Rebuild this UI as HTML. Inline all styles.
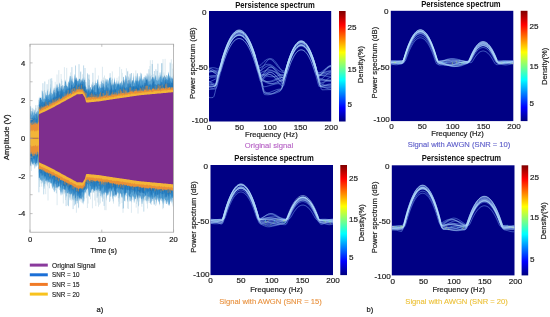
<!DOCTYPE html>
<html><head><meta charset="utf-8"><style>
html,body{margin:0;padding:0;background:#fff;width:550px;height:317px;overflow:hidden;}
svg{display:block;will-change:transform;}
</style></head><body><svg width="550" height="317" viewBox="0 0 550 317"><defs><clipPath id="lc"><rect x="30.0" y="44.2" width="143.6" height="188.0"/></clipPath><filter id="sb" x="-2%" y="-2%" width="104%" height="104%"><feGaussianBlur stdDeviation="0.4"/></filter></defs><g clip-path="url(#lc)"><g filter="url(#sb)"><path d="M30.1 118.2V114.4M29.9 158.2V165.1M30.3 118.2V111.7M30.3 158.2V161.6M30.8 118.2V106.5M31.2 158.2V166.2M31.7 118.2V112.7M31.4 158.2V171M31.9 118.2V114.6M32 158.2V162.2M32.5 118.2V112.9M32.4 158.2V161.6M32.9 118.2V112.5M32.9 158.2V164.3M33.4 118.2V109.2M33.7 158.2V165M34.2 118.2V113.6M34.1 158.2V164M34.3 118.2V111.9M34.5 158.2V168.5M35.1 118.2V113.4M35 158.2V165.6M35.5 118.2V105.2M35.6 158.2V161.6M36.1 118.2V105.2M36.1 158.2V163.7M36.4 118.2V112.2M36.6 158.2V161.6M37 118.2V113.8M37 158.2V161.7M37.6 118.2V105.2M37.5 158.2V162.9M38.2 118.2V105.2M37.9 158.2V162.2M38.5 118.2V111.9M38.5 158.2V161.3M39.2 106.2V97.7M39 170.3V178M39.7 105.9V102.6M39.6 170.6V187M39.8 105.7V99.4M39.8 170.8V174.2M40.4 105.5V101.3M40.4 171V174M40.8 105.3V99.3M40.9 171.2V180.4M41.4 105V99.3M41.7 171.5V186.7M41.8 104.8V97.5M41.9 171.7V177.4M42.3 104.6V100.5M43 104.4V100.3M43.2 172.1V180M43.4 104.1V93.4M43.6 172.4V176.5M43.9 103.9V91.1M44.2 172.6V186.4M44.6 103.7V90M44.5 172.8V177.5M44.8 103.5V100.3M45.1 173V178M45.7 173.2V194.2M45.9 173.5V178.1M46.5 102.7V98.3M47.1 102.5V95.2M47.1 174V177.6M47.5 174.3V186.3M47.9 102V88.9M48 174.5V200.5M48.6 101.7V79.6M48.4 174.8V178.7M49.1 175V179.1M49.5 175.3V181.1M50.2 101V97.9M50.2 175.5V183.4M50.6 100.7V84.3M50.4 175.8V180.7M50.9 100.4V91.7M51.2 176.1V180M51.5 100.2V93.2M52 99.9V80.7M51.8 176.6V184.4M52.3 99.7V95.4M52.5 176.8V181.1M52.9 99.4V91.1M53.1 177.1V185.3M53.4 99.2V90.8M53.5 177.3V190M54.2 98.9V86.6M54 177.6V186.8M54.5 98.7V88M54.7 177.8V185.1M55.2 98.4V81.8M55.2 178.1V186.4M55.3 98.1V94.2M55.4 178.4V181.9M56.1 97.8V87.7M56.1 178.7V182.7M56.7 97.6V93.6M57 97.3V74.5M57.1 179.2V205.2M57.5 97V90.4M57.4 179.5V183.9M58 96.8V93.6M57.9 179.7V182.9M58.3 96.5V88.8M58.8 96.2V70.2M59.1 180.3V183.6M59.5 95.9V92M59.9 95.7V90.7M60.3 95.4V84.5M60.5 181.1V191.7M61.1 95.1V74M61.1 181.4V185M61.5 94.8V78.9M61.7 181.7V189.9M62 94.6V90.7M61.9 181.9V185.7M62.4 94.3V89.8M62.4 182.2V194.5M62.9 94V89.7M62.8 182.5V187.4M63.4 93.7V85.5M63.3 182.8V203.5M64 93.5V86.8M64 183V189.3M64.4 93.2V67.2M64.6 183.3V194.3M64.8 92.9V87.1M65.1 183.6V187.1M65.3 92.7V88.5M65.6 183.8V200.1M65.9 92.4V87.6M66 184.1V188.2M66.7 92.1V67.9M66.7 184.4V189.2M66.8 91.8V86M67 184.7V191.8M67.3 91.6V84M67.5 184.9V188.5M67.9 91.3V88.1M68 185.2V193.9M68.6 91V81.1M68.4 185.5V191.7M69.1 185.7V197.1M69.7 90.5V75.8M69.6 186V197.6M70 90.2V82.4M70.1 186.3V199.9M70.6 89.9V72.4M70.3 186.6V191.3M70.8 89.7V83.8M71.1 186.8V195.1M71.5 89.4V79M71.6 187.1V200.5M72.1 89.1V81.1M71.9 187.4V199M72.6 88.9V83.8M72.7 187.6V199.4M73 88.6V82.4M73 187.9V200.4M73.4 88.3V84.8M73.4 188.2V200M73.8 88V85M74.1 188.5V198.7M74.5 87.8V82.5M74.3 188.7V195.8M75.2 87.5V83M75.6 87.2V80.2M75.9 86.9V81.9M76.4 86.6V78M76.4 189.9V212.7M77.2 86.3V78.7M77.2 190.2V194.9M77.3 86.3V83.2M77.4 190.2V197.1M77.9 86.3V80.6M78.1 190.2V193.2M78.7 86.3V82.4M78.4 190.2V208.3M79.2 86.2V80M79 190.3V196.2M79.3 86.2V82.9M79.7 190.3V195.5M80 86.2V81.2M80.2 190.3V196.3M80.6 86.2V72.3M80.8 190.4V201.6M81.6 86.1V79.2M81.3 190.4V195.6M81.9 190.4V197.6M82.7 86.1V74.3M82.4 190.4V200.4M82.9 86.6V80.3M83.2 189.9V194.5M83.7 87.4V82.8M83.9 88.3V84.3M83.8 188.2V194M84.5 89.1V84.2M84.5 187.4V199.4M85 90V82.1M84.9 186.6V190M85.6 184.6V192.1M85.9 93.9V89.3M86 182.6V189M86.3 181.9V198.3M87.2 94.6V83.5M86.8 181.9V190.7M87.6 94.5V74.5M87.4 182V208M88 94.5V90.4M88.1 182V203.5M88.5 94.4V82M88.6 182.1V185.3M89.1 94.4V75M88.9 182.1V186M89.3 94.3V83.5M89.5 182.2V190M90 94.3V89.6M90 182.2V187.6M90.5 182.3V199.3M91.2 94.2V89.3M90.8 182.3V187.7M91.5 94.1V83.8M91.7 182.4V192.5M91.9 94.1V90.8M91.9 182.4V192.9M92.5 94V82.3M92.4 182.5V208.3M92.9 94V89.3M93.2 182.5V187.8M93.4 93.9V89.6M93.7 182.6V192.7M93.9 93.9V87.6M94.3 93.8V90.5M94.7 182.7V200.5M95.2 93.8V67.8M95.2 182.7V187.1M95.6 93.7V90.5M95.4 182.8V188.8M95.9 93.7V90.6M95.8 182.8V206.1M96.6 182.9V188.8M96.8 93.6V86.9M97.2 182.9V189M97.7 93.5V87.6M97.6 183V189.4M97.8 93.5V90.2M97.9 183V202.5M98.4 93.4V75.5M98.5 183.1V206.7M98.9 93.4V82.2M99.1 183.1V186.2M99.3 183.2V204.8M100.2 93.2V86.1M100.5 93.2V88.3M100.4 183.3V203.4M101.1 93.1V81.4M100.9 183.4V192.5M101.6 93V87.1M101.6 183.5V187.9M101.8 92.9V89.5M102.2 183.6V189.1M102.4 92.8V66.8M102.5 183.7V187.3M102.9 92.8V85.9M103.1 183.7V193M103.6 92.7V77.5M103.4 183.8V198.8M104.1 92.6V86.6M103.9 183.9V188.7M104.5 92.5V75.5M104.7 184V190.2M105.1 92.5V87.7M104.8 184.1V210.1M105.6 92.4V78.3M105.8 92.3V87M106 184.2V210.2M106.5 184.3V200.4M107.2 92.1V79.4M107 184.4V193.3M107.4 92V86.1M107.5 184.4V189.4M107.8 92V87.5M107.9 184.5V194.9M108.6 91.9V87.4M108.3 184.6V188M109.1 91.8V83.6M109.1 184.7V188.9M109.4 91.7V86.6M109.9 91.7V83.2M110.2 184.8V200.8M110.6 91.6V87.1M110.7 184.9V188M111 91.5V77.3M110.9 185V192M111.6 91.4V83.2M111.9 91.4V82M111.9 185.1V189.2M112.3 91.3V71.4M112.7 185.2V198.8M113.2 91.2V87.3M113.7 91.1V87.8M113.5 185.4V203.6M114.1 91.1V86.9M114.1 185.4V191.8M114.4 91V86.7M114.5 185.5V193.3M115.1 90.9V86.1M115 185.6V188.9M115.6 90.8V87.6M115.5 185.7V194.6M116 90.8V85.4M116.1 185.7V192.3M116.3 90.7V83.9M116.4 185.8V193.2M117 90.6V77.8M116.8 185.9V193M117.3 90.5V83.9M117.3 185.9V193.6M118.1 90.5V86.9M117.8 186V193.7M118.7 90.4V84.3M118.7 186.1V201.7M118.9 90.3V76.4M119.7 90.3V66.9M119.7 186.2V199.3M120.1 90.2V84.4M119.9 186.3V204.1M120.5 90.1V86.1M121 90V85.1M120.9 186.5V189.7M121.6 90V69.1M121.6 186.5V190.7M122.1 89.9V82M122 186.6V203M122.3 89.8V72.9M123.1 89.7V83.5M123 186.8V212.8M123.5 89.7V77.3M123.3 186.8V198.7M124.1 89.6V84.7M124.4 89.5V79.4M124.4 187V190.2M125 89.5V82.8M124.9 187.1V191M125.3 89.4V86.2M125.4 187.1V190.9M126 89.3V80.6M126 187.2V196.6M126.4 89.2V68.3M126.6 187.3V190.9M127 89.2V76.3M127.1 187.3V190.4M127.6 89.1V83.3M127.6 187.4V208.4M127.8 89V70.8M127.9 187.5V193.9M128.3 88.9V76.1M128.4 187.6V209M129 88.9V79.8M128.9 187.6V201.5M129.3 88.8V83.5M129.6 187.7V200.6M130.1 88.7V73.6M130 187.8V199.6M130.4 88.6V84.9M130.6 187.9V193.5M131.1 88.6V73.4M131 187.9V196.2M131.4 88.5V80.7M131.4 188V212.8M131.9 88.4V85.3M132.2 188.1V199.9M132.7 88.3V82.8M132.7 188.2V192.9M133.1 88.3V77.6M133.6 88.2V73.3M133.6 188.3V195M133.9 88.1V82.7M134.2 188.4V191.9M134.3 88.1V84.9M134.8 88V84M135.1 188.5V199.2M135.3 87.9V76.2M135.6 188.6V194.5M135.8 87.8V70.4M136.2 188.7V207.6M136.3 87.8V83.3M136.6 188.7V204M137.1 87.7V73.4M136.8 188.8V192.5M137.4 87.6V83.1M137.4 188.9V192M137.9 87.5V76.4M138 189V213.6M138.3 87.5V78.2M138.6 189V195.8M139 87.4V76.5M138.8 189.1V205M139.3 87.3V83.1M139.7 189.2V201.5M140 87.2V79.9M140 189.2V193.6M140.4 87.2V72.6M141.1 87.2V82.6M141.1 189.3V193.1M141.6 87.1V74M141.4 189.4V198.8M142.2 87.1V80.8M141.8 189.4V206.7M142.7 87V82M142.7 189.5V195.6M143 87V80M143.1 189.5V201.6M143.4 86.9V81.4M143.6 189.6V199.6M144.1 86.9V80.1M144 189.6V193.5M144.4 86.8V82.1M144.6 189.7V200.6M144.9 86.8V82.7M144.9 189.7V197.5M145.7 86.7V82.4M145.7 189.8V193.5M146.2 86.7V80.5M146 189.8V201.4M146.3 86.7V77M146.3 189.8V196M147.1 86.6V73.4M147 189.9V199.4M147.5 86.6V77.5M147.5 189.9V208.5M148 86.5V74.5M148.2 190V201.3M148.6 86.5V75.6M148.5 190V199.7M148.8 86.4V77M149.1 190.1V203M149.5 86.4V81.5M149.5 190.1V199.4M149.9 86.3V66M150 190.2V203M150.3 86.3V60.3M150.6 190.2V194.4M151 190.3V194M151.5 86.2V75M151.5 190.3V204.8M151.9 86.1V63.9M152.1 190.4V196.6M152.4 86.1V60.1M152.5 190.4V195.5M153 86.1V79.5M152.9 190.4V196.3M153.7 86V74.2M153.6 190.5V195.1M153.9 86V81.4M154.1 190.5V204.3M154.4 85.9V77.5M155.1 85.9V76.2M154.9 190.6V197.7M155.6 85.8V82M155.4 190.7V206M156 85.8V80.9M156.1 190.7V193.7M156.4 85.7V80.9M156.6 190.8V197.4M157.2 85.7V79.8M157.1 190.8V194.2M157.6 190.9V194.8M157.8 85.6V82.5M158.3 85.5V80.7M158.6 191V195.7M159.2 85.5V81.4M159.2 191V195.2M159.6 85.5V72.6M159.6 191V204.1M160 85.4V74.7M160.2 191.1V197.8M160.4 85.4V80.4M160.3 191.1V198.6M161 85.3V81.3M161.1 191.2V199.2M161.5 85.3V70.3M161.6 191.2V201.3M162.2 85.2V78.7M162.1 191.3V200.9M162.6 85.2V76.1M163 85.1V59.1M162.8 191.4V209.2M163.4 85.1V75.7M163.5 191.4V197.4M163.9 85V72.5M164 191.5V198M164.6 85V79.7M164.4 191.5V199.1M165.1 84.9V58.9M164.9 191.6V197.2M165.6 84.9V76.2M165.6 191.6V194.9M165.8 84.9V76.7M165.9 191.6V194.7M166.6 191.7V201.7M167.1 191.7V201M167.6 84.7V75.8M167.5 191.8V201.9M167.9 84.7V81M168.2 191.8V204.5M168.6 84.6V78.6M168.4 191.9V200.2M168.9 84.6V78M169.2 191.9V201.6M169.3 84.5V76.1M169.5 192V205.8M170 192V195.1M170.7 84.4V63.4M170.3 192.1V198.5M170.9 84.4V79.8M171.1 192.1V195.1M171.3 84.3V59.3M171.3 192.2V196.1M172.1 84.3V79.5M172.1 192.2V195.5M172.6 84.3V68.7M172.6 192.2V201.7M172.9 84.2V63.7M173.3 84.2V81.1M173.3 192.3V206.4" stroke="#bcd6e4" stroke-width="0.6" fill="none" opacity="0.9"/><path d="M29.9 119.2V112M30.4 119.2V117M30.6 157.2V161.6M30.9 119.2V110.9M31 157.2V163.2M31.7 119.2V111.1M31.4 157.2V162.6M32.1 119.2V108.2M32.7 119.2V113.5M33 119.2V115.8M33.5 119.2V112.6M33.9 157.2V159.3M34.6 119.2V113.7M35.1 119.2V110.1M35.6 119.2V116M35.9 119.2V108.2M36.1 157.2V162.5M36.7 119.2V111.7M36.6 157.2V163M36.9 119.2V116.3M37 157.2V165.5M37.6 119.2V110.7M37.7 157.2V162.7M38 157.2V161.8M38.4 119.2V116.4M38.5 157.2V161.1M38.9 106.2V99.8M38.9 170.3V192.3M39.6 105.9V97.9M39.4 170.6V178M39.8 105.7V103.6M40.4 171V178M41.2 105.3V99.9M41.2 171.2V183.5M41.4 105V102.8M41.3 171.5V174M42 104.8V90.6M42.5 171.9V179.4M42.9 104.4V83.2M43.2 172.1V180.3M43.5 104.1V99.2M43.7 172.4V194.4M43.9 103.9V101.7M44.2 172.6V188.6M44.6 172.8V184.1M44.8 103.5V81.5M45.2 173V183.5M45.5 103.2V99.1M45.4 173.2V175.9M46 103V100.2M45.9 173.5V177.1M46.6 102.7V100.7M46.7 173.8V176M47.1 102.5V84.2M47.3 102.2V96.7M47.9 174.5V180.1M48.4 174.8V182.7M49.1 101.5V99.1M49.1 175V178M49.4 101.2V96M49.4 175.3V188.3M49.9 101V94.9M50.3 100.7V78.7M51 100.4V97M50.9 176.1V179.8M51.7 100.2V78.2M52.2 99.9V95.9M51.9 176.6V186.3M52.4 176.8V188.7M53.1 99.4V97.4M53 177.1V180.3M53.4 177.3V184.4M54.1 98.9V88.1M53.8 177.6V180.1M54.4 98.7V92.5M54.6 177.8V185.5M54.8 178.1V181.5M55.6 98.1V93M55.4 178.4V190.4M56.7 97.6V95.5M56.4 178.9V193.3M56.9 97.3V84.6M57 179.2V184M57.5 97V90.6M57.6 179.5V182.2M58.5 96.5V87M58.6 180V182.4M59 180.3V186.6M59.7 95.9V93.8M59.3 180.6V183.8M59.8 95.7V83.5M59.9 180.8V190M60.5 95.4V87.9M60.3 181.1V190.4M60.8 181.4V183.7M61.4 94.8V88.7M61.4 181.7V186.8M61.9 94.6V80.7M61.9 181.9V192.2M63.1 94V88.7M63.2 182.5V187.5M63.4 93.7V89.3M63.7 182.8V188.2M65.2 92.9V86.6M65.6 92.7V87.4M65.3 183.8V190.4M65.8 92.4V86.2M66.1 184.1V206.1M66.7 184.4V196.3M66.9 184.7V192.8M67.5 91.6V87.7M68 91.3V87.6M67.9 185.2V205.3M68.3 91V82.8M68.5 185.5V206.2M69 90.8V85M68.9 185.7V188.5M69.4 90.5V85.4M69.5 186V188.6M70.1 186.3V193.4M70.5 89.9V80.5M70.5 186.6V194.3M70.9 89.7V86M71 186.8V191.7M71.6 89.4V84.8M71.5 187.1V194M71.9 89.1V67.1M71.8 187.4V190.4M72.5 187.6V190M72.8 88.6V78.6M73.1 187.9V209.1M73.4 88.3V83.8M73.6 188.2V195.9M74.1 188.5V198.5M74.6 87.8V81.9M74.4 188.7V205.5M75 189V199.7M75.5 87.2V65.5M75.6 189.3V200.5M76 86.9V82M75.9 189.6V199.3M76.5 86.6V79.8M76.6 189.9V201.1M76.9 86.3V80.8M77 190.2V193.1M77.7 86.3V83.8M77.6 190.2V203.3M78.2 190.2V195.5M78.5 86.3V84M78.6 190.2V207.4M79 86.2V64.2M79 190.3V199.2M79.4 86.2V78.8M79.8 86.2V79.7M80 190.3V195.4M80.7 86.2V71.5M80.5 190.3V195.8M81.1 190.4V196.9M81.7 86.1V81.8M82.2 86.1V83.4M82.2 190.4V202.7M82.4 190.4V193.5M82.9 86.6V80.3M83 189.9V197.9M83.6 87.4V65.4M83.6 189.1V194.3M83.8 88.3V79.2M84 188.2V201.3M84.5 89.1V85.8M84.6 187.4V191.3M85 90V68M84.9 186.6V189.3M85.3 91.9V89.2M85.6 184.6V191M85.8 93.9V82M85.9 182.6V193.5M86.4 94.6V90M86.7 181.9V184.5M87 94.6V90M87.2 181.9V184.3M87.5 94.5V73.3M87.3 182V185.7M88.6 94.4V78.7M88.7 182.1V189.6M88.9 94.4V74.4M88.9 182.1V191.7M89.5 94.3V79.8M89.4 182.2V185.9M90.2 94.3V91M89.8 182.2V189.2M90.5 94.2V89.3M90.6 182.3V185.1M90.9 94.2V90.5M90.8 182.3V186M91.4 94.1V89.6M91.4 182.4V185M92.1 182.4V188M92.6 182.5V187.1M92.9 94V72.9M93.5 93.9V90.4M93.4 182.6V191.9M93.9 182.6V187.4M94.6 93.8V90.4M94.5 182.7V189M95 93.8V82.9M94.9 182.7V189.8M95.4 93.7V91.2M95.8 93.7V85.1M96 182.8V187.5M96.4 93.6V91.2M96.6 182.9V185.7M97.2 93.6V88.5M97.1 182.9V197.8M97.3 93.5V89.6M97.4 183V191.5M98.1 93.5V85M97.9 183V196.3M98.3 93.4V90.2M98.8 93.4V83.9M98.9 183.1V186.2M99.3 93.3V88.4M99.4 183.2V191.3M99.9 183.2V192.8M100.4 93.2V84.3M100.6 183.3V196.1M101.1 93.1V90.8M100.9 183.4V185.7M101.4 93V81.6M102.1 92.9V90.4M102.1 183.6V193.8M102.7 92.8V90.3M102.6 183.7V201.6M103.1 92.8V80.1M103.1 183.7V186.1M103.7 92.7V86.4M103.3 183.8V194.4M103.9 92.6V80.8M104.1 183.9V205.9M104.3 92.5V88.8M104.4 184V189.2M105.1 92.5V89.6M104.9 184.1V187.7M105.7 92.4V86.8M105.7 184.1V188.3M105.9 92.3V85.3M106.4 92.2V81.6M106.5 184.3V191.8M106.8 92.1V79.5M106.9 184.4V189.1M107.4 92V88.1M107.3 184.4V190M107.9 92V86.2M107.8 184.5V187M108.6 184.6V187.1M109 184.7V187.4M109.5 91.7V88.5M109.6 184.8V201.9M110.1 91.7V73.2M109.9 184.8V188.5M110.6 91.6V80.6M110.6 184.9V188.2M111.6 91.4V80.2M111.4 185.1V189.4M112 185.1V189.9M112.4 91.3V78.6M112.6 185.2V192.2M113.2 185.3V201.4M113.4 91.1V85M113.3 185.4V192.6M114 91.1V88M114.5 91V88.7M114.3 185.5V195.2M115.4 90.8V85.5M115.5 185.7V192M116.1 90.8V85.3M116.5 185.8V189.9M116.9 90.6V86.1M117 185.9V190.2M118.3 186.1V198.1M118.9 90.3V82.7M119 186.2V206.5M119.4 90.3V86.1M120.1 90.2V86.9M120.1 186.3V188.9M120.5 90.1V82.9M120.5 186.4V193.4M121.2 90V86.8M121.1 186.5V189.2M121.5 90V87.4M121.5 186.5V192.6M121.8 89.9V82.8M121.8 186.6V193.9M122.5 89.8V87.4M123.1 89.7V80.2M123.1 186.8V208.8M123.5 89.7V77M123.5 186.8V208.1M124.1 89.6V86.7M123.9 186.9V190.5M124.4 89.5V82.1M124.5 187V196.4M125 187.1V201.4M125.9 89.3V79.1M126.1 187.2V196M126.6 89.2V84.4M127 89.2V86.9M127.1 187.3V194.1M127.6 89.1V71.5M127.5 187.4V190.7M127.8 187.5V190.2M128.4 88.9V77.3M128.6 187.6V191.6M129.2 88.9V85.9M129.1 187.6V196.7M129.4 187.7V192.2M130.1 88.7V74.3M130.1 187.8V191M130.5 88.6V83.7M130.5 187.9V201M130.9 187.9V190.4M131.5 88.5V73M131.4 188V191.1M132 88.4V81.3M132 188.1V190.1M132.5 88.3V86.2M133.1 88.3V85.3M133 188.2V192.1M133.5 88.2V81.2M134.1 188.4V195.3M134.6 188.4V196.5M135.1 88V84M135.6 188.6V192.8M136.1 87.8V81.6M136 188.7V195.5M136.4 87.8V83.3M136.9 87.7V82.9M136.9 188.8V193.4M137.5 87.6V73.3M137.4 188.9V195.9M137.9 87.5V85.1M138 189V198.7M138.5 189V206.3M139 87.4V84.2M139.5 87.3V76.4M140.2 87.2V81.3M139.8 189.2V193M140.6 87.2V83.3M140.4 189.3V194.4M141.1 87.2V73.2M141.2 189.3V199.3M141.6 87.1V84.6M141.9 87.1V84.2M142.1 189.4V203.9M142.6 189.5V193.9M143.1 87V81.9M143 189.5V191.9M143.4 86.9V79M143.4 189.6V197M144.2 86.9V84.8M143.8 189.6V211.6M144.4 86.8V77.1M144.4 189.7V192.7M145.1 86.8V84.2M145 189.7V196.4M145.5 86.7V78.3M145.4 189.8V199.9M146.1 86.7V76.1M146.2 189.8V200.7M146.5 86.7V82.7M147 86.6V84.5M146.9 189.9V200.8M147.3 189.9V200.4M147.8 86.5V83.6M147.9 190V196.8M148.4 190V193M148.9 86.4V69.2M148.9 190.1V201.1M149.4 190.1V198.2M150.2 190.2V194.5M150.3 86.3V76.3M150.6 190.2V195.3M151 86.2V79.3M151.4 190.3V193.8M151.9 86.1V80.7M152.1 190.4V200.9M152.4 86.1V64.1M152.6 190.4V193.4M153.1 190.4V200.8M153.5 86V81.6M154 86V77.1M154.2 190.5V197.7M154.4 85.9V71M154.4 190.6V204.5M155.3 85.8V83.7M155.9 85.8V69.2M155.9 190.7V193.3M156.4 85.7V83.2M157.2 85.7V70.9M157.1 190.8V194.4M157.5 85.6V83.4M157.3 190.9V196.2M157.9 85.6V63.6M158.4 85.5V79.5M158.6 191V194.1M159 85.5V75.5M159 191V195.6M159.7 191V194.5M159.9 191.1V195M160.3 85.4V82.9M160.5 191.1V196.3M161.1 85.3V83.2M161 191.2V197.9M161.6 85.3V63.3M161.4 191.2V196.3M162 85.2V63.2M161.9 191.3V196.4M162.7 191.3V198.9M163 85.1V77.5M162.8 191.4V194.7M163.3 191.4V207.8M164.1 85V80.7M164.2 191.5V195.7M164.6 85V74.8M164.7 191.5V198.9M165.1 84.9V77M165 191.6V201M165.6 84.9V77.2M165.5 191.6V199.6M165.9 84.9V77.2M166.5 84.8V75.1M166.4 191.7V195.2M167 191.7V198.2M167.6 191.8V194.9M168.1 84.7V76.5M168.6 191.9V196.8M168.9 191.9V194.9M169.6 84.5V79.9M169.3 192V197.6M170.1 84.5V62.5M170.1 192V197.9M170.6 84.4V81.5M170.4 192.1V198.5M171 84.4V79.9M171 192.1V195.5M171.6 84.3V81.2M171.4 192.2V196.5M172.1 192.2V200.3M172.6 84.3V79M172.3 192.2V197M173.1 84.2V79.5M173.1 192.3V197.4M173.5 192.3V197.3" stroke="#88bad8" stroke-width="0.6" fill="none" opacity="0.9"/><path d="M30 106.2 L30.5 106.2 L31 114.4 L31.5 114.7 L32 110.6 L32.5 113.3 L33 107 L33.5 116.1 L34 113.8 L34.5 108.9 L35 113.7 L35.5 113.9 L36 113.4 L36.5 111.8 L37 114.2 L37.5 111.7 L38 110.4 L38.5 115.7 L39 101.8 L39.5 101.5 L40 96.1 L40.5 101.3 L41 96.3 L41.5 100.8 L42 98.7 L42.5 90.6 L43 92.2 L43.5 98.5 L44 99.9 L44.5 98.4 L45 98 L45.5 91.4 L46 96.1 L46.5 98.5 L47 90.4 L47.5 90.5 L48 97.1 L48.5 94.6 L49 95 L49.5 93.7 L50 90.5 L50.5 86.7 L51 96.2 L51.5 93.1 L52 92.6 L52.5 94.4 L53 94 L53.5 88.7 L54 92.5 L54.5 92.3 L55 94.2 L55.5 90 L56 85.9 L56.5 89.9 L57 83.3 L57.5 86.6 L58 88.3 L58.5 91.1 L59 84.9 L59.5 81.9 L60 91.2 L60.5 85.3 L61 89 L61.5 89.6 L62 85.9 L62.5 90.1 L63 89.8 L63.5 88.4 L64 86 L64.5 85.9 L65 79.2 L65.5 81.3 L66 82 L66.5 86.1 L67 85.9 L67.5 86.6 L68 86.9 L68.5 81.8 L69 82.2 L69.5 79.4 L70 76.2 L70.5 75.9 L71 84.3 L71.5 79.8 L72 75.1 L72.5 82.2 L73 80.9 L73.5 83.9 L74 82.8 L74.5 76.3 L75 73.5 L75.5 79.5 L76 81.2 L76.5 78.4 L77 80.7 L77.5 81.2 L78 81.5 L78.5 80.9 L79 79 L79.5 79 L80 78.6 L80.5 82 L81 81.7 L81.5 81.5 L82 80.3 L82.5 77.7 L83 81.8 L83.5 81.8 L84 76 L84.5 84.5 L85 77.5 L85.5 85.2 L86 89.4 L86.5 89.9 L87 87.7 L87.5 89.6 L88 89.6 L88.5 89.3 L89 87.6 L89.5 90.3 L90 87.6 L90.5 86.8 L91 89.1 L91.5 89.4 L92 89.9 L92.5 87.1 L93 81.1 L93.5 86.5 L94 86.2 L94.5 84.8 L95 88.6 L95.5 79.7 L96 85.8 L96.5 82.9 L97 82.9 L97.5 79.5 L98 79.5 L98.5 87.3 L99 88.2 L99.5 84.8 L100 87.6 L100.5 88.3 L101 87.5 L101.5 79 L102 86.3 L102.5 82.8 L103 83.2 L103.5 87.8 L104 81.1 L104.5 88.1 L105 86.7 L105.5 78.4 L106 82.8 L106.5 81.2 L107 78.7 L107.5 80.9 L108 84.4 L108.5 80.9 L109 79.6 L109.5 77.7 L110 77.7 L110.5 77.6 L111 86.3 L111.5 86.4 L112 84.9 L112.5 84.6 L113 82.6 L113.5 85.1 L114 80.8 L114.5 77 L115 84.8 L115.5 82.6 L116 85.1 L116.5 79.5 L117 86.6 L117.5 86.5 L118 79.8 L118.5 82.7 L119 84.7 L119.5 84.5 L120 82.3 L120.5 85.7 L121 81.2 L121.5 81.6 L122 85.4 L122.5 85.6 L123 84.9 L123.5 75.7 L124 84.6 L124.5 81.8 L125 83.4 L125.5 75.4 L126 75.3 L126.5 78.1 L127 82.2 L127.5 84.3 L128 82.6 L128.5 83.8 L129 84.4 L129.5 76.9 L130 82.8 L130.5 75.7 L131 84.3 L131.5 82.1 L132 82.6 L132.5 80.4 L133 81.3 L133.5 74.7 L134 82.3 L134.5 83.8 L135 79.4 L135.5 81.5 L136 75 L136.5 78.2 L137 82.1 L137.5 73.6 L138 82.9 L138.5 80 L139 81.4 L139.5 79.2 L140 77.5 L140.5 80.1 L141 73.2 L141.5 76.6 L142 81.2 L142.5 78.1 L143 81.7 L143.5 79.5 L144 76.6 L144.5 82.2 L145 74.4 L145.5 77.4 L146 81.2 L146.5 81.2 L147 72.6 L147.5 81.7 L148 72.5 L148.5 80.9 L149 82 L149.5 80.4 L150 72.3 L150.5 81.4 L151 79.8 L151.5 78.1 L152 80.6 L152.5 76.4 L153 78.8 L153.5 76.4 L154 80.2 L154.5 78.9 L155 77.9 L155.5 75.9 L156 74.8 L156.5 80 L157 80.4 L157.5 81.3 L158 76 L158.5 79.4 L159 81 L159.5 77.3 L160 77.4 L160.5 75.4 L161 71.3 L161.5 79.6 L162 74.7 L162.5 80.4 L163 78.1 L163.5 76.7 L164 80.5 L164.5 80.7 L165 78.2 L165.5 76.5 L166 78.8 L166.5 79.5 L167 74.5 L167.5 80.1 L168 75.1 L168.5 71.5 L169 75.1 L169.5 76.3 L170 79.9 L170.5 75.6 L171 79.1 L171.5 76.6 L172 79 L172.5 79.2 L173 75.7 L173.5 73.7 L173.5 199.1 L173 207.3 L172.5 197.6 L172 198.2 L171.5 204.1 L171 197.4 L170.5 200.9 L170 201.9 L169.5 205.4 L169 203.8 L168.5 206 L168 199.6 L167.5 201.2 L167 204 L166.5 204.1 L166 200.1 L165.5 200.1 L165 204.2 L164.5 198.6 L164 198.1 L163.5 205.7 L163 199.3 L162.5 204.5 L162 198 L161.5 198.2 L161 201.6 L160.5 198.1 L160 200.8 L159.5 206 L159 197.5 L158.5 202.6 L158 200.4 L157.5 199 L157 196.9 L156.5 205.8 L156 199.1 L155.5 195.8 L155 196.8 L154.5 196.9 L154 205.5 L153.5 196.8 L153 199.9 L152.5 197.9 L152 196 L151.5 201.3 L151 202.5 L150.5 204.8 L150 196.4 L149.5 197.1 L149 196.3 L148.5 197.3 L148 195.9 L147.5 196.4 L147 204.9 L146.5 196.8 L146 195 L145.5 195.5 L145 195.4 L144.5 197.6 L144 196.3 L143.5 201.6 L143 195.2 L142.5 199.2 L142 204.4 L141.5 198.9 L141 198.5 L140.5 196.5 L140 195.6 L139.5 195.5 L139 199.6 L138.5 194.2 L138 197.5 L137.5 202.8 L137 194.4 L136.5 193.9 L136 198.9 L135.5 199.2 L135 196.8 L134.5 200.6 L134 203.4 L133.5 196.1 L133 197.7 L132.5 195 L132 197.4 L131.5 203 L131 196.8 L130.5 197.2 L130 202.8 L129.5 195.6 L129 195.9 L128.5 194.3 L128 199.1 L127.5 202.4 L127 192.3 L126.5 193 L126 193 L125.5 195 L125 194.8 L124.5 201 L124 200.7 L123.5 193.6 L123 193 L122.5 198.6 L122 196.2 L121.5 198.1 L121 193.8 L120.5 192.7 L120 192.7 L119.5 198.7 L119 192.1 L118.5 193.5 L118 193.2 L117.5 191.4 L117 193.6 L116.5 197.1 L116 194.3 L115.5 197.9 L115 190.9 L114.5 197.5 L114 195 L113.5 196.5 L113 195.2 L112.5 199.8 L112 191.2 L111.5 191 L111 197.3 L110.5 196.1 L110 190.3 L109.5 192.8 L109 191.1 L108.5 195.7 L108 191.8 L107.5 195.9 L107 194.8 L106.5 199.3 L106 189.8 L105.5 193.6 L105 189.8 L104.5 194 L104 195.1 L103.5 192.7 L103 192.8 L102.5 198.2 L102 191.3 L101.5 194.8 L101 198.4 L100.5 189.3 L100 188.9 L99.5 188.9 L99 193.4 L98.5 188.5 L98 190.2 L97.5 188 L97 190.4 L96.5 189.6 L96 192.6 L95.5 188 L95 191.4 L94.5 187.9 L94 193.8 L93.5 188.7 L93 187.9 L92.5 188.9 L92 189.4 L91.5 188.6 L91 192.9 L90.5 192 L90 193.5 L89.5 197.2 L89 196 L88.5 195.3 L88 187.6 L87.5 189.1 L87 188.8 L86.5 189.9 L86 190.2 L85.5 192.7 L85 192 L84.5 192.8 L84 195.9 L83.5 201.5 L83 204.9 L82.5 196.2 L82 197.3 L81.5 198.8 L81 199.5 L80.5 198.2 L80 197.8 L79.5 201.5 L79 195.7 L78.5 195.5 L78 201.4 L77.5 200.6 L77 197.5 L76.5 195.1 L76 204.6 L75.5 204.3 L75 194.2 L74.5 194.8 L74 202.4 L73.5 193.8 L73 196 L72.5 200.6 L72 192.8 L71.5 194.8 L71 193.5 L70.5 194.5 L70 201.3 L69.5 191.5 L69 191.2 L68.5 192.7 L68 192.7 L67.5 193.1 L67 193.8 L66.5 189.5 L66 199.1 L65.5 189.5 L65 190.1 L64.5 189 L64 189.6 L63.5 188.8 L63 194.7 L62.5 192 L62 187.6 L61.5 196.1 L61 190.7 L60.5 196.1 L60 186.2 L59.5 186.5 L59 185.9 L58.5 186 L58 189.2 L57.5 187.2 L57 187.5 L56.5 184.7 L56 184 L55.5 183.6 L55 185.4 L54.5 191.3 L54 192.6 L53.5 185.9 L53 187 L52.5 188.2 L52 183.1 L51.5 183.4 L51 182.6 L50.5 184.1 L50 181.4 L49.5 182.1 L49 182.7 L48.5 181.7 L48 179.7 L47.5 180.5 L47 185.5 L46.5 180.2 L46 180.7 L45.5 181.5 L45 179.2 L44.5 179 L44 187.6 L43.5 180.3 L43 177.8 L42.5 183.7 L42 180.2 L41.5 181.2 L41 178.9 L40.5 180.6 L40 179.1 L39.5 175.9 L39 182.1 L38.5 161.2 L38 166.1 L37.5 163.5 L37 160.4 L36.5 165.6 L36 167.2 L35.5 163 L35 169.1 L34.5 162.4 L34 162.7 L33.5 163.8 L33 165.9 L32.5 163 L32 162.2 L31.5 160.5 L31 164.6 L30.5 165.2 L30 161.1Z" fill="#5aa3d4"/><path d="M30 114.4 L30.5 112.2 L31 119.2 L31.5 118.7 L32 119 L32.5 116 L33 119.1 L33.5 118.8 L34 115.3 L34.5 117.6 L35 118.3 L35.5 118.3 L36 112.6 L36.5 119.1 L37 119.1 L37.5 117 L38 115.3 L38.5 115.7 L39 103.5 L39.5 104.7 L40 98.2 L40.5 98 L41 97.8 L41.5 102.6 L42 102.5 L42.5 100.4 L43 102.6 L43.5 102.1 L44 102.8 L44.5 101 L45 102.3 L45.5 102.1 L46 100 L46.5 95.2 L47 95 L47.5 97.9 L48 101.3 L48.5 101.2 L49 97.1 L49.5 99.8 L50 99.9 L50.5 93.2 L51 99.8 L51.5 98.4 L52 94.5 L52.5 98.9 L53 98.4 L53.5 96.8 L54 91.4 L54.5 96.2 L55 97.5 L55.5 95.1 L56 96.6 L56.5 97 L57 93.1 L57.5 89.5 L58 92.3 L58.5 91 L59 95.3 L59.5 94.7 L60 93.7 L60.5 89.6 L61 92.7 L61.5 87.7 L62 93.8 L62.5 90.9 L63 91.5 L63.5 92.6 L64 86 L64.5 92.4 L65 92 L65.5 90.3 L66 88.8 L66.5 89.9 L67 87.5 L67.5 89.2 L68 87.4 L68.5 89.7 L69 86.7 L69.5 89.5 L70 87 L70.5 88.6 L71 88.4 L71.5 84.2 L72 85.6 L72.5 88.2 L73 81.1 L73.5 87.7 L74 86.7 L74.5 86.5 L75 80 L75.5 79.7 L76 85.9 L76.5 81.9 L77 78.8 L77.5 85.2 L78 85.3 L78.5 85.4 L79 79.1 L79.5 85.7 L80 83.3 L80.5 83.6 L81 82.9 L81.5 85.4 L82 83.2 L82.5 84 L83 82 L83.5 81.6 L84 85.9 L84.5 85.5 L85 87.8 L85.5 84.4 L86 92.1 L86.5 90.2 L87 88.4 L87.5 92.6 L88 89.7 L88.5 91.1 L89 89.5 L89.5 93.6 L90 90.2 L90.5 91.5 L91 92.1 L91.5 90.5 L92 89.6 L92.5 86.5 L93 89.7 L93.5 90 L94 91.7 L94.5 92.7 L95 91.5 L95.5 92.3 L96 91.9 L96.5 92.8 L97 86.1 L97.5 86 L98 87.5 L98.5 88.7 L99 92 L99.5 92.7 L100 86.2 L100.5 91.5 L101 88.1 L101.5 87.8 L102 92.1 L102.5 91.2 L103 90.9 L103.5 85.2 L104 89.8 L104.5 89.7 L105 90.4 L105.5 88.4 L106 91.5 L106.5 90.7 L107 91.6 L107.5 87.8 L108 90.9 L108.5 87.9 L109 87.2 L109.5 90.4 L110 91.1 L110.5 90.4 L111 84 L111.5 88.2 L112 88.1 L112.5 89.7 L113 90.5 L113.5 89.3 L114 90.2 L114.5 83.5 L115 89.5 L115.5 89.8 L116 89.2 L116.5 86.7 L117 86.2 L117.5 83 L118 84.6 L118.5 84.6 L119 84 L119.5 86.4 L120 89.7 L120.5 82.6 L121 86.3 L121.5 86.2 L122 88.9 L122.5 82.3 L123 86.1 L123.5 88.4 L124 89.1 L124.5 88.6 L125 87.6 L125.5 88.4 L126 87.9 L126.5 86.5 L127 87.8 L127.5 87.6 L128 84.2 L128.5 87.8 L129 86.9 L129.5 85.2 L130 82.1 L130.5 84.9 L131 87.3 L131.5 86.3 L132 86.1 L132.5 87.6 L133 85.8 L133.5 86.9 L134 87.3 L134.5 86.2 L135 80.5 L135.5 87.2 L136 83.2 L136.5 81.1 L137 81.3 L137.5 80.1 L138 86.2 L138.5 81 L139 86.6 L139.5 79.8 L140 82.8 L140.5 84.9 L141 86 L141.5 85.3 L142 79.6 L142.5 85.9 L143 83.3 L143.5 86.4 L144 82.3 L144.5 85.5 L145 83.5 L145.5 85.8 L146 79.2 L146.5 80.3 L147 79.1 L147.5 85.3 L148 79.1 L148.5 85.2 L149 84.2 L149.5 85.2 L150 83.2 L150.5 84.2 L151 85.7 L151.5 84.9 L152 83.5 L152.5 83.6 L153 82.6 L153.5 80.1 L154 78.5 L154.5 84.6 L155 84.2 L155.5 84.1 L156 85.2 L156.5 84.7 L157 85.2 L157.5 84.2 L158 82.6 L158.5 84.6 L159 84.6 L159.5 84.5 L160 82.7 L160.5 78.3 L161 84 L161.5 82.1 L162 83.1 L162.5 81.4 L163 77.6 L163.5 77.6 L164 84.4 L164.5 84.2 L165 83.4 L165.5 77.4 L166 82.7 L166.5 78.6 L167 81.1 L167.5 83.8 L168 80.9 L168.5 79.3 L169 77.1 L169.5 83.8 L170 81.4 L170.5 80.4 L171 83.1 L171.5 81.6 L172 83.6 L172.5 80.8 L173 80.4 L173.5 83.6 L173.5 195.8 L173 198.6 L172.5 195.7 L172 197.8 L171.5 197.1 L171 195 L170.5 194.4 L170 194.1 L169.5 200.3 L169 194.1 L168.5 200.3 L168 196 L167.5 194.1 L167 195.4 L166.5 198.1 L166 195.4 L165.5 199.2 L165 194.1 L164.5 193.1 L164 200 L163.5 194.5 L163 193.8 L162.5 198.7 L162 199.4 L161.5 194.5 L161 193.2 L160.5 192.8 L160 195.2 L159.5 193 L159 199.5 L158.5 193.3 L158 196.1 L157.5 194.2 L157 195.1 L156.5 197.6 L156 193.6 L155.5 195.5 L155 193.7 L154.5 199.1 L154 193.9 L153.5 192.7 L153 192.7 L152.5 198.9 L152 198.9 L151.5 193.8 L151 198.8 L150.5 195.1 L150 198.7 L149.5 195.8 L149 192 L148.5 191.6 L148 191.7 L147.5 194.2 L147 192 L146.5 192.7 L146 195.3 L145.5 196.1 L145 194.4 L144.5 193.2 L144 193.4 L143.5 193 L143 193.2 L142.5 191 L142 192.9 L141.5 191.3 L141 194.1 L140.5 191.9 L140 191 L139.5 192.5 L139 191.5 L138.5 191.2 L138 191 L137.5 192.6 L137 190.7 L136.5 197.2 L136 192.6 L135.5 190.8 L135 192.4 L134.5 191.8 L134 190.1 L133.5 191.5 L133 190.3 L132.5 190 L132 193.3 L131.5 189.9 L131 189.5 L130.5 194.8 L130 189.4 L129.5 191.1 L129 190.5 L128.5 189.8 L128 189.8 L127.5 190.4 L127 193.6 L126.5 189.1 L126 190.1 L125.5 193.3 L125 192.4 L124.5 195.5 L124 194.1 L123.5 188.5 L123 190.8 L122.5 189.6 L122 188.4 L121.5 188.6 L121 190.6 L120.5 188.4 L120 188.4 L119.5 188.7 L119 192.5 L118.5 188.4 L118 187.6 L117.5 188.7 L117 187.7 L116.5 189.1 L116 188.8 L115.5 187.5 L115 191.5 L114.5 190.5 L114 189 L113.5 187.3 L113 186.8 L112.5 186.9 L112 190.2 L111.5 189.8 L111 189.6 L110.5 187.3 L110 189.9 L109.5 187.2 L109 190.4 L108.5 189.6 L108 187.8 L107.5 192.9 L107 186.8 L106.5 192.8 L106 186.4 L105.5 192.6 L105 192.6 L104.5 192.5 L104 188.5 L103.5 185.8 L103 187.5 L102.5 188.1 L102 190.3 L101.5 187.3 L101 191.5 L100.5 189.2 L100 191.8 L99.5 185.5 L99 186.2 L98.5 185.6 L98 191.5 L97.5 188.8 L97 187.6 L96.5 186.1 L96 185.5 L95.5 185.4 L95 187.9 L94.5 191.2 L94 190.5 L93.5 189.8 L93 184.1 L92.5 189.4 L92 188.7 L91.5 190.9 L91 186.7 L90.5 185.6 L90 186.5 L89.5 184 L89 183.7 L88.5 190.6 L88 184 L87.5 184.6 L87 183.8 L86.5 189.1 L86 184.4 L85.5 188.5 L85 188.4 L84.5 189.6 L84 190.1 L83.5 195.6 L83 191.5 L82.5 192 L82 192.9 L81.5 192.1 L81 196.7 L80.5 194.7 L80 197 L79.5 197.5 L79 198.8 L78.5 196.4 L78 193.9 L77.5 196.6 L77 195.4 L76.5 191.7 L76 191.1 L75.5 191.7 L75 193.6 L74.5 193.6 L74 197 L73.5 189.8 L73 194.3 L72.5 189.4 L72 192.9 L71.5 193.8 L71 189.8 L70.5 195.1 L70 188 L69.5 194.5 L69 189.2 L68.5 190.1 L68 190.5 L67.5 188 L67 186.3 L66.5 186.1 L66 189.3 L65.5 188 L65 185.7 L64.5 187.5 L64 186 L63.5 185.1 L63 187 L62.5 190.2 L62 184.6 L61.5 185.5 L61 183 L60.5 187.2 L60 182.4 L59.5 184.7 L59 181.8 L58.5 187 L58 182.7 L57.5 182.7 L57 187.7 L56.5 187.4 L56 181 L55.5 182 L55 180 L54.5 184.5 L54 183.8 L53.5 185.8 L53 183.1 L52.5 178.7 L52 179.9 L51.5 184.7 L51 178.1 L50.5 178.4 L50 180 L49.5 178.1 L49 179.5 L48.5 182.3 L48 176.7 L47.5 179.6 L47 182.5 L46.5 179.4 L46 178.6 L45.5 175.7 L45 178.2 L44.5 176 L44 178.1 L43.5 174.8 L43 174.3 L42.5 175.2 L42 176.6 L41.5 173.4 L41 173 L40.5 173.7 L40 177.2 L39.5 178.1 L39 174.5 L38.5 159.3 L38 162.4 L37.5 157.5 L37 160.1 L36.5 163.3 L36 160.3 L35.5 164.2 L35 163.6 L34.5 160.6 L34 158.9 L33.5 158.3 L33 164.2 L32.5 163.8 L32 159.6 L31.5 158.5 L31 161.2 L30.5 158.8 L30 157.5Z" fill="#2f86c6"/><path d="M30.6 154.2V166.2M31.2 122.2V118M31.2 154.2V158.4M31.4 154.2V161.6M32.4 122.2V119.2M32.4 154.2V156.4M32.8 122.2V118.1M34 122.2V115.4M33.8 154.2V158.9M34.7 154.2V158.1M36.4 122.2V114.4M36.5 154.2V163.1M37.5 154.2V156.3M37.8 154.2V156.5M38.3 122.2V115.5M38.6 154.2V157.5M39.2 167.3V169.8M39.5 167.6V171.2M40 108.7V104.6M39.8 167.8V170M40.5 108.5V106.1M41.1 108.3V100M40.9 168.2V172.9M42.1 107.8V105.2M41.9 168.7V175.7M42.9 107.4V101.8M44.1 106.9V104.5M44.5 106.7V103.8M44.4 169.8V175.8M45 106.5V102.3M45.4 106.2V99.1M45.6 170.2V176.3M46.6 105.7V102.2M46.4 170.8V173.4M48.1 171.5V175M48.3 104.7V99M48.4 171.8V176.7M49.3 104.2V101.3M50 172.5V179.6M50.5 172.8V175.1M51.1 103.4V100.3M51 173.1V176.6M52.2 102.9V98.6M52.6 173.8V178.3M53.2 102.4V100.3M53.5 102.2V97.7M53.6 174.3V176.6M54 174.6V176.9M54.3 101.7V89.7M54.4 174.8V182.7M54.9 101.4V99.1M55.6 175.4V178.1M55.8 100.8V97.2M55.8 175.7V187.7M56.7 100.6V93.2M57 100.3V88.3M57.1 176.2V180.7M57.7 176.5V179.3M57.9 99.8V91M58 176.7V179.9M58.4 177V186.7M58.9 99.2V91.7M59.1 177.3V181.5M60 98.7V90.9M60.6 178.1V187.7M60.9 98.1V94.3M60.8 178.4V182.3M61.5 97.8V86.2M62.6 97.3V85.3M63.5 179.8V186M63.9 180V185.1M64.6 180.3V189.7M65.1 180.6V192.6M66 95.4V85.2M66.1 181.1V184.8M66.9 94.8V91.2M66.8 181.7V185.2M67.3 181.9V184.2M68 182.2V186.7M69.2 93.8V87.8M69.1 182.7V193.9M69.5 93.5V83.2M69.6 183V188.6M70.2 183.3V187.4M70.4 183.6V187.4M71.3 92.4V80.6M72 92.1V85.1M72.1 184.4V189.3M72.6 184.6V187.7M73.2 184.9V195.5M73.6 91.3V87.4M73.9 91V87.6M74.5 90.8V85.6M75.2 90.5V78.5M75.5 186.3V197.9M76.4 89.6V77.6M76.7 186.9V191.7M78.1 187.2V193.2M78.4 89.3V83.6M78.5 187.2V191.4M78.8 89.2V86.9M79.1 187.3V194.3M79.5 89.2V86M79.7 187.3V193M80.1 89.2V83.7M81.2 89.1V79.9M81 187.4V199.4M81.6 89.1V86.8M82.1 89.1V84.6M82.4 89.1V81.2M82.5 187.4V190.1M82.9 186.9V189.6M83.4 90.4V87.5M84 91.3V86.6M84.5 92.1V80.1M84.4 184.4V190M85.1 93V90.6M85.5 94.9V91.2M85.5 181.6V188.3M86 96.9V86.9M86.1 179.6V189.2M86.7 97.6V91.6M86.4 178.9V183.1M88.1 97.5V93.6M89 97.4V85.4M88.8 179.1V181.9M90 97.3V93.7M90.2 179.2V183M90.7 97.2V92.2M91 97.2V93.5M91.5 179.4V183.2M92 97.1V85.3M92.1 179.4V183.1M92.3 97V90.3M92.6 179.5V181.7M92.8 97V93.9M93.1 179.5V186.8M94.5 96.8V84.8M94.6 179.7V187.2M95.1 96.8V94.4M95.8 96.7V94.4M96.1 179.8V186.8M96.4 96.6V93.9M97.5 96.5V84.5M97.4 180V183.2M98.4 180.1V182.9M98.8 96.4V89M99.6 180.2V184.5M100 180.2V190.8M100.7 96.2V92.2M101.5 96V93.2M102.1 95.9V87.5M102.5 95.8V87.5M103.7 95.7V83.7M103.9 180.9V184.8M105.9 95.3V87.6M106.5 95.2V85.4M106.3 181.3V193.3M107.5 95V87.3M107.8 181.5V193.5M108.3 181.6V184.9M108.9 181.7V188.9M110.1 94.7V89.9M109.9 181.8V188.1M110.7 94.6V82.6M111.1 94.5V89.1M111.5 94.4V84.5M112.1 94.4V91.9M111.8 182.1V188.7M113 182.3V188.3M113.3 94.1V85.4M113.6 182.4V184.7M114 182.4V186.9M114.9 93.9V81.9M114.8 182.6V191.3M115.4 93.8V89.1M115.5 182.7V194.7M115.9 182.7V194.5M118.2 183V185.4M119.1 183.2V187.7M120 93.2V86.6M119.9 183.3V186.1M120.4 93.1V88.4M120.6 183.4V188.6M120.9 183.5V194.2M122.2 92.9V87.4M121.9 183.6V188.8M122.3 92.8V89.9M122.5 183.7V189.7M123.6 92.7V80.7M124.4 92.5V86.8M124.8 92.5V80.5M124.9 184.1V189.3M125.6 184.1V193.4M127 184.3V186.5M127.3 184.4V189.8M128 92V80.7M128.4 91.9V89M128.9 91.9V79.9M129.5 184.7V196.7M130.2 184.8V193.9M130.4 91.6V84.2M130.6 184.9V188.7M132 185.1V192.3M132.4 91.3V80.1M132.4 185.2V187.8M133.5 91.2V86.4M133.8 91.1V86M133.9 185.4V189.6M134.4 185.4V194.4M135 91V86.4M134.9 185.5V193.3M136.2 90.8V86M136.3 90.8V88.5M136.6 185.7V188.1M137 90.7V87.2M137.4 90.6V87.9M137.6 185.9V197.5M137.8 90.5V87.8M138.1 186V195.5M138.3 90.5V84.5M139.1 90.4V88M139.5 186.2V192.6M139.8 186.2V197.6M140.4 90.2V86.2M140.7 186.3V192.9M141.1 90.2V86.9M141.1 186.3V190.4M141.3 90.1V87.4M142.5 90V85.2M142.5 186.5V192.9M143.1 186.5V198.5M143.5 89.9V87.3M143.6 186.6V193.2M144.6 89.8V82.8M144.3 186.7V190.2M145.4 89.7V83M146 89.7V77.7M146.1 186.8V189.2M147.1 89.6V79.4M147.1 186.9V190.8M147.4 89.6V87.4M148.1 187V198.6M150 89.3V84.4M150 187.2V191M150.5 187.2V190.5M150.9 187.3V193.6M151.6 187.3V195.2M152.5 89.1V77.1M152.5 187.4V190.8M153.4 89V81.8M153.4 187.5V191.3M154.1 89V81.3M154.1 187.5V190.6M155.4 88.8V86.6M155.5 187.7V199.7M156.3 187.8V191.4M157.4 88.6V84.8M157.7 187.9V194.8M158.4 88.5V84.4M158.9 88.5V85.8M159.7 188V197.7M160.1 88.4V85.6M160.2 188.1V190.6M160.5 88.4V84.3M160.5 188.1V190.2M160.9 88.3V86.3M161.5 88.3V81.7M161.6 188.2V190.3M162.1 188.3V191.2M162.5 188.3V193.9M162.9 88.1V86M163.9 88V85.1M164.2 188.5V192.3M164.4 88V76M165 87.9V82.4M165.1 188.6V196.9M165.5 87.9V79.9M165.9 87.9V83.9M166.8 188.7V197.2M167.5 87.7V80.1M167.9 87.7V83.2M167.8 188.8V191.2M168.5 87.6V83.4M168.5 188.9V195.7M169 188.9V193.8M169.4 87.5V77.6M170 87.5V83.8M170.7 87.4V85.1M170.6 189.1V191.5M171.1 189.1V192.7M171.7 87.3V83.2M171.4 189.2V193.2M172.4 87.3V83.2M172.9 87.2V78.1M173.7 87.2V84.2" stroke="#1a66a8" stroke-width="0.5" fill="none" opacity="0.8"/><path d="M30 124.2V122.9M30.1 152.2V152.6M30.6 124.2V123.7M30.4 152.2V154.1M31 124.2V123.5M31 152.2V153.6M31.6 124.2V123.5M31.6 152.2V154.2M32 124.2V123.7M32.4 124.2V121.5M32.6 152.2V156.2M33 124.2V124M33.2 152.2V156.2M33.6 124.2V123.6M33.5 152.2V155.8M34 124.2V120.2M34.6 124.2V122.7M34.4 152.2V156.2M34.8 124.2V123.4M34.8 152.2V154.2M35.4 124.2V123.6M36.4 152.2V155.4M37.3 124.2V123.7M38.1 124.2V122.4M38 152.2V154.7M38.4 124.2V123M39.1 110V107.2M39 166.5V168.9M39.7 109.7V109.3M39.5 166.8V168.2M40.1 109.5V106.7M40.4 109.3V108.8M40.5 167.2V169.3M41.2 109.1V108.7M41.1 167.4V168.8M41.4 108.8V106.3M42.1 108.6V108M42 167.9V168.8M42.3 108.4V107.2M42.6 168.1V168.7M43.1 108.2V106.3M42.9 168.3V171.3M43.6 168.6V170.8M44.2 107.7V105.5M44 168.8V169M44.4 107.5V107.2M44.9 107.3V107M45 169.2V169.6M45.5 107V105.9M45.9 106.8V101.8M46 169.7V172.6M46.6 106.5V106M46.4 170V172.6M46.9 106.3V104.2M47.1 170.2V170.4M47.5 106V105.7M47.6 170.5V170.7M47.8 170.7V171.3M48.5 105.5V105.3M48.5 171V171.7M49.1 105.3V102.2M48.8 171.2V171.7M49.6 105V104.8M49.4 171.5V176.5M50 104.8V101.9M50.3 104.5V103.7M51 104.2V103.1M51 172.3V175.8M51.7 104V102.9M51.5 172.5V174.7M51.9 103.7V102M51.8 172.8V176.8M52.7 103.5V99.2M52.6 173V175M52.9 173.3V173.6M53.4 103V100.4M53.6 173.5V175.7M53.9 102.7V101.5M53.9 173.8V174.6M54.6 102.5V101.8M54.6 174V175.6M54.8 102.2V99.6M55.4 101.9V99.3M55.5 174.6V175.6M56 101.6V101.4M56 174.9V179.9M56.7 101.4V100.9M56.6 175.1V177.2M56.9 101.1V98.3M57 175.4V175.5M57.6 175.7V176.8M58 100.6V100.2M58.2 175.9V180.9M58.5 100.3V98.6M58.7 176.2V177.4M59.1 100V98.2M58.8 176.5V181.5M59.3 99.7V97.2M59.5 176.8V177M59.9 99.5V99.1M59.9 177V177.2M60.6 99.2V98.9M60.4 177.3V177.9M60.8 177.6V180.3M61.6 177.9V179.7M62.1 98.4V98.2M61.9 178.1V180.7M62.5 98.1V97.7M62.4 178.4V180.2M62.8 97.8V95.8M63.3 97.5V97M63.6 179V180.4M64.2 97.3V96.2M64.2 179.2V184.2M65 96.7V93.4M65.1 179.8V184.8M65.6 180V180.2M66 96.2V95.6M66.1 180.3V181.6M66.3 95.9V93.7M66.6 180.6V182.7M67.2 95.6V95.2M66.9 180.9V182M67.6 95.4V92.7M67.5 181.1V182.8M68.2 95.1V90.1M68 181.4V186.4M68.6 181.7V184.4M69.5 182.2V185.3M70.1 94V93.1M70.4 182.8V183.1M70.9 93.5V93M71.1 183V183.4M71.4 93.2V89.4M72 92.9V92.3M72 183.6V184.7M72.5 92.7V88.7M72.4 183.8V188.8M72.8 92.4V92.3M73 184.1V185.9M73.7 92.1V91.4M73.7 184.4V189.4M73.8 91.8V88.1M74.1 184.7V188M74.4 91.6V88.2M74.5 184.9V185.6M75 91.3V88.8M75 185.2V187.2M76.2 90.7V89.9M75.9 185.8V186M76.6 90.4V85.4M76.6 186.1V191.1M77.1 90.2V88.9M77 186.3V186.6M77.7 186.4V188.7M78 90.1V89.8M78.2 186.4V191.4M78.6 90.1V86.9M78.4 186.4V191.4M78.8 90V88.8M79.2 186.5V187.5M79.6 90V86.2M79.4 186.5V187M80.1 90V89M80 186.5V187.3M80.3 186.5V187.4M81 89.9V89.8M81.6 89.9V84.9M81.3 186.6V188.3M82 89.9V89.3M82 186.6V188.2M82.3 89.9V88.8M82.5 186.6V189.9M83.1 90.4V88.5M83.7 91.2V91.1M83.7 185.3V185.9M84.5 92.9V91.2M84.5 183.6V186.5M85.2 93.8V92.2M85 182.8V187.6M85.5 180.8V182M86 97.7V92.7M86 178.8V180.8M86.3 98.4V93.4M86.3 178.1V182.3M87.1 98.4V98.3M87.4 98.3V97.4M87.5 178.2V179.7M88.2 98.3V96.5M87.9 178.2V183.2M88.4 98.2V97.2M89.1 98.2V96.5M89.5 98.1V97.5M90 98.1V94.4M89.8 178.4V183.4M90.4 98V97.7M90.5 178.5V180.9M91 98V94.7M91.1 178.5V182M91.6 97.9V92.9M91.6 178.6V178.6M92.1 178.6V181.5M92.7 97.8V94.2M92.7 178.7V182.3M93.1 97.8V95.5M93.4 97.7V97.1M93.6 178.8V179.1M94.1 178.8V181.2M94.6 97.6V94.6M94.4 178.9V179.1M95.1 97.6V96.3M94.9 178.9V179.2M95.6 179V179.1M95.8 97.5V95.3M96.1 179V181.2M96.3 97.4V96.2M96.6 179.1V179.6M97 97.4V94.3M97 179.1V179.4M97.6 97.3V96.6M97.4 179.2V180M98 179.2V180.6M99.1 97.2V95.5M98.8 179.3V179.9M99.4 97.1V94.2M99.5 179.4V184.4M100.2 97V93.4M100.1 179.4V179.7M100.6 97V92M100.4 179.5V181M101.2 96.9V95.6M101.4 179.7V184.7M102 179.8V183.9M102.6 179.8V183.6M102.9 96.6V93M103 179.9V181.2M103.6 96.5V93.3M103.4 180V185M104 96.4V95.3M104.3 180.2V181.1M105 96.2V94.8M105 180.2V185.2M105.4 96.2V95.1M106 96.1V94.5M106 180.4V181.2M106.5 96V91M106.4 180.5V180.6M107.2 95.9V92.9M107 180.6V183.6M107.3 95.8V94.3M107.6 180.7V182.9M108.1 95.8V90.8M108 180.7V180.9M108.3 95.7V95.2M108.6 180.8V180.9M109 95.6V95M108.9 180.9V181.3M109.4 181V183.5M110 181.1V183.2M110.7 95.4V95M110.6 181.1V182.6M110.9 95.3V94.5M111.6 95.2V94.1M111.4 181.3V183.8M111.9 95.2V92.7M112.1 181.3V182.2M112.7 95.1V91.7M112.3 181.4V186.4M113 181.5V183.1M113.4 94.9V94.2M113.6 181.6V183.2M114.1 94.9V94.8M113.8 181.6V182.9M114.6 94.8V92.6M114.6 181.7V182.9M115 94.7V94.3M114.9 181.8V184.4M115.3 94.6V93.8M115.5 181.9V184.5M115.8 94.6V91.9M115.8 181.9V182.2M116.4 94.5V93M117.1 182.1V184.8M117.7 94.3V93.8M117.9 94.3V93.5M118.2 182.2V183.3M118.4 94.2V90.6M118.4 182.3V186.9M118.9 94.1V93.9M118.9 182.4V182.8M119.4 94.1V92.9M119.6 182.4V185.4M120.1 94V89M119.9 182.5V183.8M120.5 93.9V89.6M120.7 182.6V187.6M120.9 93.8V91.4M120.9 182.7V186.3M121.4 93.8V91.6M121.7 182.7V183.8M121.8 93.7V91.2M121.9 182.8V183.1M122.6 93.6V93.2M122.6 182.9V184.8M123.1 93.5V93.1M122.9 183V188M123.4 93.5V88.5M124.2 183.1V184.7M124.6 93.3V89.5M124.3 183.2V185M125.1 183.2V186.3M125.5 93.2V90.9M125.7 183.3V183.4M126 93.1V89.9M126.3 93V91.5M126.6 183.5V183.6M127.2 93V91.8M127.6 183.6V186.1M128.2 92.8V92.8M128.1 183.7V185.5M128.7 92.7V92.7M128.4 183.8V183.8M128.9 183.8V184.3M129.4 183.9V185.7M129.8 92.5V87.5M130.2 184V184.1M130.6 92.4V87.4M130.6 184.1V184.1M130.9 92.4V91M130.9 184.1V187.4M131.4 184.2V184.8M132 92.2V90.1M132.7 92.2V90.7M132.4 184.3V184.4M133 92.1V91.8M133 184.4V189.4M133.6 184.5V187.1M133.9 91.9V89.3M134.1 184.6V186.4M134.6 91.9V91M134.8 184.7V185.2M135.6 91.7V89M135.5 184.8V186.2M136 184.9V187M136.5 91.6V88.7M136.5 184.9V186M136.9 91.5V89.8M136.9 185V186.1M137.6 185.1V185.1M138 91.3V90.2M137.8 185.2V185.7M138.9 91.2V89.9M139.1 185.3V189.8M139.6 91.1V90.5M139.5 185.4V186.6M140.1 91V87.8M140.7 91V89.2M140.4 185.5V186.7M140.8 91V88.3M141.7 90.9V89.6M142 90.9V90.7M142.2 185.6V186.2M142.4 90.8V90.6M142.4 185.7V187.4M142.9 90.8V87.4M143.2 185.7V186.5M143.3 185.8V187.6M144.1 90.7V88.7M143.8 185.8V185.9M144.4 90.6V90.3M144.5 185.9V190.5M144.9 90.6V88.8M144.9 185.9V186.3M145.4 90.5V85.8M145.4 186V186.2M146.1 90.5V89.5M146 186V187.3M146.5 90.5V85.8M147 90.4V85.4M146.9 186.1V187.1M147.4 90.4V86M147.5 186.1V187.4M147.9 90.3V89.9M147.8 186.2V187.8M148.3 90.3V89.1M148.6 186.2V186.7M148.9 90.2V89.4M148.9 186.3V186.9M149.6 90.2V87.1M149.8 90.1V89.9M150 186.4V187M150.4 186.4V187.5M150.8 186.5V187.3M151.3 186.5V190.3M152.2 89.9V89.1M151.9 186.6V186.8M152.9 89.9V87.6M153.2 186.6V186.8M153.4 89.8V87.9M153.7 186.7V187.8M154.1 89.8V89.4M153.9 186.7V188.2M154.4 186.8V187.2M155 89.7V88.4M155 186.8V191.3M155.3 89.6V86.1M155.5 186.9V187.2M155.9 89.6V89.3M156.6 89.5V89.3M156.4 187V188M156.9 89.5V88.7M156.9 187V188M157.5 89.4V87.8M157.3 187.1V190.3M158.1 89.4V84.4M158.6 89.3V87.8M158.4 187.2V187.4M158.9 89.3V85.1M158.8 187.2V188.7M159.6 89.3V86.1M160.1 89.2V88.9M159.9 187.3V188.2M160.5 89.2V85.6M161 89.1V88.3M160.9 187.4V191.7M161.6 89.1V88M161.4 187.4V189.1M162.1 89V84.7M161.9 187.5V187.7M162.5 187.5V190.8M163 88.9V87.4M163.2 187.6V187.8M163.6 88.9V88.6M163.6 187.6V190.9M163.9 187.7V187.7M164.5 88.8V88.5M164.5 187.7V188.1M165 187.8V188.8M165.6 88.7V83.7M165.6 187.8V188.5M165.9 88.7V85.4M166.5 88.6V87.4M166.8 88.6V83.6M167.6 88.5V87.2M167.6 188V188.8M168.1 188V193M168.3 88.4V88.2M168.4 188.1V188.9M169.2 88.4V88.2M169.4 88.3V87.2M169.7 188.2V189M169.8 188.2V191.7M170.4 88.2V87.4M170.6 188.3V193.3M170.8 188.3V188.8M171.5 88.1V88M171.5 188.4V190.6M172.1 88.1V87.4M172 188.4V190.9M172.3 88.1V87.4M172.4 188.4V190.4" stroke="#e48a36" stroke-width="0.6" fill="none" opacity="0.75"/><path d="M30 123.5 L30.5 124.3 L31 121.8 L31.5 125.2 L32 124 L32.5 124.9 L33 124.1 L33.5 124.1 L34 124.6 L34.5 123.2 L35 125 L35.5 122.7 L36 122 L36.5 123.9 L37 123.4 L37.5 124.4 L38 121.9 L38.5 123.3 L39 109.5 L39.5 108.6 L40 109.7 L40.5 109.9 L41 108 L41.5 108.8 L42 108.8 L42.5 107.8 L43 107.1 L43.5 107.3 L44 108.1 L44.5 106.3 L45 107 L45.5 105.9 L46 106.4 L46.5 106.2 L47 105.6 L47.5 105.1 L48 105.4 L48.5 105.8 L49 105.8 L49.5 104.6 L50 103.7 L50.5 104.8 L51 103.8 L51.5 104.6 L52 103 L52.5 103.6 L53 102.3 L53.5 103.3 L54 102 L54.5 102.4 L55 102 L55.5 101.5 L56 101.9 L56.5 100.7 L57 101.3 L57.5 99.7 L58 100.6 L58.5 100.6 L59 99.3 L59.5 98.9 L60 99.9 L60.5 99 L61 99.3 L61.5 98 L62 98.7 L62.5 97.3 L63 97.6 L63.5 97 L64 97.5 L64.5 96.6 L65 95.5 L65.5 96.5 L66 95.6 L66.5 96.1 L67 94.4 L67.5 94.3 L68 94.5 L68.5 95.1 L69 93.4 L69.5 94.3 L70 93.3 L70.5 92.7 L71 94.1 L71.5 93.7 L72 93.5 L72.5 92.1 L73 91.4 L73.5 91 L74 91.3 L74.5 91.7 L75 91.9 L75.5 91 L76 90.4 L76.5 90.5 L77 89.3 L77.5 89.3 L78 89.8 L78.5 89.9 L79 89 L79.5 89.3 L80 90.3 L80.5 89.1 L81 89.4 L81.5 90 L82 89.5 L82.5 89.8 L83 90.8 L83.5 90.2 L84 92.6 L84.5 93.3 L85 92.9 L85.5 94.9 L86 98.2 L86.5 97.5 L87 98 L87.5 97.4 L88 98.3 L88.5 97 L89 97.4 L89.5 97.7 L90 97.3 L90.5 96.9 L91 97.2 L91.5 97.9 L92 96.7 L92.5 97.6 L93 96.6 L93.5 97 L94 96.9 L94.5 97.5 L95 96.9 L95.5 97.5 L96 96.7 L96.5 97.3 L97 97.8 L97.5 97.3 L98 97.8 L98.5 96.5 L99 97.4 L99.5 96.2 L100 97.2 L100.5 96.9 L101 97.2 L101.5 96.3 L102 97 L102.5 96.3 L103 96.6 L103.5 96.2 L104 96 L104.5 95.9 L105 96.2 L105.5 95 L106 96.5 L106.5 96.2 L107 96.3 L107.5 95.6 L108 95.9 L108.5 95.9 L109 95.7 L109.5 95.5 L110 95.4 L110.5 95.9 L111 94.6 L111.5 95.8 L112 94.1 L112.5 95.3 L113 94 L113.5 94.6 L114 95.3 L114.5 94.3 L115 94.2 L115.5 94.6 L116 95.1 L116.5 93.5 L117 94.9 L117.5 94.6 L118 94.5 L118.5 93.3 L119 94 L119.5 94.2 L120 93.4 L120.5 93.8 L121 93 L121.5 94.1 L122 93.1 L122.5 93.3 L123 92.8 L123.5 93.1 L124 93.6 L124.5 93.8 L125 92.3 L125.5 93.6 L126 92.6 L126.5 93.6 L127 92.5 L127.5 93.3 L128 93 L128.5 92.4 L129 91.6 L129.5 92.4 L130 91.6 L130.5 91.7 L131 91.7 L131.5 91.2 L132 91.5 L132.5 91.7 L133 92.3 L133.5 92.2 L134 91.6 L134.5 91.2 L135 90.6 L135.5 90.9 L136 91 L136.5 90.5 L137 91.4 L137.5 91.2 L138 91.4 L138.5 91 L139 91.5 L139.5 91.1 L140 90.7 L140.5 91.4 L141 90.6 L141.5 91 L142 90.9 L142.5 90.5 L143 91.4 L143.5 91 L144 90.6 L144.5 89.5 L145 90.2 L145.5 90 L146 89.6 L146.5 91 L147 90 L147.5 90.8 L148 90.2 L148.5 90.4 L149 90.2 L149.5 89.2 L150 90.2 L150.5 88.9 L151 90.3 L151.5 90.5 L152 89.1 L152.5 89.1 L153 88.8 L153.5 88.9 L154 88.8 L154.5 89.8 L155 89.4 L155.5 89.9 L156 89.1 L156.5 89.9 L157 89.2 L157.5 89.6 L158 88.7 L158.5 88.8 L159 88.2 L159.5 89.8 L160 89.5 L160.5 89.5 L161 88.7 L161.5 88.8 L162 88.3 L162.5 89 L163 87.8 L163.5 87.7 L164 88.7 L164.5 88.9 L165 87.7 L165.5 88.4 L166 87.7 L166.5 89 L167 88.2 L167.5 88.8 L168 87.3 L168.5 87.9 L169 87.6 L169.5 87.3 L170 87.3 L170.5 88.8 L171 88.7 L171.5 87 L172 87.4 L172.5 87.7 L173 88.4 L173.5 87.8 L173.5 190.1 L173 190.5 L172.5 190.4 L172 189.5 L171.5 190 L171 190 L170.5 189.4 L170 189.6 L169.5 189.6 L169 189.9 L168.5 189.3 L168 189.1 L167.5 189.5 L167 190.4 L166.5 189.7 L166 189.7 L165.5 190.5 L165 189 L164.5 190 L164 189.5 L163.5 188.7 L163 190.2 L162.5 190 L162 189.4 L161.5 188.7 L161 189.2 L160.5 189.3 L160 188.7 L159.5 189.8 L159 189.3 L158.5 189.7 L158 189 L157.5 189.7 L157 188.2 L156.5 188.8 L156 189.5 L155.5 189.5 L155 187.9 L154.5 188.1 L154 188.6 L153.5 188.5 L153 188.3 L152.5 187.8 L152 188.8 L151.5 188.3 L151 188.9 L150.5 187.6 L150 188.2 L149.5 187.7 L149 187.8 L148.5 188.9 L148 188.3 L147.5 188.5 L147 188.1 L146.5 188.8 L146 187.6 L145.5 188 L145 188.6 L144.5 187.7 L144 187.5 L143.5 187.4 L143 187 L142.5 188.1 L142 188 L141.5 187.2 L141 188.3 L140.5 186.5 L140 187.1 L139.5 187.3 L139 187.1 L138.5 186.4 L138 186.3 L137.5 187 L137 186.1 L136.5 186.7 L136 186.8 L135.5 186.3 L135 187.5 L134.5 186.9 L134 186.3 L133.5 186.8 L133 186.8 L132.5 186.1 L132 185.7 L131.5 187 L131 186.3 L130.5 186 L130 186.8 L129.5 185.9 L129 185.5 L128.5 185.4 L128 185.8 L127.5 186 L127 185.6 L126.5 184.6 L126 185.4 L125.5 184.7 L125 185.4 L124.5 184.8 L124 184.4 L123.5 184.3 L123 184.3 L122.5 185.4 L122 185 L121.5 184.2 L121 184 L120.5 183.8 L120 183.9 L119.5 184.5 L119 185.1 L118.5 184.8 L118 184.8 L117.5 183.8 L117 184.5 L116.5 184.6 L116 184.4 L115.5 183 L115 183.9 L114.5 183.9 L114 183.2 L113.5 183.6 L113 182.7 L112.5 183.9 L112 183.2 L111.5 182.7 L111 183.1 L110.5 183.6 L110 182.6 L109.5 182.7 L109 182.3 L108.5 181.8 L108 182.4 L107.5 181.7 L107 181.6 L106.5 182.7 L106 181.6 L105.5 182.8 L105 181.3 L104.5 182.6 L104 182.2 L103.5 182.6 L103 181.9 L102.5 181 L102 181.2 L101.5 182.4 L101 182.2 L100.5 181 L100 181.5 L99.5 181.5 L99 181.6 L98.5 181.4 L98 181.5 L97.5 180.4 L97 180.3 L96.5 181.1 L96 181.1 L95.5 181.5 L95 181.5 L94.5 181.2 L94 180.4 L93.5 180.7 L93 180.6 L92.5 179.9 L92 179.7 L91.5 180.2 L91 179.9 L90.5 179.6 L90 181.1 L89.5 181.2 L89 180.8 L88.5 180 L88 179.2 L87.5 179.4 L87 179.6 L86.5 180.6 L86 180 L85.5 182 L85 185.2 L84.5 185.9 L84 186.2 L83.5 187.8 L83 188.9 L82.5 188.3 L82 187.6 L81.5 189.2 L81 188.1 L80.5 188.7 L80 187.6 L79.5 188.7 L79 189.1 L78.5 189.2 L78 188.2 L77.5 188.1 L77 187.5 L76.5 188.2 L76 186.9 L75.5 188.1 L75 186.7 L74.5 187.3 L74 186.6 L73.5 186 L73 185.9 L72.5 185.2 L72 185.5 L71.5 185.1 L71 184.2 L70.5 185 L70 184.6 L69.5 184.1 L69 183.1 L68.5 183.3 L68 184 L67.5 182.9 L67 182.6 L66.5 182.8 L66 182.6 L65.5 181.4 L65 181.8 L64.5 182.1 L64 181.1 L63.5 180.7 L63 180.9 L62.5 180.3 L62 180.2 L61.5 179.5 L61 179.9 L60.5 180 L60 179.2 L59.5 178.1 L59 178.1 L58.5 177.9 L58 177.8 L57.5 177.3 L57 177.2 L56.5 176.3 L56 176 L55.5 177.3 L55 175.7 L54.5 175.1 L54 175.9 L53.5 174.5 L53 175.9 L52.5 175.5 L52 174 L51.5 173.7 L51 174 L50.5 173.7 L50 173.5 L49.5 172.8 L49 173.2 L48.5 173.5 L48 173.3 L47.5 172.2 L47 172.4 L46.5 172.7 L46 171.2 L45.5 172.1 L45 171.7 L44.5 171.4 L44 169.9 L43.5 170.2 L43 169.5 L42.5 169.3 L42 170.2 L41.5 169.7 L41 168.9 L40.5 169 L40 169.5 L39.5 169.3 L39 169.2 L38.5 152.5 L38 152.2 L37.5 151.3 L37 154.6 L36.5 154.7 L36 151.6 L35.5 154.7 L35 153.2 L34.5 154.1 L34 154.6 L33.5 152.3 L33 154.4 L32.5 154.2 L32 153.3 L31.5 152.5 L31 151.6 L30.5 153.8 L30 151.9Z" fill="#e98f35"/><path d="M30 130.1 L30.5 131.5 L31 131.6 L31.5 130.5 L32 129.8 L32.5 131.5 L33 130.2 L33.5 129.8 L34 131.5 L34.5 131.5 L35 130.5 L35.5 131.7 L36 129.8 L36.5 131.2 L37 131.5 L37.5 130 L38 130.5 L38.5 130.5 L39 111.4 L39.5 111.9 L40 111.1 L40.5 111.5 L41 110.5 L41.5 110.8 L42 110.3 L42.5 110.1 L43 110.1 L43.5 109.6 L44 109.3 L44.5 109.2 L45 109.1 L45.5 109.3 L46 108.7 L46.5 107.9 L47 107.9 L47.5 108 L48 107.5 L48.5 107 L49 107.2 L49.5 106.4 L50 106 L50.5 106.7 L51 106.5 L51.5 105.5 L52 105.5 L52.5 105.6 L53 104.7 L53.5 104.6 L54 104.8 L54.5 104.7 L55 103.9 L55.5 103.6 L56 103.4 L56.5 103.4 L57 102.4 L57.5 103.1 L58 102.6 L58.5 102 L59 101.3 L59.5 101.9 L60 101 L60.5 100.8 L61 101.2 L61.5 100 L62 100.6 L62.5 99.4 L63 99.9 L63.5 98.8 L64 98.9 L64.5 99.2 L65 98.1 L65.5 98.6 L66 97.7 L66.5 98.1 L67 96.9 L67.5 96.7 L68 96.8 L68.5 96.8 L69 96.3 L69.5 95.9 L70 95.3 L70.5 96 L71 95.2 L71.5 95 L72 94.5 L72.5 93.9 L73 93.7 L73.5 94.1 L74 93.4 L74.5 93.6 L75 92.8 L75.5 93.1 L76 92.3 L76.5 92.4 L77 92.2 L77.5 92.1 L78 91.9 L78.5 91.5 L79 91.6 L79.5 91.8 L80 91.7 L80.5 91.5 L81 91.9 L81.5 91.6 L82 91.4 L82.5 91.7 L83 92.6 L83.5 93.5 L84 93.4 L84.5 95 L85 95.7 L85.5 97.3 L86 99.2 L86.5 99.8 L87 99.8 L87.5 100.3 L88 100.2 L88.5 99.6 L89 99.9 L89.5 99.4 L90 100 L90.5 99.7 L91 100 L91.5 99.5 L92 99.1 L92.5 99 L93 99.5 L93.5 99.6 L94 99.4 L94.5 99.1 L95 99.6 L95.5 99.7 L96 98.8 L96.5 98.7 L97 99.2 L97.5 98.9 L98 98.6 L98.5 99.1 L99 98.6 L99.5 98.7 L100 99.3 L100.5 98.9 L101 98.1 L101.5 98.4 L102 98.4 L102.5 98.8 L103 97.8 L103.5 97.9 L104 97.9 L104.5 97.7 L105 97.9 L105.5 98.3 L106 98 L106.5 97.5 L107 97.1 L107.5 98.1 L108 98 L108.5 97.6 L109 97 L109.5 97.1 L110 97.2 L110.5 97.4 L111 97.1 L111.5 97.4 L112 96.6 L112.5 97.3 L113 97.2 L113.5 97.2 L114 97 L114.5 96.6 L115 96.5 L115.5 96.5 L116 96.6 L116.5 96.6 L117 96.1 L117.5 95.9 L118 95.8 L118.5 95.5 L119 96 L119.5 95.8 L120 95.5 L120.5 95.4 L121 95.6 L121.5 95.3 L122 95.5 L122.5 95.8 L123 95.6 L123.5 95 L124 94.7 L124.5 95.4 L125 95.4 L125.5 94.8 L126 94.5 L126.5 94.9 L127 94.5 L127.5 95.1 L128 94.1 L128.5 94.3 L129 94.1 L129.5 94.5 L130 94.3 L130.5 94.5 L131 93.9 L131.5 93.5 L132 93.6 L132.5 93.5 L133 94.2 L133.5 93.3 L134 93.5 L134.5 93.7 L135 93.5 L135.5 93.9 L136 93.3 L136.5 93.5 L137 93.5 L137.5 93.5 L138 93 L138.5 93.5 L139 92.9 L139.5 93.2 L140 93 L140.5 93 L141 93.2 L141.5 92.4 L142 93 L142.5 92.1 L143 92.5 L143.5 92.5 L144 92 L144.5 92.6 L145 92.7 L145.5 91.9 L146 92.1 L146.5 92.5 L147 91.9 L147.5 92 L148 92.6 L148.5 91.8 L149 91.4 L149.5 91.9 L150 91.4 L150.5 91.4 L151 91.4 L151.5 92.1 L152 92.2 L152.5 92 L153 92 L153.5 91.4 L154 91 L154.5 91.3 L155 91 L155.5 91.1 L156 91.6 L156.5 90.8 L157 91.4 L157.5 91 L158 90.8 L158.5 91.2 L159 90.9 L159.5 90.6 L160 91.5 L160.5 91.4 L161 91.3 L161.5 91.1 L162 90.5 L162.5 90.8 L163 90.6 L163.5 90.6 L164 90.6 L164.5 90.3 L165 90.3 L165.5 90.2 L166 90.6 L166.5 90.8 L167 89.9 L167.5 90.6 L168 89.9 L168.5 89.8 L169 90.3 L169.5 89.8 L170 90.2 L170.5 90.1 L171 90.2 L171.5 89.7 L172 89.7 L172.5 90.3 L173 90 L173.5 89.2 L173.5 187.3 L173 187.6 L172.5 188 L172 187.4 L171.5 187.3 L171 187.3 L170.5 187.2 L170 187.7 L169.5 187.2 L169 187.2 L168.5 186.8 L168 187.1 L167.5 187.3 L167 187.4 L166.5 187 L166 186.5 L165.5 186.9 L165 187.3 L164.5 186.3 L164 186.6 L163.5 186.7 L163 187.1 L162.5 186.7 L162 186.7 L161.5 186.1 L161 186.9 L160.5 186.8 L160 186.3 L159.5 185.8 L159 186.3 L158.5 186.5 L158 186.1 L157.5 186.5 L157 186.4 L156.5 186.5 L156 186.4 L155.5 186 L155 186.2 L154.5 185.7 L154 185.6 L153.5 186 L153 185.9 L152.5 185.9 L152 185.7 L151.5 185.5 L151 185.5 L150.5 185 L150 185.4 L149.5 184.8 L149 185.5 L148.5 185.4 L148 184.9 L147.5 184.7 L147 184.8 L146.5 184.6 L146 185.1 L145.5 184.9 L145 185.4 L144.5 184.7 L144 185 L143.5 184.3 L143 184.7 L142.5 184.6 L142 184.7 L141.5 184.6 L141 184.1 L140.5 184.7 L140 184.8 L139.5 184.1 L139 184.7 L138.5 184.3 L138 184 L137.5 184.3 L137 184.4 L136.5 184.1 L136 184.3 L135.5 184.2 L135 183.5 L134.5 183.3 L134 183.5 L133.5 183.7 L133 184 L132.5 182.9 L132 183.8 L131.5 183.8 L131 183.2 L130.5 182.7 L130 182.8 L129.5 182.8 L129 183.3 L128.5 182.4 L128 182.6 L127.5 182.5 L127 182.5 L126.5 182.6 L126 182.6 L125.5 182.1 L125 182.5 L124.5 181.9 L124 181.9 L123.5 181.9 L123 181.7 L122.5 181.5 L122 181.4 L121.5 182 L121 181.8 L120.5 181.4 L120 181.5 L119.5 181.3 L119 181.2 L118.5 181.1 L118 181.1 L117.5 180.7 L117 181 L116.5 180.6 L116 181.5 L115.5 180.9 L115 180.7 L114.5 181 L114 180.4 L113.5 180.8 L113 181 L112.5 180.9 L112 180.3 L111.5 180.3 L111 179.9 L110.5 180.2 L110 180.6 L109.5 180 L109 180 L108.5 179.7 L108 180.3 L107.5 179.5 L107 179.1 L106.5 179.3 L106 179.9 L105.5 179.2 L105 179.5 L104.5 179.6 L104 179.2 L103.5 179.6 L103 179.3 L102.5 179.2 L102 179.1 L101.5 178.3 L101 178.3 L100.5 178.6 L100 178.9 L99.5 178 L99 178.6 L98.5 177.8 L98 178.7 L97.5 178.3 L97 178.1 L96.5 178.3 L96 177.6 L95.5 178.4 L95 178.5 L94.5 177.8 L94 178.4 L93.5 177.4 L93 177.4 L92.5 177.5 L92 178.1 L91.5 177.5 L91 177.3 L90.5 177.5 L90 177.7 L89.5 177 L89 177.4 L88.5 177.5 L88 176.8 L87.5 177.1 L87 177.6 L86.5 177.2 L86 177.6 L85.5 180 L85 182.1 L84.5 183 L84 183.7 L83.5 184.9 L83 185 L82.5 185.7 L82 185.7 L81.5 185.6 L81 186 L80.5 185.2 L80 185.2 L79.5 185.7 L79 185.6 L78.5 185 L78 185.9 L77.5 185 L77 185.7 L76.5 185.6 L76 184.4 L75.5 184.5 L75 184 L74.5 183.9 L74 183.7 L73.5 183.6 L73 183.2 L72.5 182.9 L72 182.3 L71.5 181.9 L71 182.6 L70.5 182.2 L70 181.8 L69.5 181.4 L69 180.5 L68.5 180.3 L68 180.1 L67.5 179.7 L67 180 L66.5 179.7 L66 178.8 L65.5 179.5 L65 178.7 L64.5 178.5 L64 178.6 L63.5 178.4 L63 178 L62.5 177.5 L62 176.8 L61.5 177 L61 176.6 L60.5 176.4 L60 176.2 L59.5 175.3 L59 175.8 L58.5 175.2 L58 175.1 L57.5 174.6 L57 174.4 L56.5 174.1 L56 173.9 L55.5 174.1 L55 173.8 L54.5 173.2 L54 172.6 L53.5 172.1 L53 172.5 L52.5 171.9 L52 172 L51.5 171.4 L51 171.7 L50.5 171.2 L50 170.5 L49.5 171 L49 170 L48.5 170 L48 169.5 L47.5 169.5 L47 169 L46.5 169 L46 168.9 L45.5 168.5 L45 168.5 L44.5 167.9 L44 167.5 L43.5 168.1 L43 167.3 L42.5 167.5 L42 166.6 L41.5 167.2 L41 166.5 L40.5 166 L40 165.6 L39.5 165.5 L39 165.6 L38.5 146 L38 144.8 L37.5 145.9 L37 146.3 L36.5 146.5 L36 145.3 L35.5 144.8 L35 146.5 L34.5 146 L34 145.2 L33.5 145.9 L33 145.7 L32.5 146.3 L32 146.5 L31.5 146.7 L31 145.3 L30.5 145 L30 146.1Z" fill="#f3b538"/><path d="M39 114.2 L39.5 113.9 L40 113.7 L40.5 113.5 L41 113.3 L41.5 113 L42 112.8 L42.5 112.6 L43 112.4 L43.5 112.1 L44 111.9 L44.5 111.7 L45 111.5 L45.5 111.2 L46 111 L46.5 110.7 L47 110.5 L47.5 110.2 L48 110 L48.5 109.7 L49 109.5 L49.5 109.2 L50 109 L50.5 108.7 L51 108.4 L51.5 108.2 L52 107.9 L52.5 107.7 L53 107.4 L53.5 107.2 L54 106.9 L54.5 106.7 L55 106.4 L55.5 106.1 L56 105.8 L56.5 105.6 L57 105.3 L57.5 105 L58 104.8 L58.5 104.5 L59 104.2 L59.5 103.9 L60 103.7 L60.5 103.4 L61 103.1 L61.5 102.8 L62 102.6 L62.5 102.3 L63 102 L63.5 101.7 L64 101.5 L64.5 101.2 L65 100.9 L65.5 100.7 L66 100.4 L66.5 100.1 L67 99.8 L67.5 99.6 L68 99.3 L68.5 99 L69 98.8 L69.5 98.5 L70 98.2 L70.5 97.9 L71 97.7 L71.5 97.4 L72 97.1 L72.5 96.9 L73 96.6 L73.5 96.3 L74 96 L74.5 95.8 L75 95.5 L75.5 95.2 L76 94.9 L76.5 94.6 L77 94.3 L77.5 94.3 L78 94.3 L78.5 94.3 L79 94.2 L79.5 94.2 L80 94.2 L80.5 94.2 L81 94.1 L81.5 94.1 L82 94.1 L82.5 94.1 L83 94.6 L83.5 95.4 L84 96.3 L84.5 97.1 L85 98 L85.5 99.9 L86 101.9 L86.5 102.6 L87 102.6 L87.5 102.5 L88 102.5 L88.5 102.4 L89 102.4 L89.5 102.3 L90 102.3 L90.5 102.2 L91 102.2 L91.5 102.1 L92 102.1 L92.5 102 L93 102 L93.5 101.9 L94 101.9 L94.5 101.8 L95 101.8 L95.5 101.7 L96 101.7 L96.5 101.6 L97 101.6 L97.5 101.5 L98 101.5 L98.5 101.4 L99 101.4 L99.5 101.3 L100 101.2 L100.5 101.2 L101 101.1 L101.5 101 L102 100.9 L102.5 100.8 L103 100.8 L103.5 100.7 L104 100.6 L104.5 100.5 L105 100.5 L105.5 100.4 L106 100.3 L106.5 100.2 L107 100.1 L107.5 100 L108 100 L108.5 99.9 L109 99.8 L109.5 99.7 L110 99.7 L110.5 99.6 L111 99.5 L111.5 99.4 L112 99.4 L112.5 99.3 L113 99.2 L113.5 99.1 L114 99.1 L114.5 99 L115 98.9 L115.5 98.8 L116 98.8 L116.5 98.7 L117 98.6 L117.5 98.5 L118 98.5 L118.5 98.4 L119 98.3 L119.5 98.3 L120 98.2 L120.5 98.1 L121 98 L121.5 98 L122 97.9 L122.5 97.8 L123 97.7 L123.5 97.7 L124 97.6 L124.5 97.5 L125 97.5 L125.5 97.4 L126 97.3 L126.5 97.2 L127 97.2 L127.5 97.1 L128 97 L128.5 96.9 L129 96.9 L129.5 96.8 L130 96.7 L130.5 96.6 L131 96.6 L131.5 96.5 L132 96.4 L132.5 96.3 L133 96.3 L133.5 96.2 L134 96.1 L134.5 96.1 L135 96 L135.5 95.9 L136 95.8 L136.5 95.8 L137 95.7 L137.5 95.6 L138 95.5 L138.5 95.5 L139 95.4 L139.5 95.3 L140 95.2 L140.5 95.2 L141 95.2 L141.5 95.1 L142 95.1 L142.5 95 L143 95 L143.5 94.9 L144 94.9 L144.5 94.8 L145 94.8 L145.5 94.7 L146 94.7 L146.5 94.7 L147 94.6 L147.5 94.6 L148 94.5 L148.5 94.5 L149 94.4 L149.5 94.4 L150 94.3 L150.5 94.3 L151 94.2 L151.5 94.2 L152 94.1 L152.5 94.1 L153 94.1 L153.5 94 L154 94 L154.5 93.9 L155 93.9 L155.5 93.8 L156 93.8 L156.5 93.7 L157 93.7 L157.5 93.6 L158 93.6 L158.5 93.5 L159 93.5 L159.5 93.5 L160 93.4 L160.5 93.4 L161 93.3 L161.5 93.3 L162 93.2 L162.5 93.2 L163 93.1 L163.5 93.1 L164 93 L164.5 93 L165 92.9 L165.5 92.9 L166 92.9 L166.5 92.8 L167 92.8 L167.5 92.7 L168 92.7 L168.5 92.6 L169 92.6 L169.5 92.5 L170 92.5 L170.5 92.4 L171 92.4 L171.5 92.3 L172 92.3 L172.5 92.3 L173 92.2 L173.5 92.2 L173.5 184.3 L173 184.3 L172.5 184.2 L172 184.2 L171.5 184.2 L171 184.1 L170.5 184.1 L170 184 L169.5 184 L169 183.9 L168.5 183.9 L168 183.8 L167.5 183.8 L167 183.7 L166.5 183.7 L166 183.6 L165.5 183.6 L165 183.6 L164.5 183.5 L164 183.5 L163.5 183.4 L163 183.4 L162.5 183.3 L162 183.3 L161.5 183.2 L161 183.2 L160.5 183.1 L160 183.1 L159.5 183 L159 183 L158.5 183 L158 182.9 L157.5 182.9 L157 182.8 L156.5 182.8 L156 182.7 L155.5 182.7 L155 182.6 L154.5 182.6 L154 182.5 L153.5 182.5 L153 182.4 L152.5 182.4 L152 182.4 L151.5 182.3 L151 182.3 L150.5 182.2 L150 182.2 L149.5 182.1 L149 182.1 L148.5 182 L148 182 L147.5 181.9 L147 181.9 L146.5 181.8 L146 181.8 L145.5 181.8 L145 181.7 L144.5 181.7 L144 181.6 L143.5 181.6 L143 181.5 L142.5 181.5 L142 181.4 L141.5 181.4 L141 181.3 L140.5 181.3 L140 181.2 L139.5 181.2 L139 181.1 L138.5 181 L138 181 L137.5 180.9 L137 180.8 L136.5 180.7 L136 180.7 L135.5 180.6 L135 180.5 L134.5 180.4 L134 180.4 L133.5 180.3 L133 180.2 L132.5 180.2 L132 180.1 L131.5 180 L131 179.9 L130.5 179.9 L130 179.8 L129.5 179.7 L129 179.6 L128.5 179.6 L128 179.5 L127.5 179.4 L127 179.3 L126.5 179.3 L126 179.2 L125.5 179.1 L125 179.1 L124.5 179 L124 178.9 L123.5 178.8 L123 178.8 L122.5 178.7 L122 178.6 L121.5 178.5 L121 178.5 L120.5 178.4 L120 178.3 L119.5 178.2 L119 178.2 L118.5 178.1 L118 178 L117.5 177.9 L117 177.9 L116.5 177.8 L116 177.7 L115.5 177.7 L115 177.6 L114.5 177.5 L114 177.4 L113.5 177.4 L113 177.3 L112.5 177.2 L112 177.1 L111.5 177.1 L111 177 L110.5 176.9 L110 176.8 L109.5 176.8 L109 176.7 L108.5 176.6 L108 176.5 L107.5 176.4 L107 176.4 L106.5 176.3 L106 176.2 L105.5 176.1 L105 176.1 L104.5 176 L104 175.9 L103.5 175.8 L103 175.7 L102.5 175.7 L102 175.6 L101.5 175.5 L101 175.4 L100.5 175.3 L100 175.2 L99.5 175.2 L99 175.1 L98.5 175.1 L98 175 L97.5 175 L97 174.9 L96.5 174.9 L96 174.8 L95.5 174.8 L95 174.7 L94.5 174.7 L94 174.6 L93.5 174.6 L93 174.5 L92.5 174.5 L92 174.4 L91.5 174.4 L91 174.3 L90.5 174.3 L90 174.2 L89.5 174.2 L89 174.1 L88.5 174.1 L88 174 L87.5 174 L87 173.9 L86.5 173.9 L86 174.6 L85.5 176.6 L85 178.6 L84.5 179.4 L84 180.2 L83.5 181.1 L83 181.9 L82.5 182.4 L82 182.4 L81.5 182.4 L81 182.4 L80.5 182.3 L80 182.3 L79.5 182.3 L79 182.3 L78.5 182.2 L78 182.2 L77.5 182.2 L77 182.2 L76.5 181.9 L76 181.6 L75.5 181.3 L75 181 L74.5 180.7 L74 180.5 L73.5 180.2 L73 179.9 L72.5 179.6 L72 179.4 L71.5 179.1 L71 178.8 L70.5 178.6 L70 178.3 L69.5 178 L69 177.7 L68.5 177.5 L68 177.2 L67.5 176.9 L67 176.7 L66.5 176.4 L66 176.1 L65.5 175.8 L65 175.6 L64.5 175.3 L64 175 L63.5 174.8 L63 174.5 L62.5 174.2 L62 173.9 L61.5 173.7 L61 173.4 L60.5 173.1 L60 172.8 L59.5 172.6 L59 172.3 L58.5 172 L58 171.7 L57.5 171.5 L57 171.2 L56.5 170.9 L56 170.7 L55.5 170.4 L55 170.1 L54.5 169.8 L54 169.6 L53.5 169.3 L53 169.1 L52.5 168.8 L52 168.6 L51.5 168.3 L51 168.1 L50.5 167.8 L50 167.5 L49.5 167.3 L49 167 L48.5 166.8 L48 166.5 L47.5 166.3 L47 166 L46.5 165.8 L46 165.5 L45.5 165.2 L45 165 L44.5 164.8 L44 164.6 L43.5 164.4 L43 164.1 L42.5 163.9 L42 163.7 L41.5 163.5 L41 163.2 L40.5 163 L40 162.8 L39.5 162.6 L39 162.3Z" fill="#7e2f8e"/><line x1="30" y1="138.25" x2="38.6" y2="138.25" stroke="#7e3a50" stroke-width="0.6"/></g></g><rect x="30.0" y="44.2" width="143.6" height="188.0" fill="none" stroke="#a8a8a8" stroke-width="0.8"/><path d="M30.0 213.6h2.6M30.0 194.7h2.6M30.0 175.9h2.6M30.0 157.1h2.6M30.0 138.2h2.6M30.0 119.4h2.6M30.0 100.6h2.6M30.0 81.8h2.6M30.0 62.9h2.6M30 232.2v-2.6M30 44.2v2.6M101.8 232.2v-2.6M101.8 44.2v2.6M173.6 232.2v-2.6M173.6 44.2v2.6" stroke="#a8a8a8" stroke-width="0.7" fill="none"/><text x="25.2" y="65.6" style="font-family:'Liberation Sans', sans-serif;font-size:7.6px;fill:#1e1e1e;stroke:#1e1e1e;stroke-width:0.22px;" text-anchor="end">4</text><text x="25.2" y="103.3" style="font-family:'Liberation Sans', sans-serif;font-size:7.6px;fill:#1e1e1e;stroke:#1e1e1e;stroke-width:0.22px;" text-anchor="end">2</text><text x="25.2" y="140.9" style="font-family:'Liberation Sans', sans-serif;font-size:7.6px;fill:#1e1e1e;stroke:#1e1e1e;stroke-width:0.22px;" text-anchor="end">0</text><text x="25.2" y="178.6" style="font-family:'Liberation Sans', sans-serif;font-size:7.6px;fill:#1e1e1e;stroke:#1e1e1e;stroke-width:0.22px;" text-anchor="end">-2</text><text x="25.2" y="216.3" style="font-family:'Liberation Sans', sans-serif;font-size:7.6px;fill:#1e1e1e;stroke:#1e1e1e;stroke-width:0.22px;" text-anchor="end">-4</text><text x="30" y="242.4" style="font-family:'Liberation Sans', sans-serif;font-size:7.6px;fill:#1e1e1e;stroke:#1e1e1e;stroke-width:0.22px;" text-anchor="middle">0</text><text x="101.8" y="242.4" style="font-family:'Liberation Sans', sans-serif;font-size:7.6px;fill:#1e1e1e;stroke:#1e1e1e;stroke-width:0.22px;" text-anchor="middle">10</text><text x="173.6" y="242.4" style="font-family:'Liberation Sans', sans-serif;font-size:7.6px;fill:#1e1e1e;stroke:#1e1e1e;stroke-width:0.22px;" text-anchor="middle">20</text><text x="103.6" y="252.8" textLength="26.5" lengthAdjust="spacingAndGlyphs" style="font-family:'Liberation Sans', sans-serif;font-size:7.6px;fill:#1e1e1e;stroke:#1e1e1e;stroke-width:0.22px;" text-anchor="middle">Time (s)</text><text transform="translate(9.2 137.3) rotate(-90)" x="0" y="0" textLength="45.5" lengthAdjust="spacingAndGlyphs" style="font-family:'Liberation Sans', sans-serif;font-size:7.6px;fill:#1e1e1e;stroke:#1e1e1e;stroke-width:0.22px;" text-anchor="middle">Amplitude (V)</text><line x1="29.8" y1="265.1" x2="47.8" y2="265.1" stroke="#8a3a9c" stroke-width="3"/><text x="52" y="267.6" textLength="43.5" lengthAdjust="spacingAndGlyphs" style="font-family:'Liberation Sans', sans-serif;font-size:7.3px;fill:#1e1e1e;stroke:#1e1e1e;stroke-width:0.16px;">Original Signal</text><line x1="29.8" y1="274.8" x2="47.8" y2="274.8" stroke="#1b6fd6" stroke-width="3"/><text x="52" y="277.2" textLength="27.5" lengthAdjust="spacingAndGlyphs" style="font-family:'Liberation Sans', sans-serif;font-size:7.3px;fill:#1e1e1e;stroke:#1e1e1e;stroke-width:0.16px;">SNR = 10</text><line x1="29.8" y1="284.4" x2="47.8" y2="284.4" stroke="#f07a26" stroke-width="3"/><text x="52" y="286.9" textLength="27.5" lengthAdjust="spacingAndGlyphs" style="font-family:'Liberation Sans', sans-serif;font-size:7.3px;fill:#1e1e1e;stroke:#1e1e1e;stroke-width:0.16px;">SNR = 15</text><line x1="29.8" y1="294.1" x2="47.8" y2="294.1" stroke="#f8c21e" stroke-width="3"/><text x="52" y="296.6" textLength="27.5" lengthAdjust="spacingAndGlyphs" style="font-family:'Liberation Sans', sans-serif;font-size:7.3px;fill:#1e1e1e;stroke:#1e1e1e;stroke-width:0.16px;">SNR = 20</text><text x="99.8" y="312" style="font-family:'Liberation Sans', sans-serif;font-size:7.6px;fill:#1e1e1e;stroke:#1e1e1e;stroke-width:0.22px;" text-anchor="middle">a)</text><text x="369.8" y="312.2" style="font-family:'Liberation Sans', sans-serif;font-size:7.6px;fill:#1e1e1e;stroke:#1e1e1e;stroke-width:0.22px;" text-anchor="middle">b)</text><defs><linearGradient id="jet" x1="0" y1="0" x2="0" y2="1"><stop offset="0.000" stop-color="#7f0000"/><stop offset="0.016" stop-color="#8f0000"/><stop offset="0.031" stop-color="#9f0000"/><stop offset="0.047" stop-color="#af0000"/><stop offset="0.062" stop-color="#bf0000"/><stop offset="0.078" stop-color="#cf0000"/><stop offset="0.094" stop-color="#df0000"/><stop offset="0.109" stop-color="#ef0000"/><stop offset="0.125" stop-color="#ff0000"/><stop offset="0.141" stop-color="#ff0f00"/><stop offset="0.156" stop-color="#ff1f00"/><stop offset="0.172" stop-color="#ff2f00"/><stop offset="0.188" stop-color="#ff3f00"/><stop offset="0.203" stop-color="#ff4f00"/><stop offset="0.219" stop-color="#ff5f00"/><stop offset="0.234" stop-color="#ff6f00"/><stop offset="0.250" stop-color="#ff7f00"/><stop offset="0.266" stop-color="#ff8f00"/><stop offset="0.281" stop-color="#ff9f00"/><stop offset="0.297" stop-color="#ffaf00"/><stop offset="0.312" stop-color="#ffbf00"/><stop offset="0.328" stop-color="#ffcf00"/><stop offset="0.344" stop-color="#ffdf00"/><stop offset="0.359" stop-color="#ffef00"/><stop offset="0.375" stop-color="#ffff00"/><stop offset="0.391" stop-color="#efff0f"/><stop offset="0.406" stop-color="#dfff1f"/><stop offset="0.422" stop-color="#cfff2f"/><stop offset="0.438" stop-color="#bfff3f"/><stop offset="0.453" stop-color="#afff4f"/><stop offset="0.469" stop-color="#9fff5f"/><stop offset="0.484" stop-color="#8fff6f"/><stop offset="0.500" stop-color="#7fff7f"/><stop offset="0.516" stop-color="#6fff8f"/><stop offset="0.531" stop-color="#5fff9f"/><stop offset="0.547" stop-color="#4fffaf"/><stop offset="0.562" stop-color="#3fffbf"/><stop offset="0.578" stop-color="#2fffcf"/><stop offset="0.594" stop-color="#1fffdf"/><stop offset="0.609" stop-color="#0fffef"/><stop offset="0.625" stop-color="#00ffff"/><stop offset="0.641" stop-color="#00efff"/><stop offset="0.656" stop-color="#00dfff"/><stop offset="0.672" stop-color="#00cfff"/><stop offset="0.688" stop-color="#00bfff"/><stop offset="0.703" stop-color="#00afff"/><stop offset="0.719" stop-color="#009fff"/><stop offset="0.734" stop-color="#008fff"/><stop offset="0.750" stop-color="#007fff"/><stop offset="0.766" stop-color="#006fff"/><stop offset="0.781" stop-color="#005fff"/><stop offset="0.797" stop-color="#004fff"/><stop offset="0.812" stop-color="#003fff"/><stop offset="0.828" stop-color="#002fff"/><stop offset="0.844" stop-color="#001fff"/><stop offset="0.859" stop-color="#000fff"/><stop offset="0.875" stop-color="#0000ff"/><stop offset="0.891" stop-color="#0000ef"/><stop offset="0.906" stop-color="#0000df"/><stop offset="0.922" stop-color="#0000cf"/><stop offset="0.938" stop-color="#0000bf"/><stop offset="0.953" stop-color="#0000af"/><stop offset="0.969" stop-color="#00009f"/><stop offset="0.984" stop-color="#00008f"/><stop offset="1.000" stop-color="#00007f"/></linearGradient><filter id="gl" x="-5%" y="-5%" width="110%" height="110%"><feGaussianBlur stdDeviation="0.6"/></filter></defs><clipPath id="pc0"><rect x="209" y="11" width="122.2" height="110.5"/></clipPath><rect x="209" y="11" width="122.2" height="110.5" fill="#000084"/><g clip-path="url(#pc0)"><defs><path id="tr0" d="M209 71.9l1-0.4 1-0.3 1-0.3 1-0.3 1-0.2 1-0.1 1-0.1 1 0 1 0 1-0.1 1-1.3 1-3.1 1-3.4 1-3.3 1-3.1 1-2.9 1-2.6 1-2.5 1-2.3 1-2.1 1-1.9 1-1.7 1-1.5 1-1.3 1-1.2 1-0.9 1-0.7 1-0.5 1-0.4 1-0.1 1 0.1 1 0.2 1 0.5 1 0.6 1 0.8 1 1.1 1 1.2 1 1.4 1 1.7 1 1.8 1 2 1 2.2 1 2.4 1 2.7 1 2.8 1 3 1 3.1 1 3.3 1 2.3 1-0.2 1-0.8 1-0.9 1-1 1-1 1-1 1-0.9 1-0.7 1-0.6 1-0.4 1-0.1 1 0.1 1 0.4 1 0.7 1 0.9 1 1 1 1.2 1 1.2 1 1.3 1 1.1 1 1.1 1 0.9 1 0.8 1 0.6 1 0.5 1 0.3 1 0 1-1.3 1-2.9 1-3.2 1-3 1-2.9 1-2.5 1-2.3 1-2.1 1-1.9 1-1.6 1-1.4 1-1.1 1-0.9 1-0.6 1-0.4 1-0.2 1 0.1 1 0.3 1 0.5 1 0.8 1 1.1 1 1.2 1 1.5 1 1.8 1 2 1 2.2 1 2.5 1 2.7 1 3 1 3.1 1 3.5 1 3.4 1 2.1 1 0.2 1-0.2 1-0.2 1-0.2 1-0.2 1-0.2 1-0.1 1-0.2 1-0.1 1 0 1-0.1 1 0 1-0.1 1 0M209 81.3l1 0.4 1 0.5 1 0.5 1 0.5 1 0.5 1 0.4 1-0.5 1-3.5 1-4.2 1-4.1 1-3.8 1-3.7 1-3.5 1-3.3 1-3 1-2.9 1-2.7 1-2.5 1-2.3 1-2.1 1-1.9 1-1.7 1-1.5 1-1.3 1-1.1 1-0.9 1-0.8 1-0.5 1-0.3 1-0.2 1 0.1 1 0.2 1 0.5 1 0.6 1 0.9 1 1 1 1.3 1 1.4 1 1.6 1 1.8 1 2.1 1 2.2 1 2.4 1 2.6 1 2.8 1 3 1 3.2 1 3.4 1 3.6 1 3.7 1 4 1 4.2 1 4.3 1 3.4 1 0.7 1-0.1 1-0.2 1-0.2 1-0.3 1-0.2 1-0.3 1-0.3 1-0.3 1-0.3 1-0.2 1-0.3 1-0.2 1-0.1 1-0.1 1 0 1 0.1 1 0.1 1 0.1 1-1.1 1-3.5 1-4 1-3.7 1-3.6 1-3.3 1-3 1-2.8 1-2.6 1-2.3 1-2.1 1-1.8 1-1.6 1-1.4 1-1.1 1-0.9 1-0.7 1-0.4 1-0.2 1 0.1 1 0.3 1 0.6 1 0.8 1 1 1 1.3 1 1.5 1 1.7 1 2 1 2.3 1 2.4 1 2.7 1 3 1 3.2 1 3.4 1 3.7 1 3.9 1 3.6 1 1.8 1 0.5 1 0.4 1 0.3 1 0.4 1 0.3 1 0.3 1 0.2 1 0.2 1 0.2 1 0.1 1 0 1 0.1M209 76l1-0.1 1-0.1 1 0 1 0 1 0 1 0.1 1 0.1 1 0.1 1-0.5 1-2.7 1-3.7 1-3.7 1-3.4 1-3.3 1-3.1 1-2.9 1-2.7 1-2.5 1-2.2 1-2.1 1-1.9 1-1.7 1-1.6 1-1.3 1-1.1 1-0.9 1-0.7 1-0.6 1-0.3 1-0.1 1 0 1 0.3 1 0.4 1 0.7 1 0.8 1 1.1 1 1.2 1 1.4 1 1.7 1 1.8 1 2 1 2.2 1 2.4 1 2.6 1 2.8 1 3 1 3.2 1 3.4 1 3.6 1 3.8 1 3.8 1 3.4 1 1.5 1 0.6 1 0.6 1 0.6 1 0.5 1 0.4 1 0.4 1 0.2 1 0.2 1 0 1-0.1 1-0.2 1-0.3 1-0.3 1-0.5 1-0.4 1-0.5 1-0.5 1-0.5 1-0.5 1-0.4 1-0.4 1-0.6 1-1.6 1-3.2 1-3.4 1-3.3 1-3.1 1-2.8 1-2.6 1-2.3 1-2.1 1-1.8 1-1.6 1-1.4 1-1.1 1-0.9 1-0.7 1-0.4 1-0.1 1 0 1 0.4 1 0.5 1 0.8 1 1 1 1.3 1 1.5 1 1.8 1 2 1 2.2 1 2.5 1 2.7 1 2.9 1 3.2 1 3.4 1 3.1 1 0.8 1-0.6 1-0.8 1-0.9 1-1 1-1.1 1-1.1 1-1.1 1-1.1 1-1 1-0.8 1-0.7 1-0.4 1-0.2 1 0.1M209 83.9l1 0.2 1 0.2 1 0.3 1 0.3 1 0.4 1 0.3 1 0 1-2.4 1-4.1 1-4.1 1-3.8 1-3.7 1-3.5 1-3.2 1-3.1 1-2.9 1-2.7 1-2.5 1-2.3 1-2 1-2 1-1.7 1-1.5 1-1.3 1-1.1 1-0.9 1-0.7 1-0.6 1-0.3 1-0.1 1 0 1 0.3 1 0.4 1 0.7 1 0.8 1 1.1 1 1.2 1 1.4 1 1.6 1 1.9 1 2 1 2.2 1 2.4 1 2.6 1 2.8 1 3 1 3.2 1 3.4 1 3.6 1 3.8 1 4 1 4.1 1 4.4 1 4.1 1 2.3 1 0.6 1 0.4 1 0.3 1 0.2 1 0.1 1 0 1-0.1 1-0.3 1-0.4 1-0.4 1-0.5 1-0.6 1-0.5 1-0.6 1-0.5 1-0.4 1-0.5 1-1.2 1-3.4 1-4.2 1-4 1-3.7 1-3.6 1-3.3 1-3 1-2.8 1-2.6 1-2.3 1-2.1 1-1.8 1-1.7 1-1.3 1-1.2 1-0.8 1-0.7 1-0.4 1-0.2 1 0.1 1 0.3 1 0.6 1 0.8 1 1 1 1.3 1 1.5 1 1.7 1 2 1 2.3 1 2.4 1 2.7 1 3 1 3.2 1 3.4 1 3.7 1 3.9 1 4 1 2.9 1 0.5 1-0.2 1-0.2 1-0.2 1-0.2 1-0.2 1-0.2 1-0.2 1-0.1 1-0.1 1 0 1 0M209 86.6l1-0.2 1-0.2 1 0 1-0.1 1 0 1-0.1 1-2.1 1-4.1 1-4.3 1-4 1-3.9 1-3.6 1-3.5 1-3.3 1-3.1 1-2.8 1-2.7 1-2.5 1-2.3 1-2.1 1-1.9 1-1.7 1-1.5 1-1.3 1-1.2 1-0.9 1-0.7 1-0.5 1-0.4 1-0.1 1 0.1 1 0.2 1 0.5 1 0.6 1 0.8 1 1.1 1 1.2 1 1.5 1 1.6 1 1.8 1 2 1 2.2 1 2.4 1 2.7 1 2.8 1 3 1 3.2 1 3.3 1 3.6 1 3.8 1 4 1 4.2 1 4.3 1 4.5 1 3.6 1 1.3 1 0.6 1 0.4 1 0.4 1 0.3 1 0.3 1 0.1 1 0 1-0.1 1-0.2 1-0.3 1-0.3 1-0.4 1-0.4 1-0.4 1-0.5 1-1.5 1-3.8 1-4.4 1-4.2 1-4 1-3.8 1-3.5 1-3.3 1-3.1 1-2.8 1-2.5 1-2.4 1-2.1 1-1.8 1-1.6 1-1.4 1-1.1 1-0.9 1-0.6 1-0.4 1-0.2 1 0.1 1 0.3 1 0.5 1 0.8 1 1 1 1.3 1 1.5 1 1.8 1 2 1 2.2 1 2.5 1 2.7 1 2.9 1 3.2 1 3.5 1 3.6 1 3.9 1 4.2 1 4.4 1 4 1 1.5 1 0 1 0 1-0.1 1 0 1 0 1-0.1 1 0 1 0 1 0 1 0M209 86.3l1 0.2 1 0.1 1 0.1 1-0.1 1-0.2 1-0.3 1-0.9 1-2.8 1-4 1-4.1 1-3.8 1-3.7 1-3.5 1-3.2 1-3.1 1-2.9 1-2.7 1-2.5 1-2.3 1-2.1 1-1.9 1-1.7 1-1.5 1-1.3 1-1.1 1-0.9 1-0.7 1-0.6 1-0.3 1-0.1 1 0 1 0.3 1 0.4 1 0.7 1 0.8 1 1 1 1.3 1 1.4 1 1.6 1 1.9 1 2 1 2.2 1 2.4 1 2.6 1 2.8 1 3 1 3.2 1 3.4 1 3.6 1 3.7 1 3.4 1 0.3 1-1.1 1-1.3 1-1.4 1-1.3 1-1.1 1-1.1 1-0.8 1-0.7 1-0.3 1-0.1 1 0.2 1 0.5 1 0.6 1 0.9 1 1 1 1.1 1 1.2 1 1.2 1 1.1 1 1.1 1 1 1 0.9 1-0.6 1-3.3 1-3.8 1-3.5 1-3.3 1-3 1-2.8 1-2.6 1-2.3 1-2.1 1-1.9 1-1.6 1-1.4 1-1.1 1-0.9 1-0.6 1-0.4 1-0.2 1 0.1 1 0.3 1 0.5 1 0.8 1 1.1 1 1.2 1 1.5 1 1.8 1 2 1 2.2 1 2.5 1 2.7 1 3 1 3.2 1 3.4 1 3.6 1 3.1 1 0.6 1-0.6 1-0.8 1-0.9 1-1 1-1.1 1-1.1 1-1 1-1 1-0.8 1-0.7 1-0.4 1-0.2 1 0.1M209 84.1l1 0.1 1 0.1 1 0.2 1 0.1 1 0.2 1 0.1 1-0.2 1-2.2 1-4 1-4 1-3.9 1-3.6 1-3.5 1-3.3 1-3 1-2.9 1-2.7 1-2.5 1-2.3 1-2.1 1-1.9 1-1.7 1-1.5 1-1.3 1-1.1 1-1 1-0.7 1-0.5 1-0.3 1-0.2 1 0.1 1 0.2 1 0.5 1 0.6 1 0.9 1 1 1 1.3 1 1.4 1 1.6 1 1.8 1 2.1 1 2.2 1 2.4 1 2.6 1 2.8 1 3 1 3.2 1 3.4 1 3.6 1 3.7 1 3.9 1 2.6 1-0.5 1-1.1 1-1.1 1-1.1 1-1 1-0.9 1-0.6 1-0.5 1-0.2 1 0.1 1 0.3 1 0.5 1 0.8 1 0.9 1 1 1 1 1 1.1 1 1.1 1 1 1 0.9 1 0.7 1-1.5 1-3.9 1-4 1-3.7 1-3.6 1-3.3 1-3 1-2.8 1-2.6 1-2.3 1-2.1 1-1.8 1-1.6 1-1.4 1-1.1 1-0.9 1-0.7 1-0.4 1-0.2 1 0.1 1 0.3 1 0.6 1 0.8 1 1 1 1.3 1 1.5 1 1.7 1 2 1 2.3 1 2.4 1 2.7 1 3 1 3.2 1 3.4 1 3.7 1 3.9 1 4.1 1 4.2 1 2.7 1 0.8 1 0.4 1 0.3 1 0.4 1 0.4 1 0.3 1 0.3 1 0.2 1 0.1 1 0.1 1 0M209 68.3l1 0.1 1 0.3 1 0.5 1 0.5 1 0.7 1 0.6 1 0.7 1 0.7 1 0.7 1 0.1 1-2.1 1-3.5 1-3.5 1-3.2 1-3.1 1-2.9 1-2.7 1-2.5 1-2.3 1-2.1 1-1.9 1-1.7 1-1.5 1-1.3 1-1.1 1-0.9 1-0.8 1-0.5 1-0.3 1-0.2 1 0.1 1 0.3 1 0.4 1 0.7 1 0.8 1 1 1 1.3 1 1.4 1 1.6 1 1.9 1 2 1 2.2 1 2.4 1 2.6 1 2.8 1 3 1 3.2 1 3.4 1 3.6 1 3.7 1 3.5 1 1.9 1 0.7 1 0.5 1 0.4 1 0.4 1 0.4 1 0.3 1 0.2 1 0.1 1 0 1-0.1 1-0.2 1-0.3 1-0.4 1-0.5 1-0.5 1-0.5 1-0.4 1-0.5 1-0.4 1-0.4 1-0.3 1-0.2 1-0.3 1-1.1 1-2.9 1-3.4 1-3.3 1-3.1 1-2.8 1-2.5 1-2.4 1-2.1 1-1.8 1-1.6 1-1.4 1-1.1 1-0.9 1-0.6 1-0.4 1-0.2 1 0.1 1 0.3 1 0.5 1 0.8 1 1 1 1.3 1 1.5 1 1.8 1 2 1 2.2 1 2.5 1 2.7 1 2.9 1 3.2 1 3.4 1 2.9 1 1 1 0.1 1 0 1-0.1 1-0.1 1-0.1 1-0.1 1-0.1 1-0.1 1-0.1 1 0 1-0.1 1 0 1-0.1 1 0.1M209 78.6l1-0.5 1-0.4 1-0.3 1-0.2 1-0.1 1 0 1 0 1 0 1-1.4 1-3.5 1-3.9 1-3.6 1-3.5 1-3.3 1-3.1 1-2.8 1-2.7 1-2.5 1-2.3 1-2.1 1-1.9 1-1.7 1-1.5 1-1.3 1-1.1 1-1 1-0.7 1-0.5 1-0.4 1-0.1 1 0.1 1 0.2 1 0.5 1 0.6 1 0.9 1 1 1 1.2 1 1.5 1 1.6 1 1.8 1 2 1 2.3 1 2.4 1 2.6 1 2.8 1 3 1 3.2 1 3.4 1 3.5 1 3.8 1 3.5 1 1.4 1-0.2 1-0.4 1-0.3 1-0.2 1-0.2 1-0.1 1 0 1 0.2 1 0.3 1 0.4 1 0.5 1 0.7 1 0.7 1 0.7 1 0.7 1 0.7 1 0.6 1 0.5 1 0.3 1 0.3 1 0.1 1-0.9 1-3.2 1-3.9 1-3.8 1-3.5 1-3.3 1-3.1 1-2.8 1-2.5 1-2.4 1-2 1-1.9 1-1.6 1-1.4 1-1.1 1-0.9 1-0.6 1-0.4 1-0.2 1 0.1 1 0.3 1 0.5 1 0.8 1 1 1 1.3 1 1.5 1 1.8 1 2 1 2.2 1 2.5 1 2.7 1 2.9 1 3.2 1 3.5 1 3.6 1 3.9 1 4.1 1 3.3 1 0.5 1-0.3 1-0.3 1-0.3 1-0.3 1-0.3 1-0.2 1-0.2 1-0.1 1-0.1 1-0.1 1 0M209 69.6l1 0.4 1 0.6 1 0.5 1 0.7 1 0.7 1 0.6 1 0.7 1 0.5 1-0.6 1-3.3 1-3.8 1-3.6 1-3.5 1-3.3 1-3.1 1-2.8 1-2.7 1-2.5 1-2.3 1-2.1 1-1.9 1-1.7 1-1.5 1-1.3 1-1.2 1-0.9 1-0.7 1-0.5 1-0.4 1-0.1 1 0.1 1 0.2 1 0.5 1 0.6 1 0.9 1 1 1 1.2 1 1.5 1 1.6 1 1.8 1 2 1 2.2 1 2.5 1 2.6 1 2.8 1 3 1 3.2 1 3.3 1 3.6 1 3.7 1 2.2 1-1 1-1.5 1-1.5 1-1.7 1-1.5 1-1.5 1-1.3 1-1 1-0.8 1-0.4 1-0.1 1 0.2 1 0.6 1 0.8 1 1.1 1 1.2 1 1.4 1 1.4 1 1.4 1 1.4 1 1.4 1 1.2 1 1.1 1 1 1-0.5 1-3.1 1-3.5 1-3.3 1-3 1-2.8 1-2.6 1-2.3 1-2.1 1-1.8 1-1.7 1-1.3 1-1.2 1-0.8 1-0.7 1-0.4 1-0.2 1 0.1 1 0.3 1 0.6 1 0.8 1 1 1 1.3 1 1.5 1 1.7 1 2 1 2.3 1 2.4 1 2.7 1 3 1 3.2 1 3.4 1 3.1 1 1.6 1 0.2 1 0 1-0.1 1 0 1-0.2 1-0.1 1-0.2 1-0.1 1-0.2 1-0.2 1-0.1 1 0 1-0.1 1 0.1M209 81.9l1 0.5 1 0.6 1 0.8 1 0.8 1 0.8 1 0.7 1-1.5 1-4.1 1-4.2 1-4.1 1-3.8 1-3.7 1-3.5 1-3.3 1-3 1-2.9 1-2.7 1-2.5 1-2.3 1-2.1 1-1.9 1-1.7 1-1.5 1-1.3 1-1.1 1-0.9 1-0.8 1-0.5 1-0.3 1-0.2 1 0.1 1 0.2 1 0.5 1 0.6 1 0.9 1 1 1 1.3 1 1.4 1 1.6 1 1.8 1 2.1 1 2.2 1 2.4 1 2.6 1 2.8 1 3 1 3.2 1 3.4 1 3.6 1 3.7 1 4 1 4.2 1 4.4 1 4.5 1 4.1 1 1.3 1 0 1-0.1 1-0.2 1-0.2 1-0.3 1-0.4 1-0.4 1-0.4 1-0.4 1-0.4 1-0.4 1-0.3 1-0.3 1-0.1 1-0.1 1-0.1 1-0.7 1-3.3 1-4.2 1-4 1-3.8 1-3.5 1-3.3 1-3 1-2.9 1-2.5 1-2.3 1-2.1 1-1.9 1-1.6 1-1.4 1-1.1 1-0.9 1-0.6 1-0.4 1-0.2 1 0.1 1 0.3 1 0.5 1 0.8 1 1.1 1 1.2 1 1.5 1 1.8 1 2 1 2.2 1 2.5 1 2.7 1 3 1 3.1 1 3.5 1 3.7 1 3.9 1 4 1 3 1 0.8 1 0.2 1 0.1 1 0.1 1 0 1 0.1 1 0 1 0 1 0 1 0 1 0 1 0.1M209 69.8l1 0.3 1 0.5 1 0.6 1 0.7 1 0.7 1 0.8 1 0.7 1 0.7 1 0.6 1-0.8 1-3.2 1-3.6 1-3.5 1-3.2 1-3.1 1-2.9 1-2.7 1-2.5 1-2.3 1-2.1 1-1.9 1-1.7 1-1.5 1-1.3 1-1.1 1-0.9 1-0.8 1-0.5 1-0.3 1-0.2 1 0.1 1 0.3 1 0.4 1 0.7 1 0.8 1 1 1 1.3 1 1.4 1 1.6 1 1.9 1 2 1 2.2 1 2.4 1 2.6 1 2.8 1 3 1 3.2 1 3.4 1 3.6 1 3.7 1 3.8 1 2.6 1 0.7 1 0.2 1 0.2 1 0.2 1 0.1 1 0 1 0 1-0.1 1-0.1 1-0.3 1-0.3 1-0.4 1-0.4 1-0.4 1-0.5 1-0.4 1-0.3 1-0.3 1-0.2 1-0.2 1-0.1 1-0.1 1-1.1 1-3.3 1-3.7 1-3.5 1-3.3 1-3.1 1-2.8 1-2.5 1-2.4 1-2.1 1-1.8 1-1.6 1-1.4 1-1.1 1-0.9 1-0.7 1-0.4 1-0.1 1 0 1 0.4 1 0.5 1 0.8 1 1 1 1.3 1 1.5 1 1.8 1 2 1 2.2 1 2.5 1 2.7 1 2.9 1 3.2 1 3.4 1 3.4 1 2 1 0 1-0.5 1-0.5 1-0.7 1-0.7 1-0.8 1-0.8 1-0.8 1-0.7 1-0.6 1-0.5 1-0.3 1-0.1 1 0M209 85.7l1 0.1 1 0.1 1 0.2 1 0.2 1 0.1 1 0 1-2.1 1-4.1 1-4.3 1-4 1-3.9 1-3.6 1-3.5 1-3.3 1-3.1 1-2.8 1-2.7 1-2.5 1-2.3 1-2.1 1-1.9 1-1.7 1-1.5 1-1.3 1-1.2 1-0.9 1-0.7 1-0.5 1-0.4 1-0.1 1 0.1 1 0.2 1 0.5 1 0.6 1 0.9 1 1 1 1.2 1 1.5 1 1.6 1 1.8 1 2 1 2.2 1 2.4 1 2.7 1 2.8 1 3 1 3.2 1 3.3 1 3.6 1 3.8 1 4 1 3.9 1 1.4 1-1.2 1-1.3 1-1.2 1-1.1 1-1 1-0.8 1-0.5 1-0.2 1 0 1 0.4 1 0.6 1 0.8 1 1 1 1.2 1 1.2 1 1.2 1 1.3 1 1.1 1 1.1 1 0.9 1 0 1-3.2 1-3.9 1-3.8 1-3.5 1-3.3 1-3 1-2.9 1-2.5 1-2.4 1-2 1-1.9 1-1.6 1-1.4 1-1.1 1-0.9 1-0.6 1-0.4 1-0.2 1 0.1 1 0.3 1 0.5 1 0.8 1 1.1 1 1.2 1 1.5 1 1.8 1 2 1 2.2 1 2.5 1 2.7 1 3 1 3.1 1 3.5 1 3.6 1 3.9 1 4.1 1 3 1 0.7 1 0 1 0 1 0 1 0 1 0 1 0 1-0.1 1 0 1 0 1 0 1 0M209 87.8l1 0.2 1 0.3 1 0.1 1 0.1 1 0 1-0.9 1-3.5 1-4.4 1-4.2 1-4.1 1-3.8 1-3.7 1-3.5 1-3.2 1-3.1 1-2.9 1-2.7 1-2.5 1-2.3 1-2.1 1-1.9 1-1.7 1-1.5 1-1.3 1-1.1 1-0.9 1-0.7 1-0.6 1-0.3 1-0.1 1 0 1 0.3 1 0.4 1 0.7 1 0.8 1 1 1 1.3 1 1.4 1 1.6 1 1.9 1 2 1 2.2 1 2.4 1 2.6 1 2.8 1 3 1 3.2 1 3.4 1 3.6 1 3.8 1 3.9 1 3.6 1-0.1 1-1.7 1-1.7 1-1.7 1-1.5 1-1.4 1-1.1 1-0.7 1-0.4 1-0.1 1 0.3 1 0.7 1 1 1 1.2 1 1.4 1 1.5 1 1.6 1 1.5 1 1.5 1 1.5 1 1.3 1 0.5 1-2.8 1-4 1-3.7 1-3.6 1-3.3 1-3 1-2.8 1-2.6 1-2.3 1-2.1 1-1.9 1-1.6 1-1.3 1-1.2 1-0.8 1-0.7 1-0.4 1-0.2 1 0.1 1 0.3 1 0.6 1 0.8 1 1 1 1.3 1 1.5 1 1.7 1 2 1 2.3 1 2.4 1 2.7 1 3 1 3.2 1 3.4 1 3.7 1 3.8 1 3.3 1 0.4 1-0.6 1-0.8 1-0.9 1-1 1-1 1-1 1-0.9 1-0.7 1-0.6 1-0.4 1-0.2 1 0.1M209 72.3l1-0.3 1-0.2 1-0.1 1 0.1 1 0.2 1 0.3 1 0.4 1 0.4 1 0.1 1-2 1-3.7 1-3.6 1-3.5 1-3.2 1-3.1 1-2.9 1-2.7 1-2.5 1-2.3 1-2.1 1-1.9 1-1.7 1-1.5 1-1.3 1-1.1 1-0.9 1-0.8 1-0.5 1-0.3 1-0.2 1 0.1 1 0.3 1 0.4 1 0.6 1 0.9 1 1 1 1.3 1 1.4 1 1.6 1 1.8 1 2.1 1 2.2 1 2.4 1 2.6 1 2.8 1 3 1 3.2 1 3.4 1 3.6 1 3.7 1 3.9 1 3.5 1 1.7 1 0.8 1 0.6 1 0.6 1 0.6 1 0.6 1 0.5 1 0.4 1 0.4 1 0.2 1 0.1 1 0.1 1-0.1 1-0.2 1-0.2 1-0.4 1-0.4 1-0.4 1-0.5 1-0.5 1-0.6 1-0.8 1-2.2 1-3.6 1-3.7 1-3.5 1-3.3 1-3.1 1-2.8 1-2.6 1-2.3 1-2.1 1-1.8 1-1.6 1-1.4 1-1.1 1-0.9 1-0.7 1-0.4 1-0.1 1 0 1 0.3 1 0.6 1 0.8 1 1 1 1.3 1 1.5 1 1.8 1 2 1 2.2 1 2.5 1 2.7 1 2.9 1 3.2 1 3.4 1 3.7 1 3.9 1 3.4 1 1.1 1 0 1-0.1 1-0.1 1 0 1-0.1 1 0 1 0 1 0 1 0.1 1 0 1-0.1 1 0M209 68.4l1-0.3 1-0.3 1-0.1 1 0 1 0.1 1 0.2 1 0.2 1 0.4 1 0.3 1-0.1 1-2.2 1-3.5 1-3.4 1-3.3 1-3.1 1-2.9 1-2.7 1-2.4 1-2.3 1-2.1 1-1.9 1-1.7 1-1.6 1-1.3 1-1.1 1-0.9 1-0.7 1-0.6 1-0.3 1-0.1 1 0 1 0.3 1 0.4 1 0.7 1 0.8 1 1.1 1 1.2 1 1.4 1 1.7 1 1.8 1 2 1 2.2 1 2.4 1 2.6 1 2.8 1 3 1 3.2 1 3.4 1 3.5 1 2.4 1 0.2 1-0.6 1-0.6 1-0.5 1-0.6 1-0.5 1-0.4 1-0.2 1-0.2 1 0.1 1 0.2 1 0.4 1 0.6 1 0.6 1 0.8 1 0.9 1 0.8 1 0.9 1 0.8 1 0.6 1 0.6 1 0.4 1 0.4 1 0.1 1 0 1-0.8 1-2.7 1-3.4 1-3.2 1-3.1 1-2.8 1-2.5 1-2.4 1-2.1 1-1.8 1-1.6 1-1.4 1-1.1 1-0.9 1-0.7 1-0.4 1-0.1 1 0 1 0.4 1 0.5 1 0.8 1 1 1 1.3 1 1.5 1 1.8 1 2 1 2.2 1 2.5 1 2.7 1 2.9 1 3.2 1 3.4 1 3.6 1 3.1 1 0.6 1-0.4 1-0.4 1-0.5 1-0.5 1-0.5 1-0.4 1-0.4 1-0.4 1-0.3 1-0.3 1-0.1 1-0.1 1 0M209 86.8l1 0.2 1 0 1-0.1 1-0.2 1-0.3 1-0.8 1-2.8 1-4.2 1-4.2 1-4.1 1-3.8 1-3.7 1-3.5 1-3.2 1-3.1 1-2.9 1-2.7 1-2.5 1-2.3 1-2.1 1-1.9 1-1.7 1-1.5 1-1.3 1-1.1 1-0.9 1-0.8 1-0.5 1-0.3 1-0.2 1 0.1 1 0.3 1 0.4 1 0.7 1 0.8 1 1 1 1.3 1 1.4 1 1.6 1 1.9 1 2 1 2.2 1 2.4 1 2.6 1 2.8 1 3 1 3.2 1 3.4 1 3.6 1 3.8 1 3.9 1 3.5 1 0.4 1-0.9 1-0.9 1-1 1-0.8 1-0.8 1-0.6 1-0.5 1-0.2 1-0.1 1 0.1 1 0.3 1 0.5 1 0.6 1 0.8 1 0.8 1 0.8 1 0.8 1 0.8 1 0.8 1 0.8 1 0.6 1 0.3 1-2 1-3.5 1-3.6 1-3.2 1-3.1 1-2.8 1-2.6 1-2.3 1-2.1 1-1.8 1-1.6 1-1.4 1-1.1 1-0.9 1-0.7 1-0.4 1-0.1 1 0 1 0.3 1 0.6 1 0.8 1 1 1 1.3 1 1.5 1 1.8 1 1.9 1 2.3 1 2.5 1 2.7 1 2.9 1 3.2 1 3.4 1 3.6 1 2.9 1 1 1 0.2 1 0.1 1 0.1 1 0.1 1 0 1 0.1 1 0 1 0.1 1 0 1 0 1 0.1 1 0 1 0M209 76.6l1-0.1 1-0.2 1-0.1 1-0.2 1-0.1 1-0.1 1-0.1 1-0.1 1-0.2 1-1.2 1-3.2 1-3.7 1-3.4 1-3.3 1-3.1 1-2.8 1-2.7 1-2.5 1-2.3 1-2.1 1-1.9 1-1.7 1-1.5 1-1.3 1-1.2 1-0.9 1-0.7 1-0.5 1-0.4 1-0.1 1 0.1 1 0.2 1 0.5 1 0.6 1 0.8 1 1.1 1 1.2 1 1.5 1 1.6 1 1.8 1 2 1 2.2 1 2.4 1 2.7 1 2.8 1 3 1 3.2 1 3.3 1 3.5 1 2.9 1 0.7 1-0.4 1-0.5 1-0.5 1-0.4 1-0.5 1-0.3 1-0.3 1-0.2 1-0.1 1 0.1 1 0.2 1 0.3 1 0.4 1 0.5 1 0.5 1 0.6 1 0.6 1 0.6 1 0.5 1 0.4 1 0.4 1 0.3 1 0.2 1-0.3 1-2.3 1-3.5 1-3.5 1-3.3 1-3 1-2.9 1-2.5 1-2.3 1-2.1 1-1.9 1-1.6 1-1.4 1-1.1 1-0.9 1-0.6 1-0.4 1-0.2 1 0.1 1 0.3 1 0.5 1 0.8 1 1.1 1 1.2 1 1.5 1 1.8 1 2 1 2.2 1 2.5 1 2.7 1 3 1 3.1 1 3.5 1 3.6 1 3.7 1 2.6 1 0.7 1 0.2 1 0.3 1 0.3 1 0.3 1 0.3 1 0.4 1 0.3 1 0.2 1 0.2 1 0.2 1 0 1 0M209 97.4l1 0.2 1 0.1 1-0.1 1-0.2 1-1.1 1-3.7 1-4.5 1-4.4 1-4.3 1-4.1 1-3.8 1-3.7 1-3.5 1-3.2 1-3.1 1-2.9 1-2.7 1-2.5 1-2.3 1-2.1 1-1.9 1-1.7 1-1.5 1-1.3 1-1.1 1-0.9 1-0.7 1-0.6 1-0.3 1-0.1 1 0 1 0.3 1 0.4 1 0.7 1 0.8 1 1.1 1 1.2 1 1.4 1 1.6 1 1.9 1 2 1 2.2 1 2.4 1 2.6 1 2.8 1 3 1 3.2 1 3.4 1 3.6 1 3.8 1 4 1 4.1 1 4.4 1 4.4 1 3.2 1 0.7 1 0.1 1 0.1 1 0 1-0.1 1-0.2 1-0.3 1-0.3 1-0.5 1-0.4 1-0.5 1-0.5 1-0.5 1-0.4 1-0.3 1-0.3 1-0.3 1-1.5 1-3.9 1-4.2 1-4 1-3.7 1-3.6 1-3.2 1-3.1 1-2.8 1-2.6 1-2.3 1-2.1 1-1.8 1-1.6 1-1.4 1-1.1 1-0.9 1-0.7 1-0.4 1-0.2 1 0.1 1 0.3 1 0.6 1 0.8 1 1 1 1.3 1 1.5 1 1.7 1 2 1 2.3 1 2.4 1 2.8 1 2.9 1 3.2 1 3.4 1 3.7 1 3.9 1 4 1 3 1 0.5 1-0.2 1-0.3 1-0.4 1-0.3 1-0.3 1-0.4 1-0.3 1-0.2 1-0.1 1-0.1 1 0.1M209 82l1-0.3 1-0.4 1-0.5 1-0.5 1-0.5 1-0.6 1-0.5 1-0.9 1-2.6 1-3.8 1-3.9 1-3.6 1-3.5 1-3.3 1-3 1-2.9 1-2.7 1-2.5 1-2.3 1-2.1 1-1.9 1-1.7 1-1.5 1-1.3 1-1.1 1-1 1-0.7 1-0.5 1-0.3 1-0.2 1 0.1 1 0.2 1 0.5 1 0.6 1 0.9 1 1 1 1.2 1 1.5 1 1.6 1 1.8 1 2 1 2.3 1 2.4 1 2.6 1 2.8 1 3 1 3.2 1 3.4 1 3.5 1 3.6 1 1.6 1-0.5 1-0.9 1-0.9 1-0.8 1-0.8 1-0.7 1-0.5 1-0.4 1-0.1 1 0.1 1 0.4 1 0.5 1 0.8 1 0.9 1 1 1 1 1 1.1 1 1 1 1 1 0.8 1 0.7 1 0.5 1 0.4 1 0.3 1-0.8 1-2.8 1-3.4 1-3.2 1-3.1 1-2.8 1-2.6 1-2.3 1-2.1 1-1.8 1-1.6 1-1.4 1-1.1 1-0.9 1-0.7 1-0.4 1-0.2 1 0.1 1 0.3 1 0.6 1 0.8 1 1 1 1.3 1 1.5 1 1.7 1 2 1 2.3 1 2.4 1 2.8 1 2.9 1 3.2 1 3.4 1 3.5 1 2.1 1-0.3 1-0.9 1-1 1-1.1 1-1.1 1-1.2 1-1.1 1-1.1 1-1 1-0.9 1-0.6 1-0.5 1-0.1 1 0M209 71.7l1-0.2 1-0.1 1 0 1 0 1 0 1 0.1 1 0.1 1 0.1 1 0.2 1 0.1 1-0.1 1-1.4 1-3.1 1-3.2 1-3.1 1-2.8 1-2.7 1-2.5 1-2.3 1-2.1 1-1.9 1-1.7 1-1.5 1-1.3 1-1.2 1-0.9 1-0.7 1-0.5 1-0.4 1-0.1 1 0.1 1 0.2 1 0.5 1 0.6 1 0.9 1 1 1 1.2 1 1.5 1 1.6 1 1.8 1 2 1 2.2 1 2.5 1 2.6 1 2.8 1 3 1 3.1 1 3.3 1 2.8 1 1.2 1 0.4 1 0.3 1 0.3 1 0.3 1 0.4 1 0.3 1 0.4 1 0.3 1 0.2 1 0.2 1 0.2 1 0.1 1 0 1-0.1 1-0.1 1-0.1 1-0.2 1-0.2 1-0.3 1-0.3 1-0.3 1-0.3 1-0.2 1-0.3 1-0.3 1-0.2 1-0.3 1-0.9 1-2.2 1-2.9 1-2.8 1-2.5 1-2.3 1-2.1 1-1.9 1-1.6 1-1.4 1-1.1 1-0.9 1-0.6 1-0.4 1-0.2 1 0.1 1 0.3 1 0.5 1 0.8 1 1.1 1 1.2 1 1.5 1 1.8 1 2 1 2.2 1 2.5 1 2.7 1 2.9 1 3 1 2 1 0.5 1 0.2 1 0 1 0.1 1 0.1 1 0.2 1 0.2 1 0.1 1 0.2 1 0.2 1 0.2 1 0.2 1 0.1 1 0.1 1 0 1 0M209 89.6l1-0.1 1-0.1 1-0.1 1-0.1 1-0.1 1-0.1 1-0.3 1-2.2 1-4 1-4 1-3.9 1-3.6 1-3.5 1-3.3 1-3.1 1-2.8 1-2.7 1-2.5 1-2.3 1-2.1 1-1.9 1-1.7 1-1.5 1-1.3 1-1.2 1-0.9 1-0.7 1-0.5 1-0.4 1-0.1 1 0.1 1 0.2 1 0.5 1 0.6 1 0.9 1 1 1 1.2 1 1.5 1 1.6 1 1.8 1 2 1 2.2 1 2.5 1 2.6 1 2.8 1 3 1 3.2 1 3.4 1 3.5 1 3.8 1 3.7 1 1.3 1-1 1-1.2 1-1.2 1-1.1 1-1.1 1-0.8 1-0.6 1-0.4 1-0.1 1 0.3 1 0.5 1 0.8 1 1 1 1.1 1 1.3 1 1.3 1 1.3 1 1.2 1 1.1 1 1 1 0.8 1 0.5 1-1.6 1-3.7 1-3.8 1-3.5 1-3.3 1-3 1-2.8 1-2.6 1-2.3 1-2.1 1-1.9 1-1.6 1-1.4 1-1.1 1-0.9 1-0.6 1-0.4 1-0.2 1 0.1 1 0.3 1 0.5 1 0.8 1 1.1 1 1.2 1 1.5 1 1.8 1 2 1 2.2 1 2.5 1 2.7 1 3 1 3.2 1 3.4 1 3.7 1 3.8 1 2.9 1 0 1-0.9 1-1 1-1 1-1.1 1-1.1 1-1.1 1-0.9 1-0.8 1-0.7 1-0.4 1-0.2 1 0.1"/></defs><use href="#tr0" stroke="#2f5ee8" stroke-width="1.1" fill="none" opacity="0.25" filter="url(#gl)"/><use href="#tr0" stroke="#b4dcff" stroke-width="0.55" fill="none" opacity="0.55"/><path d="M221.7 60l1-3.3 1-3.2 1-2.9 1-2.7 1-2.6 1-2.3 1-2.2 1-2 1-1.7 1-1.6 1-1.4 1-1.1 1-1 1-0.8 1-0.6 1-0.4 1-0.2 1 0 1 0.2 1 0.4 1 0.6 1 0.8 1 1 1 1.1 1 1.4 1 1.6 1 1.8 1 1.9 1 2.2 1 2.3 1 2.6 1 2.7 1 3 1 3.1M285.4 70.8l1-3.7 1-3.4 1-3.2 1-3 1-2.7 1-2.4 1-2.3 1-2 1-1.7 1-1.5 1-1.3 1-1.1 1-0.8 1-0.5 1-0.3 1-0.1 1 0.2 1 0.4 1 0.6 1 0.9 1 1.1 1 1.4 1 1.6 1 1.8 1 2.1 1 2.4 1 2.5 1 2.8 1 3.1 1 3.3 1 3.5" stroke="#c8f0ff" stroke-width="0.7" fill="none" opacity="0.8"/></g><rect x="339" y="11" width="6.6" height="110.5" fill="url(#jet)"/><text x="275" y="7.5" textLength="79.5" lengthAdjust="spacingAndGlyphs" style="font-family:'Liberation Sans', sans-serif;font-size:8.0px;fill:#222;stroke:#222;stroke-width:0.2px;font-weight:bold;font-size:8.4px;fill:#111;stroke:none;" text-anchor="middle">Persistence spectrum</text><text transform="translate(206.6 14.5) scale(1.0 1)" style="font-family:'Liberation Sans', sans-serif;font-size:8.0px;fill:#222;stroke:#222;stroke-width:0.2px;font-size:8.1px;" text-anchor="end">0</text><text transform="translate(207.7 70) scale(1.0 1)" style="font-family:'Liberation Sans', sans-serif;font-size:8.0px;fill:#222;stroke:#222;stroke-width:0.2px;font-size:8.1px;" text-anchor="end">-50</text><text transform="translate(208 122.6) scale(1.0 1)" style="font-family:'Liberation Sans', sans-serif;font-size:8.0px;fill:#222;stroke:#222;stroke-width:0.2px;font-size:8.1px;" text-anchor="end">-100</text><text transform="translate(209 129.7) scale(1.0 1)" style="font-family:'Liberation Sans', sans-serif;font-size:8.0px;fill:#222;stroke:#222;stroke-width:0.2px;font-size:8.1px;" text-anchor="middle">0</text><text transform="translate(239.6 129.7) scale(1.0 1)" style="font-family:'Liberation Sans', sans-serif;font-size:8.0px;fill:#222;stroke:#222;stroke-width:0.2px;font-size:8.1px;" text-anchor="middle">50</text><text transform="translate(270.1 129.7) scale(1.0 1)" style="font-family:'Liberation Sans', sans-serif;font-size:8.0px;fill:#222;stroke:#222;stroke-width:0.2px;font-size:8.1px;" text-anchor="middle">100</text><text transform="translate(300.6 129.7) scale(1.0 1)" style="font-family:'Liberation Sans', sans-serif;font-size:8.0px;fill:#222;stroke:#222;stroke-width:0.2px;font-size:8.1px;" text-anchor="middle">150</text><text transform="translate(331.2 129.7) scale(1.0 1)" style="font-family:'Liberation Sans', sans-serif;font-size:8.0px;fill:#222;stroke:#222;stroke-width:0.2px;font-size:8.1px;" text-anchor="middle">200</text><text transform="translate(271.4 137) scale(0.955 1)" style="font-family:'Liberation Sans', sans-serif;font-size:8.0px;fill:#222;stroke:#222;stroke-width:0.2px;" text-anchor="middle">Frequency (Hz)</text><text transform="translate(268.9 148.2) scale(0.955 1)" style="font-family:'Liberation Sans', sans-serif;font-size:8.0px;fill:#222;stroke:#222;stroke-width:0.2px;fill:#b55fc4;stroke:#b55fc4;stroke-width:0.12px;" text-anchor="middle">Original signal</text><text transform="translate(194.7 63.2) rotate(-90) scale(0.955 1)" style="font-family:'Liberation Sans', sans-serif;font-size:8.0px;fill:#222;stroke:#222;stroke-width:0.2px;" text-anchor="middle">Power spectrum (dB)</text><text transform="translate(347.5 29.9) scale(1.0 1)" style="font-family:'Liberation Sans', sans-serif;font-size:8.0px;fill:#222;stroke:#222;stroke-width:0.2px;font-size:8.1px;">25</text><text transform="translate(347.5 71.6) scale(1.0 1)" style="font-family:'Liberation Sans', sans-serif;font-size:8.0px;fill:#222;stroke:#222;stroke-width:0.2px;font-size:8.1px;">15</text><text transform="translate(347.5 107) scale(1.0 1)" style="font-family:'Liberation Sans', sans-serif;font-size:8.0px;fill:#222;stroke:#222;stroke-width:0.2px;font-size:8.1px;">5</text><text transform="translate(363.2 64.6) rotate(-90) scale(0.955 1)" style="font-family:'Liberation Sans', sans-serif;font-size:8.0px;fill:#222;stroke:#222;stroke-width:0.2px;" text-anchor="middle">Density(%)</text><clipPath id="pc1"><rect x="390.8" y="10.8" width="122.5" height="110.3"/></clipPath><rect x="390.8" y="10.8" width="122.5" height="110.3" fill="#000084"/><g clip-path="url(#pc1)"><defs><path id="tr1" d="M390.8 62.5l1 0 1 0 1-0.2 1-0.1 1-0.3 1-0.2 1-0.3 1-0.2 1-0.3 1-0.2 1-0.1 1-0.2 1-1 1-2.4 1-3 1-3 1-2.7 1-2.6 1-2.3 1-2.1 1-1.9 1-1.7 1-1.5 1-1.3 1-1.1 1-0.8 1-0.7 1-0.4 1-0.3 1 0 1 0.2 1 0.4 1 0.6 1 0.8 1 1.1 1 1.2 1 1.4 1 1.7 1 1.9 1 2.1 1 2.2 1 2.5 1 2.7 1 3 1 3 1 3.1 1 2.2 1 0.9 1 0.3 1 0.2 1 0.1 1 0.1 1 0 1 0 1-0.1 1-0.1 1-0.2 1-0.1 1-0.2 1-0.2 1-0.2 1-0.1 1-0.1 1-0.1 1 0 1 0.1 1 0 1 0.1 1 0.1 1 0.2 1 0.1 1 0.1 1 0.1 1 0.1 1 0 1 0 1-0.2 1-0.4 1-1 1-1.7 1-2 1-2 1-1.8 1-1.7 1-1.4 1-1.3 1-1.1 1-0.9 1-0.8 1-0.5 1-0.3 1-0.2 1 0 1 0.3 1 0.4 1 0.6 1 0.8 1 1 1 1.2 1 1.3 1 1.6 1 1.7 1 1.9 1 2.1 1 1.8 1 1.2 1 0.2 1-0.2 1-0.2 1-0.2 1-0.2 1-0.2 1-0.1 1 0 1 0 1 0.1 1 0.2 1 0.1 1 0.3 1 0.2 1 0.3 1 0.2 1 0.3M390.8 62l1-0.2 1-0.2 1-0.1 1-0.2 1-0.1 1 0 1-0.1 1 0 1 0 1 0.1 1 0 1-0.4 1-2 1-3.1 1-3.1 1-3 1-2.7 1-2.5 1-2.4 1-2.1 1-1.9 1-1.7 1-1.5 1-1.3 1-1 1-0.9 1-0.7 1-0.4 1-0.2 1-0.1 1 0.2 1 0.4 1 0.6 1 0.9 1 1 1 1.2 1 1.5 1 1.6 1 1.9 1 2.1 1 2.3 1 2.5 1 2.7 1 2.9 1 3.1 1 3.2 1 2.5 1 1 1 0.3 1 0.2 1 0.4 1 0.3 1 0.4 1 0.4 1 0.4 1 0.4 1 0.5 1 0.3 1 0.4 1 0.3 1 0.2 1 0.1 1 0.1 1 0 1 0 1-0.2 1-0.1 1-0.3 1-0.2 1-0.3 1-0.4 1-0.3 1-0.3 1-0.4 1-0.3 1-0.4 1-0.5 1-1 1-1.7 1-2.1 1-2.2 1-2 1-1.9 1-1.6 1-1.5 1-1.3 1-1.1 1-0.9 1-0.7 1-0.6 1-0.3 1-0.2 1 0.1 1 0.2 1 0.4 1 0.6 1 0.8 1 1 1 1.2 1 1.4 1 1.5 1 1.8 1 1.9 1 2.1 1 2.3 1 2.2 1 1.7 1 0.7 1 0.1 1 0 1-0.1 1-0.1 1-0.1 1-0.2 1-0.1 1-0.2 1-0.2 1-0.2 1-0.3 1-0.2 1-0.2 1-0.1 1-0.2M390.8 61.2l1-0.1 1-0.1 1 0 1-0.1 1 0 1 0 1 0 1 0 1 0.1 1 0.1 1 0.1 1-0.2 1-1.5 1-2.9 1-3.1 1-3 1-2.7 1-2.6 1-2.3 1-2.1 1-1.9 1-1.7 1-1.5 1-1.3 1-1.1 1-0.8 1-0.7 1-0.4 1-0.3 1 0 1 0.2 1 0.4 1 0.6 1 0.8 1 1.1 1 1.2 1 1.4 1 1.7 1 1.9 1 2.1 1 2.2 1 2.5 1 2.8 1 2.9 1 3 1 3.1 1 2 1 0.8 1 0.3 1 0.3 1 0.4 1 0.3 1 0.5 1 0.4 1 0.5 1 0.4 1 0.4 1 0.4 1 0.3 1 0.3 1 0.2 1 0.1 1 0 1 0 1-0.1 1-0.2 1-0.2 1-0.3 1-0.3 1-0.3 1-0.4 1-0.3 1-0.4 1-0.3 1-0.3 1-0.4 1-0.4 1-0.8 1-1.4 1-2 1-2.1 1-2.1 1-1.8 1-1.7 1-1.5 1-1.2 1-1.2 1-0.9 1-0.7 1-0.5 1-0.4 1-0.1 1 0 1 0.3 1 0.4 1 0.6 1 0.8 1 1 1 1.1 1 1.4 1 1.6 1 1.7 1 1.9 1 2.1 1 2.2 1 2 1 1.2 1 0.4 1 0.1 1 0.1 1 0 1-0.1 1 0 1-0.1 1-0.1 1-0.1 1-0.1 1-0.2 1-0.1 1-0.2 1-0.2 1-0.1 1-0.2M390.8 63.1l1 0.1 1 0.1 1 0 1 0.1 1 0.1 1 0 1 0.1 1 0 1 0 1 0.1 1 0 1-0.3 1-1.6 1-2.8 1-3.1 1-3 1-2.7 1-2.6 1-2.3 1-2.1 1-1.9 1-1.7 1-1.5 1-1.3 1-1.1 1-0.8 1-0.7 1-0.4 1-0.3 1 0 1 0.2 1 0.4 1 0.6 1 0.8 1 1.1 1 1.2 1 1.5 1 1.6 1 1.9 1 2.1 1 2.3 1 2.5 1 2.7 1 2.9 1 3 1 2.9 1 1.5 1 0.4 1 0 1-0.1 1-0.1 1 0 1-0.1 1-0.2 1-0.1 1-0.1 1-0.1 1-0.1 1-0.1 1-0.1 1-0.1 1 0 1-0.1 1 0 1 0 1 0.1 1 0 1 0.1 1 0 1 0.1 1 0.1 1 0 1 0.1 1 0.1 1 0 1 0 1-0.1 1-0.9 1-1.9 1-2.3 1-2.2 1-2 1-1.9 1-1.6 1-1.5 1-1.3 1-1.1 1-0.9 1-0.7 1-0.6 1-0.3 1-0.2 1 0.1 1 0.2 1 0.4 1 0.6 1 0.8 1 1 1 1.2 1 1.4 1 1.5 1 1.8 1 1.9 1 2.1 1 2.3 1 2.3 1 1.7 1 0.8 1 0.1 1 0 1-0.1 1-0.1 1 0 1-0.1 1 0 1 0 1-0.1 1 0 1 0 1 0.1 1 0 1 0 1 0M390.8 61.1l1 0 1 0 1 0 1 0.1 1 0.1 1 0.1 1 0.1 1 0.1 1 0.2 1 0.1 1 0.1 1-0.8 1-2.5 1-3.2 1-3.2 1-2.9 1-2.8 1-2.5 1-2.3 1-2.2 1-1.9 1-1.7 1-1.5 1-1.2 1-1.1 1-0.9 1-0.6 1-0.5 1-0.2 1 0 1 0.2 1 0.4 1 0.6 1 0.8 1 1 1 1.3 1 1.4 1 1.7 1 1.8 1 2.1 1 2.3 1 2.5 1 2.7 1 2.9 1 3.1 1 3.2 1 2.6 1 1 1 0.4 1 0.2 1 0.3 1 0.3 1 0.3 1 0.3 1 0.3 1 0.4 1 0.2 1 0.3 1 0.2 1 0.2 1 0.2 1 0 1 0.1 1-0.1 1 0 1-0.1 1-0.2 1-0.2 1-0.2 1-0.2 1-0.3 1-0.3 1-0.2 1-0.3 1-0.3 1-0.2 1-0.5 1-0.9 1-1.6 1-2.2 1-2.1 1-2.1 1-1.8 1-1.7 1-1.5 1-1.3 1-1.1 1-0.9 1-0.7 1-0.5 1-0.4 1-0.1 1 0 1 0.2 1 0.4 1 0.7 1 0.8 1 0.9 1 1.2 1 1.4 1 1.5 1 1.8 1 1.9 1 2.1 1 2.3 1 2.2 1 1.7 1 0.8 1 0.1 1 0.1 1-0.1 1 0 1-0.1 1-0.1 1-0.1 1-0.1 1-0.2 1-0.1 1-0.2 1-0.1 1-0.2 1-0.2 1-0.1M390.8 62.9l1 0.1 1 0.1 1 0.1 1 0 1 0 1-0.1 1-0.1 1-0.2 1-0.1 1-0.2 1-0.2 1-0.6 1-2.1 1-3 1-3.1 1-3 1-2.8 1-2.5 1-2.3 1-2.1 1-2 1-1.7 1-1.4 1-1.3 1-1.1 1-0.9 1-0.6 1-0.5 1-0.2 1 0 1 0.2 1 0.4 1 0.6 1 0.8 1 1 1 1.3 1 1.4 1 1.7 1 1.9 1 2 1 2.3 1 2.5 1 2.7 1 2.9 1 3.2 1 3.2 1 2.7 1 1.4 1 0.5 1 0.3 1 0.2 1 0.2 1 0.2 1 0.2 1 0.1 1 0 1 0 1 0 1 0 1-0.1 1-0.1 1-0.2 1-0.1 1-0.1 1-0.1 1-0.1 1-0.1 1-0.1 1 0 1-0.1 1 0 1 0 1-0.1 1 0 1-0.1 1-0.2 1-0.3 1-1.1 1-1.9 1-2.2 1-2.2 1-2.1 1-1.8 1-1.7 1-1.5 1-1.3 1-1.1 1-0.9 1-0.7 1-0.5 1-0.4 1-0.1 1 0 1 0.2 1 0.4 1 0.7 1 0.8 1 0.9 1 1.2 1 1.4 1 1.5 1 1.8 1 1.9 1 2.1 1 2.2 1 2 1 1.1 1 0.2 1 0 1-0.1 1-0.1 1 0 1 0 1 0.1 1 0.1 1 0.1 1 0.2 1 0.1 1 0.2 1 0.2 1 0.1 1 0.1 1 0.1M390.8 61.1l1 0.1 1 0 1 0.1 1 0.1 1 0 1 0.1 1 0 1 0.1 1 0 1 0 1 0.1 1-0.1 1-0.6 1-2 1-2.8 1-3 1-2.7 1-2.5 1-2.4 1-2.1 1-1.9 1-1.7 1-1.5 1-1.3 1-1.1 1-0.8 1-0.7 1-0.4 1-0.2 1-0.1 1 0.2 1 0.4 1 0.6 1 0.9 1 1 1 1.2 1 1.5 1 1.6 1 1.9 1 2.1 1 2.3 1 2.5 1 2.7 1 2.9 1 2.9 1 2.5 1 1.1 1 0.4 1 0.3 1 0.2 1 0.3 1 0.3 1 0.3 1 0.2 1 0.3 1 0.2 1 0.2 1 0.1 1 0.1 1 0 1 0 1-0.1 1-0.1 1-0.2 1-0.3 1-0.3 1-0.2 1-0.4 1-0.3 1-0.3 1-0.2 1-0.3 1-0.2 1-0.2 1-0.1 1-0.2 1-0.3 1-0.8 1-1.7 1-2.2 1-2.2 1-2 1-1.9 1-1.7 1-1.5 1-1.2 1-1.2 1-0.9 1-0.7 1-0.5 1-0.4 1-0.1 1 0 1 0.3 1 0.4 1 0.6 1 0.8 1 1 1 1.1 1 1.4 1 1.6 1 1.7 1 1.9 1 2.1 1 2.2 1 2 1 1.1 1 0.4 1 0 1 0 1 0.1 1 0 1 0 1 0.1 1 0 1 0.1 1 0 1 0.1 1 0 1 0.1 1 0.1 1 0 1 0.1M390.8 62.9l1 0.2 1 0.3 1 0.2 1 0.2 1 0.2 1 0.1 1 0.1 1 0 1 0 1-0.1 1-0.3 1-1.2 1-2.7 1-3.2 1-3.2 1-2.9 1-2.8 1-2.5 1-2.4 1-2.1 1-1.9 1-1.7 1-1.5 1-1.3 1-1 1-0.9 1-0.7 1-0.4 1-0.2 1 0 1 0.1 1 0.4 1 0.7 1 0.8 1 1 1 1.2 1 1.5 1 1.6 1 1.9 1 2.1 1 2.3 1 2.5 1 2.7 1 2.9 1 3.1 1 3 1 2 1 0.3 1 0 1-0.1 1-0.1 1 0 1-0.1 1 0 1 0 1-0.1 1 0 1-0.1 1-0.1 1 0 1-0.1 1-0.1 1 0 1-0.1 1 0 1 0 1 0 1 0.1 1 0 1 0.1 1 0.2 1 0.2 1 0.2 1 0.2 1 0.3 1 0.3 1 0.2 1 0.1 1-0.9 1-1.8 1-2.1 1-2 1-1.8 1-1.7 1-1.5 1-1.3 1-1.1 1-0.9 1-0.7 1-0.6 1-0.3 1-0.2 1 0.1 1 0.2 1 0.4 1 0.6 1 0.8 1 1 1 1.2 1 1.4 1 1.5 1 1.8 1 1.9 1 2.1 1 2 1 1.8 1 1.1 1 0.5 1 0.2 1 0.1 1 0.1 1 0 1 0 1-0.1 1-0.2 1-0.2 1-0.2 1-0.2 1-0.3 1-0.2 1-0.2 1-0.1 1-0.2M390.8 62.7l1-0.1 1-0.2 1-0.2 1-0.1 1-0.2 1-0.1 1-0.2 1 0 1-0.1 1 0.1 1 0 1-0.2 1-1.4 1-2.9 1-3.1 1-3 1-2.7 1-2.6 1-2.3 1-2.1 1-1.9 1-1.7 1-1.5 1-1.3 1-1.1 1-0.8 1-0.7 1-0.4 1-0.2 1-0.1 1 0.2 1 0.4 1 0.6 1 0.9 1 1 1 1.2 1 1.5 1 1.6 1 1.9 1 2.1 1 2.3 1 2.5 1 2.7 1 2.9 1 3.1 1 3.2 1 2.5 1 1 1 0.1 1 0.1 1 0.1 1 0.1 1 0.2 1 0.2 1 0.3 1 0.3 1 0.3 1 0.3 1 0.3 1 0.2 1 0.2 1 0.2 1 0 1 0 1-0.1 1-0.2 1-0.2 1-0.4 1-0.3 1-0.5 1-0.4 1-0.4 1-0.4 1-0.4 1-0.3 1-0.3 1-0.2 1-0.3 1-0.7 1-1.4 1-2 1-1.9 1-1.9 1-1.6 1-1.5 1-1.3 1-1.1 1-0.9 1-0.7 1-0.6 1-0.3 1-0.2 1 0.1 1 0.2 1 0.4 1 0.6 1 0.8 1 1 1 1.2 1 1.4 1 1.5 1 1.7 1 1.9 1 2 1 1.9 1 1.2 1 0.6 1 0.3 1 0.2 1 0.1 1 0.1 1 0 1 0 1 0 1-0.1 1-0.1 1-0.2 1-0.2 1-0.2 1-0.1 1-0.2 1-0.1 1 0M390.8 62.8l1-0.1 1-0.1 1-0.1 1 0 1 0 1-0.1 1 0 1 0 1 0 1 0 1 0 1-0.4 1-1.9 1-3.1 1-3.1 1-3 1-2.7 1-2.5 1-2.4 1-2.1 1-1.9 1-1.7 1-1.5 1-1.3 1-1.1 1-0.8 1-0.7 1-0.4 1-0.2 1-0.1 1 0.2 1 0.4 1 0.6 1 0.9 1 1 1 1.2 1 1.5 1 1.6 1 1.9 1 2.1 1 2.3 1 2.5 1 2.7 1 2.9 1 3.1 1 3 1 1.8 1 0.3 1-0.2 1-0.2 1-0.3 1-0.2 1-0.3 1-0.3 1-0.3 1-0.3 1-0.3 1-0.2 1-0.2 1-0.1 1-0.1 1 0 1 0.1 1 0.1 1 0.2 1 0.2 1 0.2 1 0.3 1 0.3 1 0.3 1 0.3 1 0.3 1 0.2 1 0.3 1 0.2 1 0.2 1 0.1 1 0 1-0.6 1-1.5 1-2 1-2 1-1.9 1-1.6 1-1.5 1-1.3 1-1.1 1-0.9 1-0.7 1-0.6 1-0.3 1-0.2 1 0.1 1 0.2 1 0.4 1 0.6 1 0.8 1 1 1 1.2 1 1.4 1 1.5 1 1.7 1 2 1 2 1 1.9 1 1.4 1 0.5 1 0.1 1 0 1 0 1 0 1 0 1 0.1 1 0 1 0.1 1 0.1 1 0 1 0.1 1 0.1 1 0.1 1 0 1 0.1 1 0.1M390.8 61.5l1 0.1 1 0 1 0.1 1 0.2 1 0.1 1 0.2 1 0.2 1 0.2 1 0.1 1 0.1 1 0.1 1-0.4 1-1.8 1-3 1-3.1 1-3 1-2.7 1-2.6 1-2.3 1-2.1 1-1.9 1-1.7 1-1.5 1-1.3 1-1.1 1-0.8 1-0.7 1-0.4 1-0.2 1-0.1 1 0.2 1 0.4 1 0.6 1 0.8 1 1.1 1 1.2 1 1.5 1 1.6 1 1.9 1 2.1 1 2.3 1 2.5 1 2.7 1 2.9 1 3 1 2.8 1 1.2 1 0 1-0.1 1-0.1 1 0 1-0.1 1 0 1 0 1 0 1 0.1 1 0 1 0.1 1 0 1 0 1 0 1 0 1 0 1 0 1 0 1-0.1 1 0 1 0 1-0.1 1 0.1 1 0 1 0 1 0.1 1 0.2 1 0.1 1 0.2 1 0 1-0.5 1-1.7 1-2.2 1-2.2 1-2 1-1.9 1-1.6 1-1.5 1-1.3 1-1.1 1-0.9 1-0.8 1-0.5 1-0.3 1-0.2 1 0.1 1 0.2 1 0.4 1 0.6 1 0.8 1 1 1 1.2 1 1.3 1 1.6 1 1.7 1 2 1 2.1 1 2.2 1 2.3 1 1.7 1 0.8 1 0.2 1 0 1 0 1-0.1 1-0.1 1-0.1 1-0.2 1-0.2 1-0.1 1-0.2 1-0.1 1-0.2 1 0 1-0.1 1 0.1M390.8 62.8l1 0.1 1 0 1 0 1 0.1 1 0.1 1 0 1 0.1 1 0.1 1 0.1 1 0.1 1 0 1-0.6 1-2.2 1-3.1 1-3.2 1-2.9 1-2.8 1-2.5 1-2.3 1-2.2 1-1.9 1-1.7 1-1.5 1-1.2 1-1.1 1-0.9 1-0.6 1-0.5 1-0.2 1 0 1 0.2 1 0.4 1 0.6 1 0.8 1 1 1 1.3 1 1.4 1 1.7 1 1.8 1 2.1 1 2.3 1 2.5 1 2.7 1 2.9 1 3.1 1 3.2 1 2.3 1 0.6 1 0 1-0.2 1-0.2 1-0.2 1-0.3 1-0.2 1-0.2 1-0.2 1-0.2 1-0.1 1-0.1 1-0.1 1 0 1 0 1 0.1 1 0.1 1 0.2 1 0.2 1 0.2 1 0.2 1 0.2 1 0.3 1 0.2 1 0.2 1 0.1 1 0.2 1 0.1 1 0 1 0 1-0.3 1-1.2 1-1.9 1-2.1 1-2 1-1.8 1-1.7 1-1.5 1-1.3 1-1.1 1-0.9 1-0.7 1-0.5 1-0.4 1-0.1 1 0 1 0.2 1 0.4 1 0.6 1 0.8 1 1 1 1.2 1 1.4 1 1.5 1 1.8 1 1.9 1 2.1 1 2.1 1 1.7 1 0.9 1 0.2 1 0 1-0.1 1 0 1-0.1 1-0.1 1-0.1 1-0.1 1 0 1-0.1 1-0.1 1 0 1-0.1 1 0 1 0 1 0.1M390.8 60.8l1 0 1 0 1 0 1 0.1 1 0 1 0.1 1 0 1 0.1 1 0.1 1 0 1 0.1 1-0.3 1-1.6 1-2.9 1-3.1 1-2.9 1-2.8 1-2.5 1-2.3 1-2.2 1-1.9 1-1.7 1-1.5 1-1.3 1-1 1-0.9 1-0.6 1-0.5 1-0.2 1 0 1 0.2 1 0.4 1 0.6 1 0.8 1 1 1 1.3 1 1.4 1 1.7 1 1.8 1 2.1 1 2.3 1 2.5 1 2.7 1 2.9 1 3.1 1 2.9 1 1.9 1 0.6 1 0.2 1 0.2 1 0.2 1 0.2 1 0.2 1 0.2 1 0.2 1 0.2 1 0.1 1 0.2 1 0.1 1 0.1 1 0 1 0 1 0 1-0.1 1-0.1 1-0.1 1-0.2 1-0.2 1-0.2 1-0.1 1-0.2 1-0.2 1-0.2 1-0.2 1-0.1 1-0.2 1-0.3 1-0.8 1-1.7 1-2.2 1-2.2 1-2 1-1.9 1-1.6 1-1.5 1-1.3 1-1.1 1-0.9 1-0.7 1-0.6 1-0.3 1-0.2 1 0.1 1 0.2 1 0.4 1 0.6 1 0.8 1 1 1 1.2 1 1.4 1 1.5 1 1.8 1 1.9 1 2.1 1 2.2 1 2.2 1 1.5 1 0.6 1 0.1 1 0 1-0.1 1 0 1 0 1-0.1 1-0.1 1 0 1-0.1 1 0 1-0.1 1-0.1 1 0 1-0.1 1 0M390.8 62.7l1 0.1 1 0 1-0.1 1-0.1 1-0.2 1-0.3 1-0.2 1-0.3 1-0.3 1-0.2 1-0.3 1-0.3 1-1.2 1-2.5 1-3 1-3 1-2.7 1-2.6 1-2.3 1-2.1 1-1.9 1-1.7 1-1.5 1-1.3 1-1.1 1-0.8 1-0.7 1-0.4 1-0.3 1 0 1 0.2 1 0.4 1 0.6 1 0.8 1 1.1 1 1.2 1 1.5 1 1.6 1 1.9 1 2.1 1 2.3 1 2.5 1 2.7 1 2.9 1 3 1 3 1 2.1 1 1 1 0.5 1 0.5 1 0.4 1 0.5 1 0.4 1 0.3 1 0.2 1 0.2 1 0.1 1 0 1-0.1 1-0.1 1-0.3 1-0.3 1-0.3 1-0.4 1-0.4 1-0.3 1-0.3 1-0.3 1-0.3 1-0.1 1-0.1 1 0 1 0 1 0.1 1 0.1 1 0.1 1-0.2 1-1.1 1-2 1-2.3 1-2.2 1-2.1 1-1.8 1-1.7 1-1.5 1-1.3 1-1.1 1-0.9 1-0.7 1-0.6 1-0.3 1-0.2 1 0.1 1 0.2 1 0.4 1 0.6 1 0.8 1 1 1 1.2 1 1.4 1 1.5 1 1.8 1 1.9 1 2.1 1 2.3 1 2.2 1 1.8 1 0.9 1 0.2 1-0.1 1-0.1 1-0.2 1-0.2 1-0.3 1-0.2 1-0.3 1-0.3 1-0.2 1-0.2 1-0.1 1-0.1 1 0 1 0M390.8 64.9l1-0.2 1-0.2 1-0.2 1-0.3 1-0.2 1-0.3 1-0.2 1-0.2 1-0.2 1 0 1 0 1-0.2 1-1.4 1-2.8 1-3.1 1-3 1-2.7 1-2.6 1-2.3 1-2.1 1-1.9 1-1.7 1-1.5 1-1.3 1-1.1 1-0.8 1-0.7 1-0.4 1-0.3 1 0 1 0.2 1 0.4 1 0.6 1 0.8 1 1.1 1 1.2 1 1.5 1 1.6 1 1.9 1 2.1 1 2.3 1 2.4 1 2.8 1 2.9 1 3.1 1 3.2 1 2.8 1 1.1 1 0.1 1-0.1 1-0.1 1-0.2 1-0.1 1 0 1 0 1 0.1 1 0.1 1 0.1 1 0.3 1 0.2 1 0.2 1 0.3 1 0.2 1 0.2 1 0.1 1 0.1 1 0 1-0.1 1-0.2 1-0.2 1-0.3 1-0.4 1-0.4 1-0.4 1-0.4 1-0.4 1-0.7 1-1.3 1-2.1 1-2.2 1-2.2 1-2.1 1-1.8 1-1.7 1-1.5 1-1.3 1-1.1 1-0.9 1-0.7 1-0.6 1-0.3 1-0.1 1 0 1 0.2 1 0.4 1 0.6 1 0.8 1 1 1 1.2 1 1.4 1 1.5 1 1.8 1 1.9 1 2.1 1 2.3 1 2.2 1 1.9 1 1 1 0.4 1 0.4 1 0.2 1 0.3 1 0.1 1 0.1 1 0.1 1-0.1 1-0.1 1-0.2 1-0.2 1-0.2 1-0.3 1-0.3 1-0.2M390.8 61.6l1 0.1 1 0.1 1 0.1 1 0.1 1 0.1 1 0.1 1 0.1 1 0 1 0.1 1 0 1 0 1-0.4 1-1.6 1-3 1-3.1 1-2.9 1-2.8 1-2.5 1-2.4 1-2.1 1-1.9 1-1.7 1-1.5 1-1.3 1-1 1-0.9 1-0.6 1-0.5 1-0.2 1 0 1 0.2 1 0.4 1 0.6 1 0.8 1 1 1 1.2 1 1.5 1 1.7 1 1.8 1 2.1 1 2.3 1 2.5 1 2.7 1 2.9 1 3.1 1 3.1 1 2.3 1 0.7 1 0.2 1 0.1 1 0.2 1 0.2 1 0.2 1 0.2 1 0.2 1 0.2 1 0.2 1 0.2 1 0.1 1 0.1 1 0.1 1 0.1 1-0.1 1 0 1-0.1 1-0.1 1-0.2 1-0.1 1-0.2 1-0.2 1-0.3 1-0.2 1-0.2 1-0.2 1-0.2 1-0.2 1-0.3 1-0.8 1-1.5 1-2 1-2.1 1-2.1 1-1.8 1-1.7 1-1.5 1-1.3 1-1.1 1-0.9 1-0.7 1-0.5 1-0.4 1-0.1 1 0 1 0.3 1 0.4 1 0.6 1 0.8 1 1 1 1.1 1 1.4 1 1.6 1 1.7 1 1.9 1 2.1 1 2.2 1 1.8 1 1 1 0.2 1 0 1-0.1 1-0.1 1-0.1 1-0.1 1-0.1 1 0 1-0.1 1-0.1 1 0 1 0 1 0 1 0 1 0 1 0.1M390.8 62.1l1 0.2 1 0.2 1 0.2 1 0.2 1 0.2 1 0.1 1 0.2 1 0.1 1 0.2 1 0 1-0.1 1-1 1-2.7 1-3.3 1-3.1 1-3 1-2.7 1-2.6 1-2.3 1-2.1 1-1.9 1-1.7 1-1.5 1-1.3 1-1.1 1-0.8 1-0.7 1-0.4 1-0.3 1 0 1 0.2 1 0.4 1 0.6 1 0.8 1 1.1 1 1.2 1 1.4 1 1.7 1 1.9 1 2.1 1 2.2 1 2.5 1 2.7 1 3 1 3.1 1 3.2 1 2.9 1 1.5 1 0.5 1 0.3 1 0.2 1 0.2 1 0.2 1 0.2 1 0.1 1 0.1 1 0 1 0 1-0.1 1-0.1 1-0.1 1-0.2 1-0.3 1-0.2 1-0.3 1-0.4 1-0.3 1-0.3 1-0.3 1-0.3 1-0.2 1-0.3 1-0.1 1-0.2 1-0.1 1 0 1-0.1 1-0.2 1-0.9 1-1.7 1-2 1-2 1-1.9 1-1.7 1-1.4 1-1.3 1-1.1 1-1 1-0.7 1-0.5 1-0.3 1-0.2 1 0 1 0.3 1 0.4 1 0.6 1 0.8 1 1 1 1.2 1 1.3 1 1.6 1 1.7 1 2 1 2 1 2.1 1 1.7 1 0.6 1 0 1-0.1 1-0.2 1-0.1 1-0.1 1-0.1 1 0 1-0.1 1 0.1 1 0 1 0.1 1 0.1 1 0.1 1 0.1 1 0.2 1 0.2M390.8 62.8l1-0.1 1-0.1 1 0 1 0 1 0 1 0.1 1 0.1 1 0.1 1 0.1 1 0.1 1 0 1-1.3 1-3 1-3.3 1-3.2 1-3 1-2.7 1-2.6 1-2.3 1-2.1 1-1.9 1-1.7 1-1.5 1-1.3 1-1.1 1-0.8 1-0.7 1-0.4 1-0.2 1-0.1 1 0.2 1 0.4 1 0.6 1 0.9 1 1 1 1.2 1 1.5 1 1.6 1 1.9 1 2.1 1 2.3 1 2.5 1 2.7 1 2.9 1 3.1 1 3.3 1 3 1 1.3 1-0.1 1-0.4 1-0.4 1-0.4 1-0.4 1-0.3 1-0.4 1-0.3 1-0.2 1-0.1 1-0.1 1 0 1 0.1 1 0.1 1 0.2 1 0.3 1 0.4 1 0.3 1 0.4 1 0.3 1 0.3 1 0.3 1 0.3 1 0.2 1 0.1 1 0.1 1 0 1 0 1-0.1 1-0.7 1-1.5 1-2.1 1-2.1 1-2 1-1.9 1-1.7 1-1.5 1-1.2 1-1.2 1-0.9 1-0.7 1-0.5 1-0.4 1-0.1 1 0 1 0.3 1 0.4 1 0.6 1 0.8 1 1 1 1.1 1 1.4 1 1.6 1 1.7 1 1.9 1 2.1 1 2.2 1 2 1 1.1 1 0.3 1 0 1 0 1 0 1 0 1 0.1 1 0.1 1 0.2 1 0.1 1 0.2 1 0.1 1 0.1 1 0.1 1 0.1 1 0.1 1 0M390.8 62.3l1 0.1 1 0.1 1 0 1 0.1 1 0.1 1 0.1 1 0.1 1 0.1 1 0.1 1 0.1 1 0.1 1 0 1-0.5 1-1.8 1-2.9 1-2.9 1-2.7 1-2.6 1-2.3 1-2.1 1-1.9 1-1.7 1-1.5 1-1.3 1-1.1 1-0.8 1-0.7 1-0.4 1-0.3 1 0 1 0.2 1 0.4 1 0.6 1 0.8 1 1.1 1 1.2 1 1.4 1 1.7 1 1.9 1 2.1 1 2.2 1 2.5 1 2.7 1 2.9 1 2.6 1 1.4 1 0.3 1-0.1 1-0.2 1-0.2 1-0.2 1-0.2 1-0.3 1-0.2 1-0.3 1-0.2 1-0.3 1-0.2 1-0.1 1-0.1 1-0.1 1 0 1 0.1 1 0.1 1 0.2 1 0.2 1 0.2 1 0.3 1 0.2 1 0.3 1 0.2 1 0.2 1 0.2 1 0.2 1 0.1 1 0.1 1 0.1 1 0 1-0.2 1-0.8 1-1.5 1-1.8 1-1.8 1-1.7 1-1.4 1-1.3 1-1.1 1-0.9 1-0.8 1-0.5 1-0.3 1-0.2 1 0 1 0.3 1 0.4 1 0.6 1 0.8 1 1 1 1.2 1 1.3 1 1.6 1 1.7 1 1.9 1 2 1 1.7 1 1 1 0.3 1 0 1-0.1 1-0.1 1-0.1 1-0.1 1-0.1 1 0 1-0.1 1-0.1 1-0.1 1-0.1 1 0 1-0.1 1 0 1 0 1-0.1M390.8 63.4l1 0.5 1 0.3 1 0.4 1 0.1 1 0.1 1 0 1-0.2 1-0.3 1-0.4 1-0.4 1-0.4 1-0.4 1-0.4 1-0.8 1-1.7 1-2.7 1-2.6 1-2.6 1-2.3 1-2.1 1-1.9 1-1.7 1-1.5 1-1.3 1-1.1 1-0.8 1-0.7 1-0.4 1-0.3 1 0 1 0.2 1 0.4 1 0.6 1 0.8 1 1.1 1 1.2 1 1.4 1 1.7 1 1.9 1 2.1 1 2.2 1 2.5 1 2.7 1 2.9 1 2.8 1 1.7 1 0.2 1-0.3 1-0.5 1-0.6 1-0.5 1-0.6 1-0.5 1-0.4 1-0.3 1-0.1 1 0 1 0.1 1 0.3 1 0.4 1 0.4 1 0.4 1 0.4 1 0.3 1 0.3 1 0.1 1 0 1-0.1 1-0.2 1-0.2 1-0.3 1-0.2 1-0.2 1-0.2 1 0 1 0.1 1 0.2 1 0.3 1 0.3 1 0.1 1-0.5 1-1.4 1-1.6 1-1.7 1-1.4 1-1.3 1-1.1 1-0.9 1-0.8 1-0.5 1-0.3 1-0.2 1 0 1 0.3 1 0.4 1 0.6 1 0.8 1 1 1 1.1 1 1.4 1 1.5 1 1.7 1 1.8 1 1.6 1 1.1 1 0.4 1 0 1-0.2 1-0.3 1-0.4 1-0.4 1-0.4 1-0.4 1-0.3 1-0.2 1 0 1 0.1 1 0.2 1 0.3 1 0.4 1 0.4 1 0.4 1 0.4"/></defs><use href="#tr1" stroke="#2f5ee8" stroke-width="1.1" fill="none" opacity="0.25" filter="url(#gl)"/><use href="#tr1" stroke="#b4dcff" stroke-width="0.55" fill="none" opacity="0.55"/><path d="M403.3 60.4l1-3.5 1-3.2 1-3.1 1-2.9 1-2.6 1-2.4 1-2.2 1-2.1 1-1.8 1-1.5 1-1.4 1-1.2 1-1 1-0.7 1-0.5 1-0.4 1-0.1 1 0.1 1 0.3 1 0.5 1 0.7 1 1 1 1.1 1 1.3 1 1.6 1 1.8 1 2 1 2.1 1 2.4 1 2.7 1 2.8 1 3 1 3.2 1 3.5M469 60.4l1-2.6 1-2.4 1-2.2 1-2 1-1.8 1-1.7 1-1.4 1-1.3 1-1 1-0.9 1-0.7 1-0.5 1-0.3 1-0.1 1 0.1 1 0.2 1 0.5 1 0.6 1 0.9 1 1 1 1.2 1 1.4 1 1.6 1 1.8 1 2 1 2.1 1 2.4 1 2.5" stroke="#c8f0ff" stroke-width="0.7" fill="none" opacity="0.8"/><rect x="451.8" y="62.9" width="1" height="0.8" fill="#ffff40" opacity="0.5"/><rect x="456.4" y="64.1" width="1" height="0.8" fill="#40e0ff" opacity="0.5"/><rect x="505.2" y="61.9" width="1" height="0.8" fill="#40e0ff" opacity="0.5"/><rect x="511.8" y="62.9" width="1" height="0.8" fill="#ffff40" opacity="0.5"/><rect x="399.4" y="62.4" width="1" height="0.8" fill="#60ffc0" opacity="0.5"/><rect x="445.8" y="62.2" width="1" height="0.8" fill="#40e0ff" opacity="0.5"/><rect x="456.3" y="62.5" width="1" height="0.8" fill="#9fff60" opacity="0.5"/><rect x="501.2" y="62.6" width="1" height="0.8" fill="#9fff60" opacity="0.5"/><rect x="461.2" y="62.4" width="1" height="0.8" fill="#60ffc0" opacity="0.5"/><rect x="442" y="61.9" width="1" height="0.8" fill="#40e0ff" opacity="0.5"/><rect x="455.8" y="61.5" width="1" height="0.8" fill="#ffff40" opacity="0.5"/><rect x="452" y="62.5" width="1" height="0.8" fill="#9fff60" opacity="0.5"/><rect x="462.4" y="63.1" width="1" height="0.8" fill="#40e0ff" opacity="0.5"/><rect x="509.8" y="62.9" width="1" height="0.8" fill="#60ffc0" opacity="0.5"/><rect x="394.6" y="62" width="1" height="0.8" fill="#ffff40" opacity="0.5"/><rect x="460.9" y="63.5" width="1" height="0.8" fill="#9fff60" opacity="0.5"/><rect x="462.7" y="61.8" width="1" height="0.8" fill="#9fff60" opacity="0.5"/><rect x="459" y="59.8" width="1" height="0.8" fill="#60ffc0" opacity="0.5"/><rect x="503.7" y="61.2" width="1" height="0.8" fill="#40e0ff" opacity="0.5"/><rect x="394.3" y="61.2" width="1" height="0.8" fill="#60ffc0" opacity="0.5"/><rect x="393.8" y="62" width="1" height="0.8" fill="#9fff60" opacity="0.5"/><rect x="397.7" y="62.7" width="1" height="0.8" fill="#40e0ff" opacity="0.5"/></g><rect x="520.7" y="10.8" width="6.8" height="110.3" fill="url(#jet)"/><text x="460.9" y="7" textLength="79.5" lengthAdjust="spacingAndGlyphs" style="font-family:'Liberation Sans', sans-serif;font-size:8.0px;fill:#222;stroke:#222;stroke-width:0.2px;font-weight:bold;font-size:8.4px;fill:#111;stroke:none;" text-anchor="middle">Persistence spectrum</text><text transform="translate(388.4 14.3) scale(1.0 1)" style="font-family:'Liberation Sans', sans-serif;font-size:8.0px;fill:#222;stroke:#222;stroke-width:0.2px;font-size:8.1px;" text-anchor="end">0</text><text transform="translate(389.5 69.8) scale(1.0 1)" style="font-family:'Liberation Sans', sans-serif;font-size:8.0px;fill:#222;stroke:#222;stroke-width:0.2px;font-size:8.1px;" text-anchor="end">-50</text><text transform="translate(389.8 122.2) scale(1.0 1)" style="font-family:'Liberation Sans', sans-serif;font-size:8.0px;fill:#222;stroke:#222;stroke-width:0.2px;font-size:8.1px;" text-anchor="end">-100</text><text transform="translate(391.6 129.3) scale(1.0 1)" style="font-family:'Liberation Sans', sans-serif;font-size:8.0px;fill:#222;stroke:#222;stroke-width:0.2px;font-size:8.1px;" text-anchor="middle">0</text><text transform="translate(422.2 129.3) scale(1.0 1)" style="font-family:'Liberation Sans', sans-serif;font-size:8.0px;fill:#222;stroke:#222;stroke-width:0.2px;font-size:8.1px;" text-anchor="middle">50</text><text transform="translate(452.8 129.3) scale(1.0 1)" style="font-family:'Liberation Sans', sans-serif;font-size:8.0px;fill:#222;stroke:#222;stroke-width:0.2px;font-size:8.1px;" text-anchor="middle">100</text><text transform="translate(483.5 129.3) scale(1.0 1)" style="font-family:'Liberation Sans', sans-serif;font-size:8.0px;fill:#222;stroke:#222;stroke-width:0.2px;font-size:8.1px;" text-anchor="middle">150</text><text transform="translate(514.1 129.3) scale(1.0 1)" style="font-family:'Liberation Sans', sans-serif;font-size:8.0px;fill:#222;stroke:#222;stroke-width:0.2px;font-size:8.1px;" text-anchor="middle">200</text><text transform="translate(457.6 136.4) scale(0.955 1)" style="font-family:'Liberation Sans', sans-serif;font-size:8.0px;fill:#222;stroke:#222;stroke-width:0.2px;" text-anchor="middle">Frequency (Hz)</text><text transform="translate(459.1 146.8) scale(0.955 1)" style="font-family:'Liberation Sans', sans-serif;font-size:8.0px;fill:#222;stroke:#222;stroke-width:0.2px;fill:#5a5ac8;stroke:#5a5ac8;stroke-width:0.12px;" text-anchor="middle">Signal with AWGN (SNR = 10)</text><text transform="translate(376.8 62.6) rotate(-90) scale(0.955 1)" style="font-family:'Liberation Sans', sans-serif;font-size:8.0px;fill:#222;stroke:#222;stroke-width:0.2px;" text-anchor="middle">Power spectrum (dB)</text><text transform="translate(529.4 28.5) scale(1.0 1)" style="font-family:'Liberation Sans', sans-serif;font-size:8.0px;fill:#222;stroke:#222;stroke-width:0.2px;font-size:8.1px;">25</text><text transform="translate(529.4 69.4) scale(1.0 1)" style="font-family:'Liberation Sans', sans-serif;font-size:8.0px;fill:#222;stroke:#222;stroke-width:0.2px;font-size:8.1px;">15</text><text transform="translate(529.4 106.4) scale(1.0 1)" style="font-family:'Liberation Sans', sans-serif;font-size:8.0px;fill:#222;stroke:#222;stroke-width:0.2px;font-size:8.1px;">5</text><text transform="translate(546.7 66.3) rotate(-90) scale(0.955 1)" style="font-family:'Liberation Sans', sans-serif;font-size:8.0px;fill:#222;stroke:#222;stroke-width:0.2px;" text-anchor="middle">Density(%)</text><clipPath id="pc2"><rect x="210.5" y="165" width="122.5" height="110.1"/></clipPath><rect x="210.5" y="165" width="122.5" height="110.1" fill="#000084"/><g clip-path="url(#pc2)"><defs><path id="tr2" d="M210.5 220.2l1 0.1 1 0 1-0.1 1 0 1 0 1-0.1 1 0 1-0.1 1-0.1 1-0.1 1 0 1-0.2 1-0.8 1-2.4 1-3.2 1-3.1 1-2.9 1-2.7 1-2.5 1-2.3 1-2.1 1-1.8 1-1.7 1-1.5 1-1.2 1-1 1-0.8 1-0.7 1-0.4 1-0.1 1 0 1 0.2 1 0.5 1 0.6 1 0.9 1 1 1 1.3 1 1.5 1 1.7 1 1.9 1 2.1 1 2.4 1 2.5 1 2.8 1 2.9 1 3.1 1 3.1 1 1.9 1 0.4 1 0 1 0 1 0 1 0 1-0.1 1 0 1 0 1-0.1 1 0 1-0.1 1 0 1 0 1 0 1-0.1 1 0 1 0 1 0.1 1 0 1 0 1 0 1 0.1 1 0 1 0.1 1 0.1 1 0 1 0.1 1-0.2 1-1 1-2 1-2.3 1-2.2 1-2.1 1-1.9 1-1.7 1-1.5 1-1.4 1-1.2 1-1 1-0.9 1-0.6 1-0.5 1-0.4 1-0.1 1 0 1 0.2 1 0.4 1 0.6 1 0.7 1 1 1 1 1 1.3 1 1.5 1 1.6 1 1.8 1 1.9 1 2.2 1 2.2 1 2.3 1 1.8 1 0.8 1 0.3 1 0.1 1 0.1 1 0 1 0.1 1 0 1 0 1 0.1 1-0.1 1 0 1 0 1-0.1 1 0 1-0.1M210.5 220.8l1 0.2 1 0.1 1 0.1 1 0.1 1 0 1 0 1-0.1 1-0.1 1-0.1 1-0.2 1-0.3 1-1.3 1-3 1-3.5 1-3.3 1-3.1 1-2.9 1-2.7 1-2.5 1-2.3 1-2.1 1-1.9 1-1.6 1-1.5 1-1.2 1-1.1 1-0.8 1-0.6 1-0.4 1-0.2 1 0 1 0.3 1 0.4 1 0.7 1 0.8 1 1.1 1 1.3 1 1.5 1 1.7 1 1.9 1 2.1 1 2.3 1 2.6 1 2.7 1 3 1 3.2 1 3.3 1 3.3 1 2 1 0.1 1-0.5 1-0.7 1-0.6 1-0.7 1-0.6 1-0.7 1-0.5 1-0.5 1-0.3 1-0.2 1 0 1 0.1 1 0.3 1 0.4 1 0.5 1 0.5 1 0.7 1 0.6 1 0.6 1 0.6 1 0.5 1 0.5 1 0.4 1 0.2 1 0.2 1-0.1 1-0.9 1-1.9 1-2.3 1-2.2 1-2.1 1-1.9 1-1.7 1-1.6 1-1.3 1-1.2 1-1 1-0.9 1-0.7 1-0.4 1-0.4 1-0.1 1 0 1 0.2 1 0.4 1 0.6 1 0.7 1 0.9 1 1.1 1 1.3 1 1.4 1 1.7 1 1.8 1 1.9 1 2.2 1 2.2 1 2.3 1 1.8 1 1 1 0.4 1 0.1 1 0.2 1 0.1 1 0.1 1 0 1 0 1-0.1 1-0.1 1-0.1 1-0.1 1-0.2 1-0.1 1-0.2M210.5 220.7l1-0.1 1 0 1 0.1 1 0.1 1 0.2 1 0.2 1 0.3 1 0.2 1 0.3 1 0.3 1 0.1 1-0.3 1-2.3 1-3.3 1-3.3 1-3.1 1-3 1-2.7 1-2.5 1-2.3 1-2 1-1.9 1-1.7 1-1.4 1-1.3 1-1 1-0.8 1-0.6 1-0.4 1-0.2 1 0 1 0.3 1 0.4 1 0.6 1 0.9 1 1.1 1 1.3 1 1.5 1 1.7 1 1.9 1 2.1 1 2.3 1 2.6 1 2.7 1 3 1 3.1 1 3.3 1 2.6 1 0.4 1-0.6 1-0.8 1-0.8 1-0.8 1-0.8 1-0.7 1-0.6 1-0.6 1-0.4 1-0.2 1-0.1 1 0.1 1 0.2 1 0.4 1 0.6 1 0.6 1 0.7 1 0.8 1 0.7 1 0.8 1 0.7 1 0.6 1 0.5 1 0.5 1 0.3 1-0.1 1-1 1-2.2 1-2.5 1-2.4 1-2.2 1-2.1 1-1.9 1-1.7 1-1.6 1-1.3 1-1.2 1-1 1-0.9 1-0.7 1-0.4 1-0.4 1-0.1 1 0 1 0.2 1 0.4 1 0.6 1 0.7 1 0.9 1 1.1 1 1.3 1 1.4 1 1.7 1 1.8 1 1.9 1 2.2 1 2.3 1 2.5 1 2.4 1 1.7 1 0.5 1-0.1 1-0.2 1-0.1 1-0.1 1 0 1 0.1 1 0.1 1 0.1 1 0.2 1 0.3 1 0.2 1 0.3 1 0.3M210.5 221.1l1 0 1-0.1 1 0 1 0 1-0.1 1 0 1-0.1 1-0.1 1-0.1 1-0.1 1-0.2 1-1 1-2.8 1-3.4 1-3.3 1-3.1 1-3 1-2.7 1-2.5 1-2.3 1-2 1-1.9 1-1.7 1-1.4 1-1.3 1-1 1-0.8 1-0.6 1-0.4 1-0.2 1 0 1 0.3 1 0.4 1 0.6 1 0.9 1 1.1 1 1.3 1 1.4 1 1.7 1 2 1 2.1 1 2.3 1 2.6 1 2.7 1 3 1 3.1 1 3.4 1 3.5 1 2.9 1 1.2 1 0.2 1 0.1 1 0.1 1 0 1 0.1 1 0.1 1 0 1 0.1 1 0 1 0 1-0.1 1 0 1-0.1 1-0.1 1-0.1 1-0.1 1-0.1 1-0.2 1-0.1 1-0.1 1-0.1 1 0 1-0.1 1-0.1 1-0.2 1-1.1 1-2 1-2.5 1-2.4 1-2.2 1-2.1 1-1.9 1-1.7 1-1.6 1-1.4 1-1.2 1-1 1-0.8 1-0.7 1-0.5 1-0.3 1-0.1 1 0 1 0.2 1 0.4 1 0.6 1 0.7 1 0.9 1 1.1 1 1.3 1 1.4 1 1.6 1 1.8 1 2 1 2.1 1 2.3 1 2.4 1 2.2 1 1.3 1 0.4 1 0.1 1 0.1 1 0.1 1 0 1 0.1 1 0.1 1 0.1 1 0.1 1 0.1 1 0.1 1 0.1 1 0 1 0.1M210.5 220l1 0 1 0 1 0.1 1 0.1 1 0.1 1 0.2 1 0.2 1 0.2 1 0.2 1 0.1 1-0.2 1-1.8 1-3.4 1-3.5 1-3.3 1-3.1 1-3 1-2.7 1-2.5 1-2.3 1-2 1-1.9 1-1.7 1-1.4 1-1.3 1-1 1-0.8 1-0.6 1-0.4 1-0.2 1 0 1 0.2 1 0.5 1 0.6 1 0.9 1 1.1 1 1.3 1 1.4 1 1.7 1 2 1 2.1 1 2.3 1 2.5 1 2.8 1 3 1 3.1 1 3.4 1 3.5 1 3 1 1.3 1 0.1 1 0.1 1 0.1 1 0.2 1 0.2 1 0.3 1 0.3 1 0.2 1 0.3 1 0.2 1 0.3 1 0.1 1 0.1 1 0.1 1-0.1 1-0.1 1-0.1 1-0.2 1-0.3 1-0.3 1-0.3 1-0.3 1-0.4 1-0.3 1-0.3 1-0.5 1-0.9 1-1.8 1-2.1 1-2.2 1-2.1 1-1.9 1-1.7 1-1.6 1-1.3 1-1.2 1-1.1 1-0.8 1-0.7 1-0.5 1-0.3 1-0.1 1 0 1 0.2 1 0.4 1 0.6 1 0.7 1 0.9 1 1.1 1 1.3 1 1.4 1 1.7 1 1.7 1 2 1 2.1 1 2.2 1 2 1 1.4 1 0.5 1 0.3 1 0.2 1 0.2 1 0.2 1 0.2 1 0.1 1 0.2 1 0.1 1 0 1 0 1-0.1 1-0.1 1-0.1 1-0.2M210.5 222.4l1 0.1 1 0 1-0.1 1-0.2 1-0.2 1-0.3 1-0.2 1-0.3 1-0.2 1-0.2 1-0.2 1-0.4 1-1.5 1-3 1-3.3 1-3.1 1-3 1-2.7 1-2.5 1-2.3 1-2 1-1.9 1-1.7 1-1.4 1-1.3 1-1 1-0.8 1-0.6 1-0.4 1-0.2 1 0 1 0.3 1 0.4 1 0.6 1 0.9 1 1.1 1 1.3 1 1.5 1 1.7 1 1.9 1 2.1 1 2.3 1 2.6 1 2.7 1 3 1 3.1 1 3.4 1 3.4 1 2.3 1 0.5 1 0 1-0.1 1-0.1 1-0.1 1-0.1 1 0 1 0.1 1 0.1 1 0.2 1 0.2 1 0.2 1 0.3 1 0.2 1 0.2 1 0.1 1 0.1 1 0 1-0.1 1-0.1 1-0.3 1-0.3 1-0.3 1-0.4 1-0.5 1-0.7 1-1.6 1-2.3 1-2.4 1-2.4 1-2.3 1-2.1 1-1.9 1-1.7 1-1.5 1-1.4 1-1.2 1-1 1-0.9 1-0.6 1-0.5 1-0.3 1-0.2 1 0 1 0.3 1 0.3 1 0.6 1 0.7 1 1 1 1.1 1 1.2 1 1.5 1 1.6 1 1.8 1 1.9 1 2.2 1 2.3 1 2.5 1 2.5 1 2.1 1 1.3 1 0.4 1 0.2 1 0.1 1 0 1-0.1 1-0.2 1-0.2 1-0.2 1-0.3 1-0.3 1-0.2 1-0.2 1-0.2M210.5 220.3l1-0.1 1 0 1-0.1 1-0.1 1-0.1 1-0.1 1-0.1 1-0.1 1-0.1 1-0.1 1-0.1 1-0.3 1-1.2 1-2.8 1-3.2 1-3.1 1-2.9 1-2.7 1-2.5 1-2.3 1-2.1 1-1.8 1-1.7 1-1.5 1-1.2 1-1 1-0.8 1-0.7 1-0.4 1-0.1 1 0 1 0.2 1 0.5 1 0.6 1 0.9 1 1 1 1.3 1 1.5 1 1.7 1 1.9 1 2.1 1 2.4 1 2.5 1 2.8 1 2.9 1 3.2 1 3.2 1 2.8 1 1.2 1 0.3 1 0.1 1 0.2 1 0.2 1 0.2 1 0.2 1 0.2 1 0.2 1 0.2 1 0.2 1 0.1 1 0.2 1 0.1 1 0 1 0 1 0 1-0.1 1 0 1-0.2 1-0.1 1-0.1 1-0.2 1-0.2 1-0.2 1-0.2 1-0.3 1-0.7 1-1.7 1-2.3 1-2.3 1-2.2 1-2.1 1-1.9 1-1.7 1-1.6 1-1.4 1-1.2 1-1 1-0.8 1-0.7 1-0.5 1-0.3 1-0.1 1 0 1 0.2 1 0.4 1 0.6 1 0.7 1 0.9 1 1.1 1 1.3 1 1.4 1 1.6 1 1.8 1 2 1 2.1 1 2.3 1 2.4 1 2 1 1.1 1 0.3 1 0 1 0 1-0.1 1-0.1 1-0.1 1-0.1 1-0.1 1-0.1 1-0.1 1-0.1 1-0.1 1-0.1 1-0.1M210.5 222.3l1 0 1-0.1 1 0 1 0.1 1 0 1 0.1 1 0.1 1 0.1 1 0.1 1 0.1 1-0.3 1-2.1 1-3.4 1-3.5 1-3.4 1-3.1 1-2.9 1-2.7 1-2.5 1-2.3 1-2.1 1-1.9 1-1.6 1-1.5 1-1.2 1-1 1-0.9 1-0.6 1-0.4 1-0.2 1 0.1 1 0.2 1 0.4 1 0.7 1 0.9 1 1 1 1.3 1 1.5 1 1.7 1 1.9 1 2.1 1 2.4 1 2.5 1 2.8 1 2.9 1 3.2 1 3.4 1 3.5 1 3.4 1 2.1 1 0.6 1 0.3 1 0.3 1 0.3 1 0.3 1 0.2 1 0.3 1 0.2 1 0.1 1 0.1 1 0 1 0 1 0 1-0.1 1-0.2 1-0.2 1-0.2 1-0.3 1-0.3 1-0.3 1-0.2 1-0.3 1-0.3 1-0.4 1-0.9 1-2 1-2.5 1-2.6 1-2.4 1-2.2 1-2.1 1-1.9 1-1.7 1-1.6 1-1.3 1-1.2 1-1.1 1-0.8 1-0.7 1-0.5 1-0.3 1-0.1 1 0 1 0.2 1 0.4 1 0.6 1 0.7 1 0.9 1 1.1 1 1.3 1 1.4 1 1.6 1 1.8 1 2 1 2.2 1 2.3 1 2.5 1 2.6 1 2.4 1 1.5 1 0.3 1 0 1-0.1 1-0.2 1-0.1 1-0.1 1-0.1 1 0 1-0.1 1 0 1-0.1 1 0 1 0.1M210.5 223.2l1 0.2 1 0.2 1 0.1 1 0.1 1 0 1 0 1 0 1-0.1 1-0.1 1-0.2 1-0.3 1-1 1-2.6 1-3.4 1-3.3 1-3.1 1-2.9 1-2.7 1-2.5 1-2.3 1-2.1 1-1.9 1-1.6 1-1.5 1-1.2 1-1 1-0.9 1-0.6 1-0.4 1-0.2 1 0.1 1 0.2 1 0.4 1 0.7 1 0.8 1 1.1 1 1.3 1 1.5 1 1.7 1 1.9 1 2.1 1 2.3 1 2.6 1 2.7 1 3 1 3.2 1 3.2 1 2.7 1 0.7 1-0.2 1-0.3 1-0.2 1-0.3 1-0.3 1-0.2 1-0.2 1-0.2 1-0.1 1-0.1 1 0 1 0 1 0.1 1 0.1 1 0.2 1 0.2 1 0.2 1 0.3 1 0.2 1 0.2 1 0.3 1 0.2 1 0.2 1 0.3 1 0.2 1 0.1 1 0 1-0.8 1-1.8 1-2.3 1-2.2 1-2.1 1-1.9 1-1.7 1-1.5 1-1.4 1-1.2 1-1 1-0.9 1-0.7 1-0.4 1-0.4 1-0.1 1 0 1 0.2 1 0.4 1 0.6 1 0.7 1 0.9 1 1.1 1 1.3 1 1.4 1 1.7 1 1.8 1 1.9 1 2.2 1 2.2 1 2.3 1 1.9 1 1.1 1 0.4 1 0.2 1 0.2 1 0.2 1 0.2 1 0.2 1 0.1 1 0.1 1 0.1 1 0 1 0 1-0.1 1-0.1 1-0.1M210.5 223.1l1-0.1 1-0.1 1-0.1 1 0 1-0.1 1-0.1 1 0 1 0 1-0.1 1 0 1-0.4 1-1.9 1-3.4 1-3.5 1-3.4 1-3.1 1-2.9 1-2.7 1-2.5 1-2.3 1-2.1 1-1.9 1-1.6 1-1.5 1-1.2 1-1 1-0.9 1-0.6 1-0.4 1-0.1 1 0 1 0.2 1 0.4 1 0.7 1 0.9 1 1 1 1.3 1 1.5 1 1.7 1 1.9 1 2.1 1 2.4 1 2.5 1 2.8 1 2.9 1 3.2 1 3.4 1 3.5 1 3.4 1 1.9 1 0.5 1 0.2 1 0.2 1 0.2 1 0.2 1 0.2 1 0.2 1 0.1 1 0.2 1 0.1 1 0 1 0 1 0 1 0 1-0.1 1-0.1 1-0.2 1-0.1 1-0.2 1-0.2 1-0.2 1-0.2 1-0.2 1-0.3 1-0.8 1-1.8 1-2.5 1-2.5 1-2.5 1-2.2 1-2.1 1-1.9 1-1.7 1-1.6 1-1.3 1-1.2 1-1.1 1-0.8 1-0.7 1-0.5 1-0.3 1-0.1 1 0 1 0.2 1 0.4 1 0.6 1 0.7 1 0.9 1 1.1 1 1.3 1 1.4 1 1.7 1 1.8 1 1.9 1 2.2 1 2.3 1 2.5 1 2.5 1 2.3 1 1.2 1 0.3 1 0 1-0.1 1-0.1 1 0 1 0 1-0.1 1 0 1 0 1 0.1 1 0 1 0 1 0.1M210.5 222.9l1-0.4 1-0.3 1-0.2 1-0.1 1 0.1 1 0.2 1 0.4 1 0.4 1 0.4 1 0.4 1 0 1-1.8 1-3.5 1-3.5 1-3.3 1-3.1 1-3 1-2.7 1-2.5 1-2.3 1-2 1-1.9 1-1.7 1-1.4 1-1.3 1-1 1-0.8 1-0.6 1-0.4 1-0.2 1 0 1 0.3 1 0.4 1 0.6 1 0.9 1 1.1 1 1.3 1 1.4 1 1.7 1 2 1 2.1 1 2.3 1 2.6 1 2.7 1 3 1 3.1 1 3.4 1 3.5 1 3 1 1.3 1 0.3 1-0.1 1-0.2 1-0.4 1-0.5 1-0.5 1-0.6 1-0.5 1-0.5 1-0.3 1-0.1 1 0 1 0.2 1 0.3 1 0.5 1 0.5 1 0.6 1 0.6 1 0.5 1 0.3 1 0.2 1 0.1 1-0.1 1-0.3 1-0.6 1-1.5 1-2.1 1-2.5 1-2.4 1-2.2 1-2.1 1-1.9 1-1.7 1-1.6 1-1.3 1-1.2 1-1.1 1-0.8 1-0.7 1-0.5 1-0.3 1-0.1 1 0 1 0.2 1 0.4 1 0.6 1 0.7 1 0.9 1 1.1 1 1.3 1 1.4 1 1.6 1 1.8 1 2 1 2.2 1 2.3 1 2.5 1 2.5 1 2.4 1 1.4 1 0.2 1-0.2 1-0.4 1-0.4 1-0.5 1-0.4 1-0.3 1-0.2 1-0.1 1 0.1 1 0.2 1 0.3 1 0.4M210.5 221.1l1 0 1 0.1 1 0 1 0 1 0 1-0.1 1 0 1-0.1 1-0.2 1-0.1 1-0.3 1-1.1 1-2.8 1-3.4 1-3.3 1-3.1 1-3 1-2.7 1-2.5 1-2.3 1-2 1-1.9 1-1.7 1-1.4 1-1.2 1-1.1 1-0.8 1-0.6 1-0.4 1-0.2 1 0 1 0.3 1 0.4 1 0.7 1 0.8 1 1.1 1 1.3 1 1.5 1 1.7 1 1.9 1 2.1 1 2.3 1 2.6 1 2.7 1 3 1 3.1 1 3.4 1 3.3 1 2 1 0.4 1 0 1 0 1 0 1 0 1 0 1 0.1 1 0 1 0.1 1 0.1 1 0.1 1 0 1 0.1 1 0.1 1 0.1 1 0 1 0.1 1 0 1 0 1 0 1-0.1 1 0 1-0.1 1 0 1-0.1 1-0.1 1-0.2 1-0.8 1-1.6 1-2.2 1-2.2 1-2.1 1-1.9 1-1.7 1-1.5 1-1.4 1-1.2 1-1 1-0.9 1-0.6 1-0.5 1-0.3 1-0.2 1 0.1 1 0.2 1 0.4 1 0.5 1 0.8 1 0.9 1 1.1 1 1.2 1 1.5 1 1.6 1 1.8 1 2 1 2.1 1 2.2 1 2.1 1 1.3 1 0.4 1 0.1 1 0 1 0.1 1 0 1 0.1 1 0.2 1 0.1 1 0.1 1 0.1 1 0.2 1 0.1 1 0.1 1 0.1 1 0.1M210.5 220.1l1 0 1 0 1-0.1 1 0 1-0.1 1 0 1-0.1 1 0 1-0.1 1 0 1-0.1 1-0.2 1-1.1 1-2.8 1-3.2 1-3.2 1-2.9 1-2.7 1-2.5 1-2.3 1-2 1-1.9 1-1.7 1-1.4 1-1.3 1-1 1-0.8 1-0.6 1-0.4 1-0.2 1 0 1 0.2 1 0.5 1 0.6 1 0.9 1 1.1 1 1.2 1 1.5 1 1.7 1 1.9 1 2.2 1 2.3 1 2.5 1 2.8 1 3 1 3.1 1 3.2 1 2.6 1 0.8 1 0.1 1 0 1 0 1 0 1 0 1 0 1 0.1 1 0 1 0.1 1 0 1 0.1 1 0 1 0.1 1 0 1 0.1 1 0 1 0 1 0.1 1 0 1 0 1 0 1 0 1 0 1-0.1 1 0 1-0.2 1-0.7 1-1.8 1-2.3 1-2.4 1-2.2 1-2.1 1-1.9 1-1.7 1-1.6 1-1.3 1-1.2 1-1.1 1-0.8 1-0.7 1-0.5 1-0.3 1-0.1 1 0 1 0.2 1 0.4 1 0.6 1 0.7 1 0.9 1 1.1 1 1.3 1 1.4 1 1.6 1 1.8 1 2 1 2.2 1 2.3 1 2.4 1 2.2 1 1.4 1 0.4 1 0 1 0 1-0.1 1 0 1-0.1 1 0 1-0.1 1 0 1-0.1 1 0 1 0 1-0.1 1 0M210.5 220.2l1-0.1 1-0.1 1-0.1 1-0.1 1-0.1 1 0 1-0.1 1-0.1 1 0 1 0 1-0.1 1-0.6 1-2.4 1-3.4 1-3.3 1-3.1 1-2.9 1-2.7 1-2.5 1-2.3 1-2.1 1-1.9 1-1.6 1-1.5 1-1.2 1-1.1 1-0.8 1-0.6 1-0.4 1-0.2 1 0 1 0.3 1 0.4 1 0.7 1 0.8 1 1.1 1 1.3 1 1.5 1 1.7 1 1.9 1 2.1 1 2.3 1 2.6 1 2.7 1 3 1 3.2 1 3.3 1 3.2 1 1.8 1 0.3 1-0.2 1-0.1 1-0.2 1-0.3 1-0.2 1-0.2 1-0.3 1-0.2 1-0.2 1-0.2 1-0.1 1-0.1 1 0 1 0 1 0.1 1 0.1 1 0.2 1 0.2 1 0.2 1 0.3 1 0.2 1 0.3 1 0.3 1 0.2 1 0.2 1-0.3 1-1.5 1-2.2 1-2.4 1-2.2 1-2.1 1-1.9 1-1.7 1-1.6 1-1.4 1-1.2 1-1 1-0.8 1-0.7 1-0.5 1-0.3 1-0.1 1 0 1 0.2 1 0.4 1 0.6 1 0.7 1 0.9 1 1.1 1 1.3 1 1.4 1 1.6 1 1.8 1 2 1 2.1 1 2.3 1 2.4 1 2.3 1 1.4 1 0.6 1 0.1 1 0.1 1 0 1 0 1 0 1 0 1 0 1-0.1 1-0.1 1-0.1 1-0.1 1-0.1 1-0.1M210.5 222l1 0 1 0 1-0.1 1 0 1-0.1 1-0.1 1-0.1 1-0.1 1-0.1 1-0.1 1-0.2 1-0.6 1-2.1 1-3.3 1-3.3 1-3.1 1-2.9 1-2.7 1-2.5 1-2.3 1-2.1 1-1.9 1-1.6 1-1.5 1-1.2 1-1.1 1-0.8 1-0.6 1-0.4 1-0.2 1 0 1 0.3 1 0.4 1 0.7 1 0.8 1 1.1 1 1.3 1 1.5 1 1.7 1 1.9 1 2.1 1 2.3 1 2.6 1 2.7 1 3 1 3.1 1 3.3 1 2.5 1 0.5 1-0.3 1-0.5 1-0.5 1-0.5 1-0.4 1-0.5 1-0.4 1-0.3 1-0.3 1-0.2 1-0.1 1 0.1 1 0.1 1 0.2 1 0.3 1 0.4 1 0.4 1 0.5 1 0.5 1 0.5 1 0.5 1 0.4 1 0.4 1 0.4 1 0.3 1 0.1 1-0.4 1-1.6 1-2.3 1-2.3 1-2.3 1-2.1 1-1.9 1-1.7 1-1.5 1-1.4 1-1.2 1-1 1-0.9 1-0.6 1-0.5 1-0.3 1-0.2 1 0.1 1 0.2 1 0.3 1 0.6 1 0.8 1 0.9 1 1.1 1 1.2 1 1.5 1 1.6 1 1.8 1 2 1 2.1 1 2.3 1 2.4 1 2.4 1 1.6 1 0.5 1 0.1 1-0.1 1 0 1 0 1 0 1 0 1 0 1 0.1 1 0.1 1 0.1 1 0 1 0.1 1 0.1M210.5 219.2l1 0 1 0.1 1 0.1 1 0.1 1 0.1 1 0.1 1 0.2 1 0.1 1 0.2 1 0.1 1 0.1 1-0.1 1-1.1 1-2.7 1-3.2 1-3.1 1-2.9 1-2.8 1-2.5 1-2.2 1-2.1 1-1.9 1-1.6 1-1.5 1-1.2 1-1.1 1-0.8 1-0.6 1-0.4 1-0.2 1 0 1 0.3 1 0.4 1 0.7 1 0.8 1 1.1 1 1.3 1 1.5 1 1.7 1 1.9 1 2.1 1 2.3 1 2.6 1 2.7 1 3 1 3.1 1 3.1 1 2.1 1 0.2 1-0.2 1-0.2 1-0.3 1-0.3 1-0.2 1-0.2 1-0.2 1-0.1 1-0.1 1 0 1 0.1 1 0.1 1 0.1 1 0.2 1 0.2 1 0.2 1 0.3 1 0.2 1 0.3 1 0.2 1 0.2 1 0.1 1 0.1 1 0.1 1 0 1 0 1-0.2 1-0.6 1-1.6 1-2 1-2.2 1-2 1-1.9 1-1.8 1-1.5 1-1.4 1-1.2 1-1 1-0.8 1-0.7 1-0.5 1-0.3 1-0.2 1 0.1 1 0.2 1 0.4 1 0.5 1 0.8 1 0.9 1 1.1 1 1.2 1 1.5 1 1.6 1 1.8 1 2 1 2.1 1 2.2 1 1.9 1 1 1 0.2 1-0.1 1-0.1 1-0.1 1 0 1 0 1 0 1 0.1 1 0.1 1 0.1 1 0.1 1 0.1 1 0.2 1 0.1 1 0.2M210.5 219.9l1-0.1 1 0 1 0 1 0 1 0.1 1 0 1 0.1 1 0.1 1 0.1 1 0 1 0.1 1 0 1-1.1 1-2.7 1-3.3 1-3.1 1-2.9 1-2.7 1-2.5 1-2.3 1-2.1 1-1.8 1-1.7 1-1.4 1-1.3 1-1 1-0.8 1-0.6 1-0.4 1-0.2 1 0 1 0.2 1 0.5 1 0.6 1 0.9 1 1 1 1.3 1 1.5 1 1.7 1 1.9 1 2.2 1 2.3 1 2.5 1 2.8 1 2.9 1 3.2 1 3.2 1 2.8 1 1.3 1 0.5 1 0.3 1 0.3 1 0.3 1 0.3 1 0.2 1 0.2 1 0.2 1 0.1 1 0.1 1 0 1 0 1-0.1 1-0.2 1-0.2 1-0.2 1-0.3 1-0.3 1-0.3 1-0.3 1-0.3 1-0.3 1-0.3 1-0.2 1-0.2 1-0.3 1-0.8 1-1.8 1-2.4 1-2.4 1-2.2 1-2.1 1-1.9 1-1.7 1-1.6 1-1.3 1-1.2 1-1 1-0.9 1-0.7 1-0.4 1-0.4 1-0.1 1 0 1 0.2 1 0.4 1 0.6 1 0.7 1 0.9 1 1.1 1 1.3 1 1.4 1 1.7 1 1.8 1 1.9 1 2.2 1 2.3 1 2.3 1 2.1 1 1.2 1 0.3 1 0.1 1 0 1 0.1 1 0 1 0.1 1 0.1 1 0.1 1 0.1 1 0.1 1 0.1 1 0.1 1 0.1 1 0.1M210.5 221.7l1 0 1 0 1 0 1-0.1 1 0 1-0.2 1-0.1 1-0.2 1-0.1 1-0.2 1-0.2 1-0.3 1-1.2 1-2.8 1-3.2 1-3.1 1-2.9 1-2.8 1-2.4 1-2.3 1-2.1 1-1.9 1-1.6 1-1.5 1-1.2 1-1.1 1-0.8 1-0.6 1-0.4 1-0.2 1 0 1 0.3 1 0.4 1 0.7 1 0.8 1 1.1 1 1.3 1 1.5 1 1.7 1 1.9 1 2.1 1 2.3 1 2.6 1 2.7 1 3 1 3.1 1 3.1 1 2.1 1 0.6 1 0 1-0.1 1 0 1-0.1 1-0.1 1 0 1-0.1 1 0 1-0.1 1 0 1-0.1 1 0 1 0 1 0 1 0 1 0 1 0.1 1 0 1 0 1 0.1 1 0.1 1 0 1 0.1 1 0.1 1 0.1 1 0 1-0.3 1-1.4 1-2.3 1-2.3 1-2.3 1-2 1-1.9 1-1.8 1-1.5 1-1.4 1-1.2 1-1 1-0.8 1-0.7 1-0.5 1-0.3 1-0.2 1 0.1 1 0.2 1 0.4 1 0.5 1 0.8 1 0.9 1 1.1 1 1.3 1 1.4 1 1.6 1 1.8 1 2 1 2.1 1 2.3 1 2.4 1 2.2 1 1.4 1 0.5 1 0.2 1 0.2 1 0.2 1 0.1 1 0.2 1 0.1 1 0.1 1 0 1 0 1 0 1 0 1-0.1 1-0.1M210.5 223.6l1-0.3 1-0.2 1-0.3 1-0.1 1 0 1 0 1 0.2 1 0.2 1 0.3 1 0.3 1 0.2 1-0.3 1-2.1 1-3.3 1-3.3 1-3.1 1-2.9 1-2.8 1-2.5 1-2.2 1-2.1 1-1.9 1-1.7 1-1.4 1-1.2 1-1.1 1-0.8 1-0.6 1-0.4 1-0.2 1 0 1 0.3 1 0.4 1 0.7 1 0.8 1 1.1 1 1.3 1 1.5 1 1.7 1 1.9 1 2.1 1 2.3 1 2.6 1 2.7 1 3 1 3.1 1 3.3 1 3 1 1.6 1 0.7 1 0.4 1 0.5 1 0.5 1 0.4 1 0.4 1 0.3 1 0.2 1 0 1 0 1-0.2 1-0.2 1-0.4 1-0.3 1-0.4 1-0.3 1-0.3 1-0.2 1-0.2 1-0.1 1 0 1 0.1 1 0.1 1 0.2 1 0.1 1-0.1 1-0.7 1-2 1-2.4 1-2.3 1-2.3 1-2.1 1-1.9 1-1.7 1-1.5 1-1.4 1-1.2 1-1 1-0.9 1-0.6 1-0.5 1-0.4 1-0.1 1 0 1 0.3 1 0.3 1 0.6 1 0.7 1 1 1 1.1 1 1.2 1 1.5 1 1.6 1 1.8 1 1.9 1 2.2 1 2.2 1 2.3 1 1.6 1 0.6 1 0.2 1 0.2 1 0.2 1 0.3 1 0.3 1 0.3 1 0.3 1 0.2 1 0.1 1 0.1 1-0.1 1-0.1 1-0.2 1-0.2M210.5 220.5l1 0 1-0.2 1-0.1 1-0.2 1-0.2 1-0.1 1-0.2 1-0.1 1-0.1 1-0.1 1 0.1 1 0 1 0 1-0.5 1-2.1 1-3 1-2.9 1-2.7 1-2.5 1-2.2 1-2.1 1-1.9 1-1.7 1-1.4 1-1.2 1-1.1 1-0.8 1-0.6 1-0.4 1-0.2 1 0 1 0.3 1 0.4 1 0.7 1 0.8 1 1.1 1 1.3 1 1.5 1 1.7 1 1.9 1 2.1 1 2.3 1 2.6 1 2.7 1 2.9 1 3 1 2.1 1 0.6 1-0.1 1-0.2 1-0.2 1-0.2 1-0.2 1-0.1 1 0 1 0 1 0 1 0.1 1 0.2 1 0.1 1 0.2 1 0.2 1 0.2 1 0.1 1 0.1 1 0.1 1 0 1-0.1 1 0 1-0.2 1-0.1 1-0.2 1-0.1 1-0.2 1-0.1 1-0.1 1 0 1-0.1 1-0.4 1-1 1-1.6 1-1.7 1-1.7 1-1.5 1-1.4 1-1.2 1-1 1-0.9 1-0.6 1-0.5 1-0.4 1-0.1 1 0 1 0.3 1 0.3 1 0.6 1 0.7 1 1 1 1 1 1.3 1 1.4 1 1.6 1 1.8 1 1.7 1 1.6 1 1.1 1 0.5 1 0.3 1 0.1 1 0.1 1 0.1 1-0.1 1 0 1-0.2 1-0.1 1-0.2 1-0.2 1-0.2 1-0.1 1-0.1 1-0.1 1-0.1 1 0.1"/></defs><use href="#tr2" stroke="#2f5ee8" stroke-width="1.1" fill="none" opacity="0.25" filter="url(#gl)"/><use href="#tr2" stroke="#b4dcff" stroke-width="0.55" fill="none" opacity="0.55"/><path d="M222.6 219.2l1-3.7 1-3.6 1-3.3 1-3.1 1-2.9 1-2.7 1-2.5 1-2.2 1-2.1 1-1.8 1-1.7 1-1.4 1-1.2 1-1 1-0.8 1-0.6 1-0.4 1-0.2 1 0.1 1 0.2 1 0.5 1 0.6 1 0.9 1 1.1 1 1.3 1 1.5 1 1.7 1 2 1 2.1 1 2.4 1 2.5 1 2.8 1 3 1 3.2 1 3.4 1 3.6M286.4 219.2l1-2.8 1-2.6 1-2.5 1-2.2 1-2.1 1-1.9 1-1.8 1-1.5 1-1.4 1-1.2 1-1.1 1-0.8 1-0.7 1-0.5 1-0.3 1-0.2 1 0 1 0.2 1 0.4 1 0.6 1 0.7 1 0.9 1 1.1 1 1.2 1 1.4 1 1.7 1 1.7 1 2 1 2.1 1 2.3 1 2.5 1 2.7" stroke="#c8f0ff" stroke-width="0.7" fill="none" opacity="0.8"/><rect x="324.8" y="221.5" width="1" height="0.8" fill="#ffff40" opacity="0.5"/><rect x="284.6" y="222.2" width="1" height="0.8" fill="#60ffc0" opacity="0.5"/><rect x="283.7" y="220.2" width="1" height="0.8" fill="#ffff40" opacity="0.5"/><rect x="328.4" y="220.9" width="1" height="0.8" fill="#40e0ff" opacity="0.5"/><rect x="264.6" y="221.3" width="1" height="0.8" fill="#9fff60" opacity="0.5"/><rect x="329.3" y="220.5" width="1" height="0.8" fill="#60ffc0" opacity="0.5"/><rect x="328.8" y="221.5" width="1" height="0.8" fill="#9fff60" opacity="0.5"/><rect x="265" y="219.8" width="1" height="0.8" fill="#60ffc0" opacity="0.5"/><rect x="273.9" y="220.2" width="1" height="0.8" fill="#40e0ff" opacity="0.5"/><rect x="283.2" y="220.9" width="1" height="0.8" fill="#9fff60" opacity="0.5"/><rect x="264.9" y="220" width="1" height="0.8" fill="#40e0ff" opacity="0.5"/><rect x="281.7" y="221.9" width="1" height="0.8" fill="#60ffc0" opacity="0.5"/><rect x="270.4" y="224.1" width="1" height="0.8" fill="#9fff60" opacity="0.5"/><rect x="276.7" y="219.4" width="1" height="0.8" fill="#9fff60" opacity="0.5"/><rect x="273.9" y="221.6" width="1" height="0.8" fill="#60ffc0" opacity="0.5"/><rect x="215.4" y="220.6" width="1" height="0.8" fill="#60ffc0" opacity="0.5"/><rect x="323.2" y="220.5" width="1" height="0.8" fill="#60ffc0" opacity="0.5"/><rect x="265.6" y="222" width="1" height="0.8" fill="#9fff60" opacity="0.5"/><rect x="284.7" y="222.5" width="1" height="0.8" fill="#60ffc0" opacity="0.5"/><rect x="267.4" y="220.4" width="1" height="0.8" fill="#ffff40" opacity="0.5"/><rect x="277.5" y="222.7" width="1" height="0.8" fill="#60ffc0" opacity="0.5"/><rect x="272.7" y="222.3" width="1" height="0.8" fill="#9fff60" opacity="0.5"/><rect x="324.8" y="220.8" width="1" height="0.8" fill="#60ffc0" opacity="0.5"/><rect x="265.3" y="224.5" width="1" height="0.8" fill="#9fff60" opacity="0.5"/><rect x="329.8" y="221.3" width="1" height="0.8" fill="#60ffc0" opacity="0.5"/><rect x="329.7" y="222.8" width="1" height="0.8" fill="#ffff40" opacity="0.5"/><rect x="323.6" y="220.6" width="1" height="0.8" fill="#9fff60" opacity="0.5"/></g><rect x="340.3" y="165" width="6.7" height="110.1" fill="url(#jet)"/><text x="274.1" y="160.6" textLength="79.5" lengthAdjust="spacingAndGlyphs" style="font-family:'Liberation Sans', sans-serif;font-size:8.0px;fill:#222;stroke:#222;stroke-width:0.2px;font-weight:bold;font-size:8.4px;fill:#111;stroke:none;" text-anchor="middle">Persistence spectrum</text><text transform="translate(208.1 168.5) scale(1.0 1)" style="font-family:'Liberation Sans', sans-serif;font-size:8.0px;fill:#222;stroke:#222;stroke-width:0.2px;font-size:8.1px;" text-anchor="end">0</text><text transform="translate(209.2 223.9) scale(1.0 1)" style="font-family:'Liberation Sans', sans-serif;font-size:8.0px;fill:#222;stroke:#222;stroke-width:0.2px;font-size:8.1px;" text-anchor="end">-50</text><text transform="translate(209.5 276.6) scale(1.0 1)" style="font-family:'Liberation Sans', sans-serif;font-size:8.0px;fill:#222;stroke:#222;stroke-width:0.2px;font-size:8.1px;" text-anchor="end">-100</text><text transform="translate(210.5 283.3) scale(1.0 1)" style="font-family:'Liberation Sans', sans-serif;font-size:8.0px;fill:#222;stroke:#222;stroke-width:0.2px;font-size:8.1px;" text-anchor="middle">0</text><text transform="translate(241.1 283.3) scale(1.0 1)" style="font-family:'Liberation Sans', sans-serif;font-size:8.0px;fill:#222;stroke:#222;stroke-width:0.2px;font-size:8.1px;" text-anchor="middle">50</text><text transform="translate(271.8 283.3) scale(1.0 1)" style="font-family:'Liberation Sans', sans-serif;font-size:8.0px;fill:#222;stroke:#222;stroke-width:0.2px;font-size:8.1px;" text-anchor="middle">100</text><text transform="translate(302.4 283.3) scale(1.0 1)" style="font-family:'Liberation Sans', sans-serif;font-size:8.0px;fill:#222;stroke:#222;stroke-width:0.2px;font-size:8.1px;" text-anchor="middle">150</text><text transform="translate(333 283.3) scale(1.0 1)" style="font-family:'Liberation Sans', sans-serif;font-size:8.0px;fill:#222;stroke:#222;stroke-width:0.2px;font-size:8.1px;" text-anchor="middle">200</text><text transform="translate(276.5 292) scale(0.955 1)" style="font-family:'Liberation Sans', sans-serif;font-size:8.0px;fill:#222;stroke:#222;stroke-width:0.2px;" text-anchor="middle">Frequency (Hz)</text><text transform="translate(270.5 304.4) scale(0.955 1)" style="font-family:'Liberation Sans', sans-serif;font-size:8.0px;fill:#222;stroke:#222;stroke-width:0.2px;fill:#e8913e;stroke:#e8913e;stroke-width:0.12px;" text-anchor="middle">Signal with AWGN (SNR = 15)</text><text transform="translate(195.6 217) rotate(-90) scale(0.955 1)" style="font-family:'Liberation Sans', sans-serif;font-size:8.0px;fill:#222;stroke:#222;stroke-width:0.2px;" text-anchor="middle">Power spectrum (dB)</text><text transform="translate(348.9 180.6) scale(1.0 1)" style="font-family:'Liberation Sans', sans-serif;font-size:8.0px;fill:#222;stroke:#222;stroke-width:0.2px;font-size:8.1px;">25</text><text transform="translate(348.9 221.6) scale(1.0 1)" style="font-family:'Liberation Sans', sans-serif;font-size:8.0px;fill:#222;stroke:#222;stroke-width:0.2px;font-size:8.1px;">15</text><text transform="translate(348.9 260.2) scale(1.0 1)" style="font-family:'Liberation Sans', sans-serif;font-size:8.0px;fill:#222;stroke:#222;stroke-width:0.2px;font-size:8.1px;">5</text><text transform="translate(364 222.8) rotate(-90) scale(0.955 1)" style="font-family:'Liberation Sans', sans-serif;font-size:8.0px;fill:#222;stroke:#222;stroke-width:0.2px;" text-anchor="middle">Density(%)</text><clipPath id="pc3"><rect x="391.8" y="165.3" width="122.7" height="110.1"/></clipPath><rect x="391.8" y="165.3" width="122.7" height="110.1" fill="#000084"/><g clip-path="url(#pc3)"><defs><path id="tr3" d="M391.8 228.1l1 0.1 1 0.2 1 0.1 1 0.1 1 0.1 1 0.1 1 0 1 0.1 1 0 1-0.1 1-1.2 1-3.5 1-3.9 1-3.8 1-3.6 1-3.4 1-3.1 1-2.9 1-2.7 1-2.5 1-2.3 1-2 1-1.9 1-1.6 1-1.4 1-1.1 1-1 1-0.7 1-0.5 1-0.3 1-0.1 1 0.2 1 0.4 1 0.6 1 0.8 1 1 1 1.3 1 1.4 1 1.7 1 2 1 2.1 1 2.3 1 2.6 1 2.8 1 3 1 3.3 1 3.4 1 3.7 1 3.9 1 3.9 1 2.8 1 0.6 1 0.1 1 0.1 1 0.1 1 0.2 1 0.1 1 0.1 1 0.1 1 0.1 1 0.1 1 0 1 0.1 1 0 1 0 1 0 1-0.1 1 0 1-0.1 1-0.1 1-0.1 1-0.1 1-0.2 1-0.4 1-1.4 1-2.5 1-2.7 1-2.6 1-2.5 1-2.3 1-2.1 1-2 1-1.7 1-1.6 1-1.5 1-1.2 1-1.1 1-0.9 1-0.7 1-0.6 1-0.3 1-0.2 1 0 1 0.1 1 0.4 1 0.5 1 0.6 1 0.9 1 1 1 1.3 1 1.4 1 1.5 1 1.8 1 1.9 1 2.1 1 2.2 1 2.5 1 2.6 1 2.7 1 2.4 1 1.1 1 0.2 1-0.1 1-0.1 1-0.1 1-0.1 1-0.1 1-0.1 1 0 1-0.1 1 0 1 0 1 0.1M391.8 230l1-0.1 1 0 1 0.1 1 0.1 1 0.2 1 0.3 1 0.3 1 0.2 1 0.3 1-0.1 1-2.2 1-3.9 1-4 1-3.8 1-3.6 1-3.4 1-3.1 1-2.9 1-2.7 1-2.5 1-2.3 1-2 1-1.9 1-1.6 1-1.3 1-1.2 1-1 1-0.7 1-0.5 1-0.3 1 0 1 0.1 1 0.4 1 0.6 1 0.8 1 1 1 1.3 1 1.5 1 1.7 1 1.9 1 2.1 1 2.4 1 2.5 1 2.8 1 3 1 3.3 1 3.4 1 3.7 1 3.9 1 3.8 1 2.3 1 0.4 1-0.1 1-0.1 1-0.1 1-0.2 1-0.3 1-0.3 1-0.3 1-0.3 1-0.3 1-0.2 1-0.2 1-0.1 1 0 1 0.1 1 0.2 1 0.4 1 0.3 1 0.5 1 0.5 1 0.5 1 0.3 1-0.9 1-2.5 1-2.9 1-2.9 1-2.6 1-2.5 1-2.3 1-2.1 1-2 1-1.8 1-1.6 1-1.4 1-1.2 1-1.1 1-0.9 1-0.7 1-0.6 1-0.4 1-0.1 1-0.1 1 0.2 1 0.3 1 0.5 1 0.7 1 0.9 1 1 1 1.2 1 1.4 1 1.6 1 1.7 1 2 1 2.1 1 2.2 1 2.5 1 2.6 1 2.8 1 2.9 1 2.6 1 1.4 1 0.4 1 0.2 1 0.3 1 0.2 1 0.3 1 0.3 1 0.2 1 0.2 1 0.1 1 0 1-0.1M391.8 228.2l1-0.1 1 0 1-0.1 1-0.1 1-0.1 1-0.1 1-0.1 1 0 1-0.1 1-0.1 1-0.2 1-1.1 1-3.1 1-3.7 1-3.6 1-3.4 1-3.1 1-2.9 1-2.7 1-2.5 1-2.3 1-2 1-1.9 1-1.6 1-1.4 1-1.1 1-1 1-0.7 1-0.5 1-0.3 1-0.1 1 0.2 1 0.4 1 0.6 1 0.8 1 1 1 1.3 1 1.4 1 1.7 1 1.9 1 2.2 1 2.3 1 2.6 1 2.8 1 3 1 3.3 1 3.4 1 3.6 1 3.5 1 1.7 1 0 1-0.1 1-0.2 1-0.2 1-0.2 1-0.1 1-0.1 1-0.1 1-0.1 1 0 1 0 1 0.1 1 0.1 1 0.2 1 0.1 1 0.2 1 0.2 1 0.2 1 0.2 1 0.2 1 0.2 1 0.1 1 0.1 1-0.4 1-1.8 1-2.6 1-2.8 1-2.6 1-2.5 1-2.3 1-2.2 1-1.9 1-1.8 1-1.6 1-1.4 1-1.3 1-1 1-0.9 1-0.8 1-0.5 1-0.4 1-0.2 1 0 1 0.2 1 0.3 1 0.5 1 0.7 1 0.9 1 1 1 1.2 1 1.4 1 1.6 1 1.7 1 1.9 1 2.1 1 2.3 1 2.4 1 2.7 1 2.7 1 2.8 1 2.2 1 0.9 1 0.1 1 0 1 0 1 0 1 0 1 0.1 1 0 1 0.1 1 0.1 1 0.1 1 0M391.8 226.5l1-0.1 1-0.1 1-0.1 1-0.1 1 0 1-0.1 1 0 1 0 1 0 1 0 1-0.1 1-0.8 1-2.8 1-3.7 1-3.6 1-3.3 1-3.2 1-2.9 1-2.7 1-2.5 1-2.3 1-2 1-1.9 1-1.6 1-1.3 1-1.2 1-1 1-0.7 1-0.5 1-0.3 1 0 1 0.1 1 0.4 1 0.6 1 0.8 1 1 1 1.3 1 1.5 1 1.7 1 1.9 1 2.1 1 2.4 1 2.5 1 2.8 1 3 1 3.3 1 3.4 1 3.6 1 3.4 1 1.6 1 0.1 1-0.1 1-0.1 1-0.1 1-0.1 1 0 1-0.1 1 0 1 0 1 0 1 0.1 1 0.1 1 0.1 1 0.1 1 0.2 1 0.2 1 0.1 1 0.2 1 0.1 1 0.2 1 0.1 1 0.1 1 0 1 0 1-0.3 1-1.4 1-2.3 1-2.6 1-2.4 1-2.3 1-2.2 1-1.9 1-1.8 1-1.6 1-1.4 1-1.3 1-1 1-0.9 1-0.8 1-0.5 1-0.4 1-0.2 1 0 1 0.2 1 0.3 1 0.5 1 0.7 1 0.9 1 1 1 1.2 1 1.4 1 1.6 1 1.7 1 1.9 1 2.1 1 2.3 1 2.4 1 2.6 1 2.6 1 1.9 1 0.6 1 0.1 1-0.1 1-0.1 1-0.1 1 0 1-0.1 1-0.1 1-0.1 1-0.1 1-0.1 1 0 1-0.1M391.8 229.4l1-0.1 1-0.1 1-0.1 1-0.2 1-0.1 1-0.2 1-0.1 1-0.2 1-0.1 1-0.1 1-0.3 1-1.1 1-3.1 1-3.7 1-3.6 1-3.4 1-3.1 1-2.9 1-2.7 1-2.5 1-2.3 1-2 1-1.9 1-1.6 1-1.3 1-1.2 1-1 1-0.7 1-0.5 1-0.3 1 0 1 0.1 1 0.4 1 0.6 1 0.8 1 1 1 1.3 1 1.5 1 1.6 1 2 1 2.1 1 2.4 1 2.5 1 2.8 1 3 1 3.3 1 3.4 1 3.7 1 3.7 1 3 1 0.8 1 0.1 1 0.1 1 0 1 0.1 1 0.1 1 0.1 1 0.1 1 0.1 1 0.1 1 0 1 0.1 1 0 1 0.1 1 0 1 0 1 0 1 0 1 0 1 0 1 0 1 0 1-0.2 1-0.8 1-2.1 1-2.8 1-2.8 1-2.7 1-2.5 1-2.3 1-2.1 1-2 1-1.7 1-1.6 1-1.5 1-1.2 1-1.1 1-0.9 1-0.7 1-0.6 1-0.3 1-0.2 1 0 1 0.1 1 0.4 1 0.5 1 0.7 1 0.8 1 1.1 1 1.2 1 1.4 1 1.5 1 1.8 1 1.9 1 2.1 1 2.3 1 2.4 1 2.6 1 2.8 1 2.6 1 2 1 0.8 1 0.3 1 0.1 1 0.1 1 0.1 1 0.1 1 0.1 1 0 1 0 1 0 1 0 1-0.1M391.8 228l1 0.2 1 0.3 1 0.2 1 0.2 1 0.3 1 0.2 1 0.2 1 0.1 1 0.1 1 0 1-0.3 1-2.1 1-3.6 1-3.8 1-3.6 1-3.3 1-3.2 1-2.9 1-2.7 1-2.5 1-2.3 1-2 1-1.8 1-1.6 1-1.4 1-1.2 1-0.9 1-0.8 1-0.5 1-0.2 1-0.1 1 0.1 1 0.4 1 0.6 1 0.8 1 1.1 1 1.2 1 1.5 1 1.7 1 1.9 1 2.1 1 2.4 1 2.6 1 2.8 1 3 1 3.2 1 3.5 1 3.6 1 3.7 1 2.6 1 0.4 1-0.2 1-0.2 1-0.2 1-0.1 1-0.1 1 0 1 0 1 0 1 0.1 1 0.2 1 0.2 1 0.2 1 0.2 1 0.3 1 0.2 1 0.2 1 0.3 1 0.2 1 0.1 1 0.1 1 0.1 1 0 1-0.4 1-1.5 1-2.5 1-2.7 1-2.7 1-2.5 1-2.3 1-2.1 1-1.9 1-1.8 1-1.6 1-1.4 1-1.3 1-1.1 1-0.9 1-0.7 1-0.5 1-0.4 1-0.2 1 0 1 0.1 1 0.4 1 0.5 1 0.7 1 0.8 1 1.1 1 1.2 1 1.4 1 1.5 1 1.8 1 1.9 1 2.1 1 2.3 1 2.4 1 2.6 1 2.7 1 2.5 1 1.2 1 0 1-0.2 1-0.2 1-0.2 1-0.2 1-0.1 1-0.1 1 0 1 0 1 0.1 1 0.1 1 0.1M391.8 228.3l1 0.2 1 0.1 1 0.1 1 0 1 0 1-0.1 1-0.2 1-0.2 1-0.2 1-0.2 1-0.4 1-1.4 1-3.2 1-3.7 1-3.6 1-3.3 1-3.2 1-2.9 1-2.7 1-2.5 1-2.3 1-2 1-1.8 1-1.6 1-1.4 1-1.2 1-0.9 1-0.8 1-0.5 1-0.3 1 0 1 0.1 1 0.4 1 0.6 1 0.8 1 1.1 1 1.2 1 1.5 1 1.7 1 1.9 1 2.1 1 2.4 1 2.5 1 2.8 1 3.1 1 3.2 1 3.4 1 3.7 1 3.8 1 3.5 1 1.3 1 0.2 1 0 1 0 1 0 1 0.1 1 0.1 1 0.1 1 0.2 1 0.1 1 0.2 1 0.2 1 0.2 1 0.1 1 0.1 1-0.1 1 0 1-0.2 1-0.2 1-0.3 1-0.3 1-0.4 1-0.7 1-1.5 1-2.5 1-2.9 1-2.8 1-2.7 1-2.4 1-2.3 1-2.2 1-1.9 1-1.8 1-1.6 1-1.4 1-1.3 1-1.1 1-0.9 1-0.7 1-0.5 1-0.4 1-0.2 1 0 1 0.2 1 0.3 1 0.5 1 0.7 1 0.8 1 1.1 1 1.2 1 1.4 1 1.6 1 1.7 1 1.9 1 2.1 1 2.3 1 2.4 1 2.6 1 2.8 1 2.9 1 2.7 1 1.6 1 0.3 1-0.1 1-0.2 1-0.2 1-0.2 1-0.2 1-0.2 1-0.2 1-0.1 1 0 1 0M391.8 228.7l1 0.3 1 0.2 1 0.2 1 0.1 1 0.1 1-0.1 1-0.1 1-0.3 1-0.2 1-0.3 1-0.5 1-1.8 1-3.5 1-3.8 1-3.5 1-3.4 1-3.2 1-2.9 1-2.7 1-2.5 1-2.2 1-2.1 1-1.8 1-1.6 1-1.4 1-1.2 1-0.9 1-0.7 1-0.5 1-0.3 1-0.1 1 0.2 1 0.3 1 0.6 1 0.8 1 1.1 1 1.2 1 1.5 1 1.7 1 1.9 1 2.1 1 2.4 1 2.6 1 2.8 1 3 1 3.2 1 3.5 1 3.6 1 3.8 1 3.2 1 1 1-0.1 1 0 1 0.1 1 0.1 1 0.3 1 0.3 1 0.3 1 0.3 1 0.3 1 0.2 1 0.2 1 0.1 1-0.1 1-0.1 1-0.3 1-0.3 1-0.3 1-0.4 1-0.3 1-0.3 1-0.3 1-0.2 1-0.5 1-1.8 1-2.6 1-2.8 1-2.7 1-2.5 1-2.3 1-2.1 1-1.9 1-1.8 1-1.6 1-1.4 1-1.3 1-1.1 1-0.9 1-0.7 1-0.5 1-0.4 1-0.2 1 0 1 0.1 1 0.4 1 0.5 1 0.7 1 0.8 1 1.1 1 1.2 1 1.4 1 1.5 1 1.8 1 1.9 1 2.1 1 2.3 1 2.4 1 2.6 1 2.8 1 2.7 1 1.9 1 0.6 1 0.1 1 0.1 1 0.2 1 0.3 1 0.2 1 0.3 1 0.3 1 0.2 1 0.1 1 0.1 1-0.1M391.8 228.5l1 0.1 1-0.1 1-0.1 1-0.1 1-0.3 1-0.2 1-0.3 1-0.3 1-0.2 1-0.2 1-0.2 1-0.8 1-2.9 1-3.6 1-3.6 1-3.4 1-3.1 1-2.9 1-2.7 1-2.5 1-2.3 1-2 1-1.9 1-1.6 1-1.4 1-1.1 1-1 1-0.7 1-0.5 1-0.3 1-0.1 1 0.2 1 0.4 1 0.6 1 0.8 1 1 1 1.3 1 1.4 1 1.7 1 1.9 1 2.2 1 2.3 1 2.6 1 2.8 1 3 1 3.3 1 3.4 1 3.6 1 3.5 1 1.3 1-0.2 1-0.4 1-0.3 1-0.2 1-0.1 1-0.1 1 0.1 1 0.1 1 0.1 1 0.2 1 0.2 1 0.1 1 0.2 1 0.1 1 0.1 1 0 1 0 1 0 1 0 1 0 1 0 1 0.1 1 0.1 1-0.4 1-1.8 1-2.7 1-2.8 1-2.6 1-2.5 1-2.3 1-2.2 1-1.9 1-1.8 1-1.6 1-1.4 1-1.3 1-1 1-0.9 1-0.8 1-0.5 1-0.4 1-0.2 1 0 1 0.2 1 0.3 1 0.5 1 0.7 1 0.9 1 1 1 1.2 1 1.4 1 1.6 1 1.7 1 1.9 1 2.1 1 2.3 1 2.4 1 2.7 1 2.8 1 2.8 1 2.6 1 1.1 1 0.1 1-0.1 1 0 1 0.1 1 0.1 1 0.2 1 0.3 1 0.3 1 0.2 1 0.3 1 0.2M391.8 227l1 0.3 1 0.2 1 0.2 1 0.1 1 0.2 1 0 1 0 1-0.1 1-0.1 1-0.1 1-0.4 1-1.7 1-3.4 1-3.7 1-3.6 1-3.3 1-3.2 1-2.9 1-2.7 1-2.5 1-2.3 1-2 1-1.9 1-1.6 1-1.3 1-1.2 1-1 1-0.7 1-0.5 1-0.3 1 0 1 0.1 1 0.4 1 0.6 1 0.8 1 1 1 1.3 1 1.5 1 1.7 1 1.9 1 2.1 1 2.4 1 2.5 1 2.8 1 3 1 3.3 1 3.4 1 3.6 1 2.6 1 0.2 1-0.5 1-0.6 1-0.6 1-0.5 1-0.5 1-0.4 1-0.2 1-0.2 1 0 1 0 1 0.2 1 0.4 1 0.4 1 0.5 1 0.5 1 0.6 1 0.6 1 0.6 1 0.5 1 0.5 1 0.4 1 0.4 1 0.2 1 0.2 1-0.2 1-1 1-2.1 1-2.5 1-2.5 1-2.3 1-2.1 1-2 1-1.7 1-1.6 1-1.5 1-1.2 1-1.1 1-0.9 1-0.7 1-0.6 1-0.3 1-0.2 1 0 1 0.1 1 0.4 1 0.5 1 0.6 1 0.9 1 1.1 1 1.2 1 1.4 1 1.5 1 1.8 1 1.9 1 2.1 1 2.2 1 2.5 1 2.5 1 2.4 1 1.4 1 0.3 1 0 1-0.1 1 0 1 0.1 1 0.1 1 0.1 1 0.2 1 0.2 1 0.3 1 0.3 1 0.2 1 0.3M391.8 227l1-0.1 1-0.1 1-0.2 1-0.2 1-0.1 1-0.2 1-0.2 1-0.2 1-0.1 1-0.2 1-0.3 1-1.4 1-3.4 1-3.7 1-3.6 1-3.4 1-3.1 1-2.9 1-2.7 1-2.5 1-2.3 1-2 1-1.9 1-1.6 1-1.3 1-1.2 1-1 1-0.7 1-0.5 1-0.3 1 0 1 0.1 1 0.4 1 0.6 1 0.8 1 1 1 1.3 1 1.5 1 1.6 1 2 1 2.1 1 2.3 1 2.6 1 2.8 1 3 1 3.3 1 3.4 1 3.7 1 3.8 1 3.2 1 1.4 1 0.5 1 0.3 1 0.3 1 0.3 1 0.3 1 0.2 1 0.2 1 0.1 1 0.1 1 0 1-0.1 1-0.1 1-0.2 1-0.3 1-0.2 1-0.3 1-0.3 1-0.4 1-0.3 1-0.3 1-0.2 1-0.3 1-0.3 1-0.9 1-2 1-2.6 1-2.7 1-2.4 1-2.3 1-2.2 1-1.9 1-1.8 1-1.6 1-1.4 1-1.3 1-1.1 1-0.8 1-0.8 1-0.5 1-0.4 1-0.2 1 0 1 0.2 1 0.3 1 0.5 1 0.7 1 0.9 1 1 1 1.2 1 1.4 1 1.6 1 1.7 1 1.9 1 2.1 1 2.3 1 2.4 1 2.6 1 2.6 1 2.2 1 1.1 1 0.4 1 0.2 1 0.2 1 0.1 1 0.2 1 0.2 1 0.1 1 0.2 1 0.1 1 0 1 0 1 0M391.8 226l1 0.1 1 0.2 1 0.1 1 0.2 1 0.2 1 0.2 1 0.1 1 0.2 1 0.2 1 0.1 1 0 1-1 1-3.1 1-3.7 1-3.6 1-3.3 1-3.2 1-2.9 1-2.7 1-2.5 1-2.3 1-2 1-1.8 1-1.7 1-1.3 1-1.2 1-0.9 1-0.8 1-0.5 1-0.3 1 0 1 0.1 1 0.4 1 0.6 1 0.8 1 1 1 1.3 1 1.5 1 1.7 1 1.9 1 2.1 1 2.4 1 2.5 1 2.8 1 3 1 3.3 1 3.4 1 3.6 1 3 1 0.6 1-0.5 1-0.7 1-0.7 1-0.8 1-0.7 1-0.8 1-0.7 1-0.6 1-0.5 1-0.3 1-0.3 1-0.1 1 0.1 1 0.2 1 0.4 1 0.4 1 0.6 1 0.6 1 0.7 1 0.7 1 0.7 1 0.7 1 0.7 1 0.6 1 0.3 1-0.9 1-2.2 1-2.6 1-2.4 1-2.4 1-2.1 1-1.9 1-1.8 1-1.6 1-1.4 1-1.3 1-1.1 1-0.9 1-0.7 1-0.5 1-0.4 1-0.2 1 0 1 0.2 1 0.3 1 0.5 1 0.7 1 0.8 1 1.1 1 1.2 1 1.4 1 1.6 1 1.7 1 1.9 1 2.1 1 2.3 1 2.4 1 2.6 1 2.5 1 2 1 0.9 1 0.4 1 0.2 1 0.2 1 0.1 1 0.1 1 0.1 1 0.1 1 0.1 1 0 1 0 1-0.1 1 0M391.8 229.9l1-0.1 1 0 1 0 1-0.1 1-0.1 1-0.1 1-0.1 1-0.1 1-0.1 1-0.2 1-0.6 1-2.5 1-3.8 1-3.8 1-3.6 1-3.3 1-3.2 1-2.9 1-2.7 1-2.5 1-2.2 1-2.1 1-1.8 1-1.6 1-1.4 1-1.2 1-0.9 1-0.7 1-0.6 1-0.2 1-0.1 1 0.1 1 0.4 1 0.6 1 0.8 1 1.1 1 1.2 1 1.5 1 1.7 1 1.9 1 2.1 1 2.4 1 2.6 1 2.8 1 3 1 3.2 1 3.5 1 3.6 1 3.7 1 2.4 1 0.1 1-0.5 1-0.4 1-0.5 1-0.4 1-0.4 1-0.3 1-0.2 1-0.1 1-0.1 1 0.1 1 0.1 1 0.3 1 0.3 1 0.5 1 0.4 1 0.5 1 0.5 1 0.6 1 0.4 1 0.5 1 0.4 1 0.3 1 0 1-1.1 1-2.5 1-2.7 1-2.6 1-2.5 1-2.3 1-2.1 1-2 1-1.8 1-1.6 1-1.4 1-1.3 1-1 1-0.9 1-0.7 1-0.6 1-0.4 1-0.2 1 0 1 0.2 1 0.3 1 0.5 1 0.7 1 0.9 1 1 1 1.2 1 1.4 1 1.6 1 1.7 1 2 1 2 1 2.3 1 2.5 1 2.6 1 2.7 1 2.8 1 2.1 1 0.7 1 0 1-0.1 1-0.1 1-0.1 1-0.1 1-0.2 1-0.1 1-0.1 1 0 1-0.1 1 0M391.8 228.4l1 0.1 1 0 1 0.1 1 0 1-0.1 1 0 1-0.1 1-0.1 1-0.1 1-0.2 1-0.4 1-1.7 1-3.5 1-3.8 1-3.5 1-3.4 1-3.2 1-2.9 1-2.7 1-2.5 1-2.2 1-2.1 1-1.8 1-1.6 1-1.4 1-1.2 1-0.9 1-0.7 1-0.5 1-0.3 1-0.1 1 0.2 1 0.3 1 0.6 1 0.8 1 1.1 1 1.2 1 1.5 1 1.7 1 1.9 1 2.1 1 2.4 1 2.6 1 2.8 1 3 1 3.2 1 3.5 1 3.6 1 3.5 1 1.5 1-0.4 1-0.6 1-0.7 1-0.7 1-0.6 1-0.6 1-0.5 1-0.5 1-0.3 1-0.2 1 0 1 0 1 0.2 1 0.4 1 0.4 1 0.5 1 0.6 1 0.7 1 0.6 1 0.7 1 0.6 1 0.7 1 0.5 1 0.5 1-0.3 1-1.7 1-2.6 1-2.6 1-2.5 1-2.3 1-2.1 1-2 1-1.8 1-1.6 1-1.4 1-1.3 1-1 1-0.9 1-0.7 1-0.6 1-0.4 1-0.2 1 0 1 0.2 1 0.3 1 0.5 1 0.7 1 0.9 1 1 1 1.2 1 1.4 1 1.6 1 1.7 1 1.9 1 2.1 1 2.3 1 2.4 1 2.6 1 2.7 1 2.4 1 1.3 1 0.4 1 0.2 1 0.1 1 0.1 1 0.1 1 0 1 0.1 1 0 1-0.1 1 0 1-0.1 1-0.1M391.8 227l1 0.3 1 0.1 1 0.2 1 0.2 1 0.2 1 0.1 1 0.1 1 0.1 1 0.1 1 0 1-0.5 1-2.4 1-3.7 1-3.8 1-3.6 1-3.4 1-3.1 1-2.9 1-2.7 1-2.5 1-2.3 1-2 1-1.9 1-1.6 1-1.3 1-1.2 1-1 1-0.7 1-0.5 1-0.3 1 0 1 0.1 1 0.4 1 0.6 1 0.8 1 1 1 1.3 1 1.5 1 1.7 1 1.9 1 2.1 1 2.4 1 2.5 1 2.8 1 3 1 3.3 1 3.4 1 3.7 1 3.8 1 3.4 1 1.3 1 0.1 1-0.1 1-0.1 1-0.2 1-0.2 1-0.1 1-0.3 1-0.2 1-0.2 1-0.2 1-0.2 1-0.2 1-0.1 1-0.2 1-0.1 1-0.1 1 0 1-0.1 1 0 1 0.1 1 0 1 0.1 1 0.1 1-0.2 1-1 1-2.2 1-2.5 1-2.5 1-2.3 1-2.1 1-1.9 1-1.8 1-1.6 1-1.4 1-1.3 1-1.1 1-0.9 1-0.7 1-0.5 1-0.4 1-0.2 1 0 1 0.1 1 0.4 1 0.5 1 0.7 1 0.8 1 1.1 1 1.2 1 1.4 1 1.5 1 1.8 1 1.9 1 2.1 1 2.3 1 2.4 1 2.5 1 2.3 1 1.3 1 0.3 1 0 1 0.1 1 0 1 0.1 1 0.1 1 0.2 1 0.1 1 0.2 1 0.2 1 0.2 1 0.2 1 0.2M391.8 226.6l1-0.2 1-0.2 1-0.1 1-0.1 1-0.1 1 0 1 0 1 0.1 1 0.2 1 0.1 1 0.1 1-1.1 1-3.2 1-3.7 1-3.6 1-3.4 1-3.1 1-2.9 1-2.8 1-2.4 1-2.3 1-2.1 1-1.8 1-1.6 1-1.4 1-1.1 1-1 1-0.7 1-0.5 1-0.3 1-0.1 1 0.2 1 0.4 1 0.6 1 0.8 1 1 1 1.3 1 1.4 1 1.7 1 1.9 1 2.2 1 2.3 1 2.6 1 2.8 1 3 1 3.2 1 3.5 1 3.6 1 3.7 1 2.4 1 0.4 1 0.1 1 0.1 1 0.2 1 0.1 1 0.3 1 0.2 1 0.2 1 0.3 1 0.2 1 0.1 1 0.1 1 0.1 1-0.1 1 0 1-0.2 1-0.2 1-0.2 1-0.3 1-0.2 1-0.3 1-0.2 1-0.3 1-0.2 1-0.8 1-1.8 1-2.6 1-2.6 1-2.5 1-2.3 1-2.1 1-2 1-1.7 1-1.6 1-1.5 1-1.2 1-1.1 1-0.9 1-0.7 1-0.5 1-0.4 1-0.2 1 0 1 0.1 1 0.4 1 0.5 1 0.7 1 0.8 1 1.1 1 1.2 1 1.4 1 1.5 1 1.8 1 1.9 1 2.1 1 2.3 1 2.4 1 2.6 1 2.7 1 2.5 1 1.3 1 0.3 1-0.1 1-0.1 1-0.2 1-0.2 1-0.1 1-0.2 1-0.2 1-0.1 1-0.1 1 0 1 0M391.8 228.6l1 0 1-0.1 1-0.2 1-0.2 1-0.2 1-0.3 1-0.3 1-0.3 1-0.3 1-0.2 1-0.3 1-0.6 1-2.4 1-3.5 1-3.5 1-3.4 1-3.1 1-3 1-2.7 1-2.5 1-2.2 1-2.1 1-1.8 1-1.6 1-1.4 1-1.2 1-0.9 1-0.7 1-0.5 1-0.3 1-0.1 1 0.2 1 0.3 1 0.6 1 0.8 1 1.1 1 1.2 1 1.5 1 1.7 1 1.9 1 2.2 1 2.3 1 2.6 1 2.8 1 3 1 3.2 1 3.5 1 3.6 1 3.1 1 1.3 1 0 1-0.3 1-0.3 1-0.4 1-0.4 1-0.5 1-0.5 1-0.5 1-0.4 1-0.5 1-0.3 1-0.3 1-0.1 1 0 1 0 1 0.2 1 0.3 1 0.4 1 0.5 1 0.6 1 0.5 1 0.7 1 0.6 1 0.6 1 0.2 1-1.1 1-2.4 1-2.6 1-2.5 1-2.3 1-2.1 1-1.9 1-1.8 1-1.6 1-1.4 1-1.3 1-1.1 1-0.9 1-0.7 1-0.5 1-0.4 1-0.2 1 0 1 0.1 1 0.4 1 0.5 1 0.7 1 0.8 1 1.1 1 1.2 1 1.4 1 1.5 1 1.8 1 1.9 1 2.1 1 2.3 1 2.4 1 2.6 1 2.7 1 2.4 1 1.3 1 0.1 1-0.2 1-0.3 1-0.2 1-0.3 1-0.3 1-0.3 1-0.3 1-0.1 1-0.2 1 0 1 0M391.8 227.7l1-0.1 1-0.1 1-0.1 1-0.1 1-0.2 1-0.1 1-0.1 1-0.2 1-0.1 1-0.1 1-0.1 1-0.6 1-2.5 1-3.6 1-3.6 1-3.3 1-3.2 1-2.9 1-2.7 1-2.5 1-2.3 1-2 1-1.8 1-1.6 1-1.4 1-1.2 1-0.9 1-0.8 1-0.5 1-0.3 1 0 1 0.1 1 0.4 1 0.6 1 0.8 1 1.1 1 1.2 1 1.5 1 1.7 1 1.9 1 2.1 1 2.4 1 2.5 1 2.8 1 3.1 1 3.2 1 3.4 1 3.6 1 3.3 1 1.4 1 0 1-0.1 1-0.2 1-0.2 1-0.2 1-0.3 1-0.2 1-0.2 1-0.2 1-0.2 1-0.2 1-0.1 1 0 1 0 1 0 1 0.1 1 0.2 1 0.2 1 0.2 1 0.2 1 0.3 1 0.3 1 0.2 1-0.2 1-1.6 1-2.7 1-2.8 1-2.7 1-2.4 1-2.4 1-2.1 1-1.9 1-1.8 1-1.6 1-1.4 1-1.3 1-1.1 1-0.9 1-0.7 1-0.5 1-0.4 1-0.2 1 0 1 0.1 1 0.4 1 0.5 1 0.7 1 0.8 1 1.1 1 1.2 1 1.4 1 1.6 1 1.7 1 1.9 1 2.1 1 2.3 1 2.4 1 2.6 1 2.8 1 2.9 1 2.6 1 1.5 1 0.4 1 0 1 0 1-0.1 1-0.1 1-0.1 1-0.1 1-0.1 1-0.1 1-0.2 1-0.1M391.8 226.4l1 0.3 1 0.4 1 0.2 1 0.3 1 0.2 1 0 1 0 1-0.1 1-0.2 1-0.3 1-0.3 1-0.5 1-1.4 1-2.9 1-3.5 1-3.3 1-3.2 1-2.9 1-2.7 1-2.5 1-2.2 1-2.1 1-1.8 1-1.6 1-1.4 1-1.2 1-0.9 1-0.7 1-0.5 1-0.3 1-0.1 1 0.2 1 0.3 1 0.6 1 0.8 1 1.1 1 1.2 1 1.5 1 1.7 1 1.9 1 2.1 1 2.4 1 2.6 1 2.8 1 3 1 3.2 1 3.5 1 3.5 1 2.7 1 0.7 1-0.1 1-0.4 1-0.4 1-0.5 1-0.4 1-0.5 1-0.4 1-0.3 1-0.1 1-0.1 1 0 1 0.2 1 0.3 1 0.4 1 0.4 1 0.4 1 0.5 1 0.3 1 0.4 1 0.2 1 0.1 1 0 1 0 1-0.2 1-0.4 1-1.1 1-1.9 1-2.4 1-2.4 1-2.3 1-2.2 1-1.9 1-1.8 1-1.6 1-1.4 1-1.3 1-1 1-0.9 1-0.8 1-0.5 1-0.4 1-0.2 1 0 1 0.2 1 0.3 1 0.5 1 0.7 1 0.9 1 1 1 1.2 1 1.4 1 1.6 1 1.7 1 1.9 1 2.1 1 2.3 1 2.4 1 2.5 1 2.3 1 1.6 1 0.6 1 0.2 1 0.1 1 0 1-0.1 1-0.2 1-0.3 1-0.3 1-0.3 1-0.3 1-0.3 1-0.2 1-0.2M391.8 226.7l1 0.1 1 0.1 1 0.1 1 0.1 1 0 1 0.1 1 0.1 1 0 1 0 1 0 1 0 1-0.1 1-0.7 1-2.5 1-3.4 1-3.3 1-3.2 1-2.9 1-2.7 1-2.5 1-2.2 1-2.1 1-1.8 1-1.6 1-1.4 1-1.2 1-0.9 1-0.7 1-0.5 1-0.3 1-0.1 1 0.2 1 0.3 1 0.6 1 0.8 1 1.1 1 1.2 1 1.5 1 1.7 1 1.9 1 2.1 1 2.4 1 2.6 1 2.8 1 3 1 3.2 1 3.3 1 2.3 1 0.2 1-0.4 1-0.6 1-0.6 1-0.6 1-0.6 1-0.6 1-0.5 1-0.4 1-0.4 1-0.2 1-0.1 1 0 1 0.2 1 0.2 1 0.4 1 0.5 1 0.5 1 0.6 1 0.6 1 0.6 1 0.6 1 0.5 1 0.5 1 0.4 1 0.4 1 0.2 1 0.2 1-0.4 1-1.3 1-2.1 1-2.3 1-2.1 1-1.9 1-1.8 1-1.6 1-1.4 1-1.3 1-1 1-0.9 1-0.8 1-0.5 1-0.4 1-0.2 1 0 1 0.2 1 0.3 1 0.5 1 0.7 1 0.9 1 1 1 1.2 1 1.4 1 1.6 1 1.7 1 1.9 1 2.1 1 2.2 1 2.3 1 1.9 1 0.8 1 0.2 1-0.1 1 0 1-0.1 1 0 1-0.1 1 0 1 0.1 1 0 1 0 1 0.1 1 0.1 1 0.1 1 0"/></defs><use href="#tr3" stroke="#2f5ee8" stroke-width="1.1" fill="none" opacity="0.25" filter="url(#gl)"/><use href="#tr3" stroke="#b4dcff" stroke-width="0.55" fill="none" opacity="0.55"/><path d="M403.6 224.9l1-4.1 1-3.8 1-3.6 1-3.5 1-3.1 1-3 1-2.8 1-2.5 1-2.3 1-2.1 1-1.9 1-1.6 1-1.4 1-1.3 1-0.9 1-0.8 1-0.6 1-0.3 1-0.1 1 0.1 1 0.3 1 0.6 1 0.8 1 1 1 1.2 1 1.4 1 1.6 1 1.9 1 2.1 1 2.3 1 2.5 1 2.8 1 3 1 3.2 1 3.4 1 3.6 1 3.8M466.4 224.9l1-3.1 1-2.9 1-2.7 1-2.6 1-2.4 1-2.2 1-2 1-1.9 1-1.6 1-1.5 1-1.4 1-1.1 1-1 1-0.8 1-0.6 1-0.4 1-0.3 1-0.1 1 0.1 1 0.2 1 0.5 1 0.6 1 0.8 1 0.9 1 1.2 1 1.3 1 1.5 1 1.7 1 1.8 1 2 1 2.2 1 2.4 1 2.5 1 2.7 1 2.9 1 3.1" stroke="#c8f0ff" stroke-width="0.7" fill="none" opacity="0.8"/><rect x="395.5" y="226.4" width="1" height="0.8" fill="#60ffc0" opacity="0.5"/><rect x="400.9" y="226" width="1" height="0.8" fill="#9fff60" opacity="0.5"/><rect x="400.2" y="227.4" width="1" height="0.8" fill="#9fff60" opacity="0.5"/><rect x="401.6" y="225.8" width="1" height="0.8" fill="#ffff40" opacity="0.5"/><rect x="461.2" y="228.6" width="1" height="0.8" fill="#40e0ff" opacity="0.5"/><rect x="446.1" y="226.7" width="1" height="0.8" fill="#ffff40" opacity="0.5"/><rect x="448.2" y="229.1" width="1" height="0.8" fill="#ffff40" opacity="0.5"/><rect x="506.7" y="224.8" width="1" height="0.8" fill="#60ffc0" opacity="0.5"/><rect x="462.4" y="228.1" width="1" height="0.8" fill="#ffff40" opacity="0.5"/><rect x="457.3" y="227.2" width="1" height="0.8" fill="#40e0ff" opacity="0.5"/><rect x="464.5" y="227.2" width="1" height="0.8" fill="#40e0ff" opacity="0.5"/><rect x="396.2" y="226.9" width="1" height="0.8" fill="#60ffc0" opacity="0.5"/><rect x="508.7" y="226.5" width="1" height="0.8" fill="#ffff40" opacity="0.5"/><rect x="400.2" y="225.6" width="1" height="0.8" fill="#9fff60" opacity="0.5"/><rect x="450.8" y="226" width="1" height="0.8" fill="#40e0ff" opacity="0.5"/><rect x="462.4" y="226.3" width="1" height="0.8" fill="#60ffc0" opacity="0.5"/><rect x="512.4" y="227.2" width="1" height="0.8" fill="#ffff40" opacity="0.5"/><rect x="398" y="226.6" width="1" height="0.8" fill="#9fff60" opacity="0.5"/><rect x="445.1" y="228.2" width="1" height="0.8" fill="#9fff60" opacity="0.5"/><rect x="462.8" y="227.2" width="1" height="0.8" fill="#9fff60" opacity="0.5"/><rect x="393.2" y="226.1" width="1" height="0.8" fill="#ffff40" opacity="0.5"/><rect x="401.6" y="225.6" width="1" height="0.8" fill="#9fff60" opacity="0.5"/></g><rect x="521.6" y="165.3" width="6.6" height="110.1" fill="url(#jet)"/><text x="461.4" y="161.3" textLength="79.5" lengthAdjust="spacingAndGlyphs" style="font-family:'Liberation Sans', sans-serif;font-size:8.0px;fill:#222;stroke:#222;stroke-width:0.2px;font-weight:bold;font-size:8.4px;fill:#111;stroke:none;" text-anchor="middle">Persistence spectrum</text><text transform="translate(389.4 168.8) scale(1.0 1)" style="font-family:'Liberation Sans', sans-serif;font-size:8.0px;fill:#222;stroke:#222;stroke-width:0.2px;font-size:8.1px;" text-anchor="end">0</text><text transform="translate(390.5 224.2) scale(1.0 1)" style="font-family:'Liberation Sans', sans-serif;font-size:8.0px;fill:#222;stroke:#222;stroke-width:0.2px;font-size:8.1px;" text-anchor="end">-50</text><text transform="translate(390.8 278.6) scale(1.0 1)" style="font-family:'Liberation Sans', sans-serif;font-size:8.0px;fill:#222;stroke:#222;stroke-width:0.2px;font-size:8.1px;" text-anchor="end">-100</text><text transform="translate(392.7 283.6) scale(1.0 1)" style="font-family:'Liberation Sans', sans-serif;font-size:8.0px;fill:#222;stroke:#222;stroke-width:0.2px;font-size:8.1px;" text-anchor="middle">0</text><text transform="translate(423.4 283.6) scale(1.0 1)" style="font-family:'Liberation Sans', sans-serif;font-size:8.0px;fill:#222;stroke:#222;stroke-width:0.2px;font-size:8.1px;" text-anchor="middle">50</text><text transform="translate(454 283.6) scale(1.0 1)" style="font-family:'Liberation Sans', sans-serif;font-size:8.0px;fill:#222;stroke:#222;stroke-width:0.2px;font-size:8.1px;" text-anchor="middle">100</text><text transform="translate(484.7 283.6) scale(1.0 1)" style="font-family:'Liberation Sans', sans-serif;font-size:8.0px;fill:#222;stroke:#222;stroke-width:0.2px;font-size:8.1px;" text-anchor="middle">150</text><text transform="translate(515.4 283.6) scale(1.0 1)" style="font-family:'Liberation Sans', sans-serif;font-size:8.0px;fill:#222;stroke:#222;stroke-width:0.2px;font-size:8.1px;" text-anchor="middle">200</text><text transform="translate(458.7 292) scale(0.955 1)" style="font-family:'Liberation Sans', sans-serif;font-size:8.0px;fill:#222;stroke:#222;stroke-width:0.2px;" text-anchor="middle">Frequency (Hz)</text><text transform="translate(456.6 304.4) scale(0.955 1)" style="font-family:'Liberation Sans', sans-serif;font-size:8.0px;fill:#222;stroke:#222;stroke-width:0.2px;fill:#ecc13a;stroke:#ecc13a;stroke-width:0.12px;" text-anchor="middle">Signal with AWGN (SNR = 20)</text><text transform="translate(377.3 217.4) rotate(-90) scale(0.955 1)" style="font-family:'Liberation Sans', sans-serif;font-size:8.0px;fill:#222;stroke:#222;stroke-width:0.2px;" text-anchor="middle">Power spectrum (dB)</text><text transform="translate(530.1 180.2) scale(1.0 1)" style="font-family:'Liberation Sans', sans-serif;font-size:8.0px;fill:#222;stroke:#222;stroke-width:0.2px;font-size:8.1px;">25</text><text transform="translate(530.1 219.8) scale(1.0 1)" style="font-family:'Liberation Sans', sans-serif;font-size:8.0px;fill:#222;stroke:#222;stroke-width:0.2px;font-size:8.1px;">15</text><text transform="translate(530.1 262.4) scale(1.0 1)" style="font-family:'Liberation Sans', sans-serif;font-size:8.0px;fill:#222;stroke:#222;stroke-width:0.2px;font-size:8.1px;">5</text><text transform="translate(546 220.9) rotate(-90) scale(0.955 1)" style="font-family:'Liberation Sans', sans-serif;font-size:8.0px;fill:#222;stroke:#222;stroke-width:0.2px;" text-anchor="middle">Density(%)</text></svg></body></html>
